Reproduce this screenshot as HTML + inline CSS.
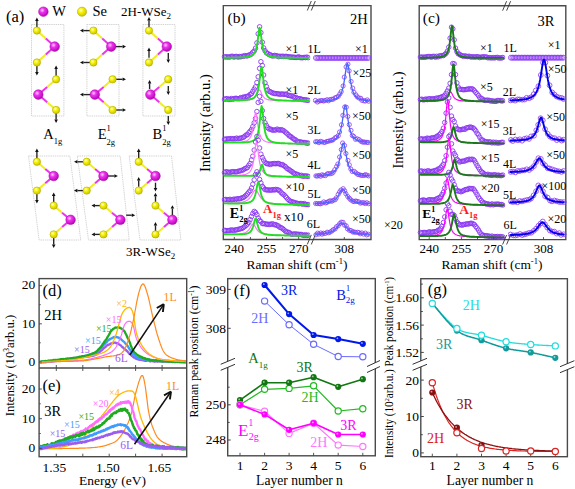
<!DOCTYPE html><html><head><meta charset="utf-8"><style>html,body{margin:0;padding:0;background:#fff;width:575px;height:489px;overflow:hidden;position:relative;font-family:"Liberation Serif", serif}</style></head><body><svg width="575" height="489" viewBox="0 0 575 489" style="position:absolute;left:0;top:0;font-family:'Liberation Serif', serif">
<rect width="575" height="489" fill="#fff"/>
<defs>
<radialGradient id="gW" cx="0.38" cy="0.35" r="0.7"><stop offset="0" stop-color="#ffd0ff"/><stop offset="0.35" stop-color="#ee33ee"/><stop offset="1" stop-color="#b000b0"/></radialGradient>
<radialGradient id="gS" cx="0.38" cy="0.35" r="0.7"><stop offset="0" stop-color="#ffffd0"/><stop offset="0.4" stop-color="#f4f000"/><stop offset="1" stop-color="#c8c000"/></radialGradient>
<marker id="ah" viewBox="0 0 10 10" refX="8" refY="5" markerWidth="4" markerHeight="4" orient="auto"><path d="M0,0 L10,5 L0,10 z" fill="#111"/></marker>
</defs>
<text x="6.0" y="21.6" font-size="16.5" text-anchor="start" fill="#000" font-weight="normal" >(a)</text>
<circle cx="43.4" cy="11.7" r="4.8" fill="url(#gW)" stroke="#a800a8" stroke-width="0.5"/>
<text x="52.3" y="15.8" font-size="14.5" text-anchor="start" fill="#000" font-weight="normal" >W</text>
<circle cx="82.0" cy="11.7" r="4.6" fill="url(#gS)" stroke="#a8a000" stroke-width="0.5"/>
<text x="92.5" y="15.8" font-size="14.5" text-anchor="start" fill="#000" font-weight="normal" >Se</text>
<text x="121.0" y="15.5" font-size="13" text-anchor="start" fill="#000" font-weight="normal" >2H-WSe<tspan font-size="9" dy="3">2</tspan></text>
<rect x="31.5" y="24.5" width="32.4" height="91.5" fill="none" stroke="#c8c8c8" stroke-width="0.8" stroke-dasharray="1.4,0.8"/>
<rect x="86.9" y="24.5" width="32.1" height="91.5" fill="none" stroke="#c8c8c8" stroke-width="0.8" stroke-dasharray="1.4,0.8"/>
<rect x="142.9" y="24.5" width="32.1" height="91.5" fill="none" stroke="#c8c8c8" stroke-width="0.8" stroke-dasharray="1.4,0.8"/>
<line x1="36.9" y1="30.6" x2="45.8" y2="38.6" stroke="#f0ee20" stroke-width="2.0" />
<line x1="45.8" y1="38.6" x2="54.7" y2="46.6" stroke="#ee33ee" stroke-width="2.0" />
<line x1="36.9" y1="62.5" x2="45.8" y2="54.5" stroke="#f0ee20" stroke-width="2.0" />
<line x1="45.8" y1="54.5" x2="54.7" y2="46.6" stroke="#ee33ee" stroke-width="2.0" />
<line x1="56.1" y1="79.3" x2="47.2" y2="86.9" stroke="#f0ee20" stroke-width="2.0" />
<line x1="47.2" y1="86.9" x2="38.3" y2="94.6" stroke="#ee33ee" stroke-width="2.0" />
<line x1="56.1" y1="110.0" x2="47.2" y2="102.3" stroke="#f0ee20" stroke-width="2.0" />
<line x1="47.2" y1="102.3" x2="38.3" y2="94.6" stroke="#ee33ee" stroke-width="2.0" />
<line x1="93.4" y1="30.6" x2="102.3" y2="38.6" stroke="#f0ee20" stroke-width="2.0" />
<line x1="102.3" y1="38.6" x2="111.2" y2="46.6" stroke="#ee33ee" stroke-width="2.0" />
<line x1="93.4" y1="62.5" x2="102.3" y2="54.5" stroke="#f0ee20" stroke-width="2.0" />
<line x1="102.3" y1="54.5" x2="111.2" y2="46.6" stroke="#ee33ee" stroke-width="2.0" />
<line x1="112.6" y1="79.3" x2="103.7" y2="86.9" stroke="#f0ee20" stroke-width="2.0" />
<line x1="103.7" y1="86.9" x2="94.8" y2="94.6" stroke="#ee33ee" stroke-width="2.0" />
<line x1="112.6" y1="110.0" x2="103.7" y2="102.3" stroke="#f0ee20" stroke-width="2.0" />
<line x1="103.7" y1="102.3" x2="94.8" y2="94.6" stroke="#ee33ee" stroke-width="2.0" />
<line x1="149.0" y1="30.6" x2="157.9" y2="38.6" stroke="#f0ee20" stroke-width="2.0" />
<line x1="157.9" y1="38.6" x2="166.8" y2="46.6" stroke="#ee33ee" stroke-width="2.0" />
<line x1="149.0" y1="62.5" x2="157.9" y2="54.5" stroke="#f0ee20" stroke-width="2.0" />
<line x1="157.9" y1="54.5" x2="166.8" y2="46.6" stroke="#ee33ee" stroke-width="2.0" />
<line x1="168.2" y1="79.3" x2="159.3" y2="86.9" stroke="#f0ee20" stroke-width="2.0" />
<line x1="159.3" y1="86.9" x2="150.4" y2="94.6" stroke="#ee33ee" stroke-width="2.0" />
<line x1="168.2" y1="110.0" x2="159.3" y2="102.3" stroke="#f0ee20" stroke-width="2.0" />
<line x1="159.3" y1="102.3" x2="150.4" y2="94.6" stroke="#ee33ee" stroke-width="2.0" />
<line x1="36.9" y1="30.6" x2="36.9" y2="20.9" stroke="#222" stroke-width="1.35" />
<path d="M36.9,17.5 L38.7,20.9 L35.1,20.9 z" fill="#111"/>
<line x1="36.9" y1="62.5" x2="36.9" y2="72.1" stroke="#222" stroke-width="1.35" />
<path d="M36.9,75.5 L35.1,72.1 L38.7,72.1 z" fill="#111"/>
<line x1="56.1" y1="79.3" x2="56.1" y2="68.9" stroke="#222" stroke-width="1.35" />
<path d="M56.1,65.5 L57.9,68.9 L54.3,68.9 z" fill="#111"/>
<line x1="56.1" y1="110.0" x2="56.1" y2="119.6" stroke="#222" stroke-width="1.35" />
<path d="M56.1,123.0 L54.3,119.6 L57.9,119.6 z" fill="#111"/>
<line x1="93.4" y1="30.6" x2="83.4" y2="30.6" stroke="#222" stroke-width="1.35" />
<path d="M80.0,30.6 L83.4,28.8 L83.4,32.4 z" fill="#111"/>
<line x1="93.4" y1="62.5" x2="83.4" y2="62.5" stroke="#222" stroke-width="1.35" />
<path d="M80.0,62.5 L83.4,60.7 L83.4,64.3 z" fill="#111"/>
<line x1="94.8" y1="94.6" x2="83.4" y2="94.6" stroke="#222" stroke-width="1.35" />
<path d="M80.0,94.6 L83.4,92.8 L83.4,96.4 z" fill="#111"/>
<line x1="111.4" y1="46.6" x2="122.6" y2="46.6" stroke="#222" stroke-width="1.35" />
<path d="M126.0,46.6 L122.6,48.4 L122.6,44.8 z" fill="#111"/>
<line x1="112.8" y1="79.3" x2="122.6" y2="79.3" stroke="#222" stroke-width="1.35" />
<path d="M126.0,79.3 L122.6,81.1 L122.6,77.5 z" fill="#111"/>
<line x1="112.8" y1="110.0" x2="122.6" y2="110.0" stroke="#222" stroke-width="1.35" />
<path d="M126.0,110.0 L122.6,111.8 L122.6,108.2 z" fill="#111"/>
<line x1="149.0" y1="30.6" x2="149.0" y2="20.4" stroke="#222" stroke-width="1.35" />
<path d="M149.0,17.0 L150.8,20.4 L147.2,20.4 z" fill="#111"/>
<line x1="149.0" y1="57.8" x2="149.0" y2="50.9" stroke="#222" stroke-width="1.35" />
<path d="M149.0,47.5 L150.8,50.9 L147.2,50.9 z" fill="#111"/>
<line x1="168.3" y1="53.0" x2="168.3" y2="59.6" stroke="#222" stroke-width="1.35" />
<path d="M168.3,63.0 L166.5,59.6 L170.1,59.6 z" fill="#111"/>
<line x1="149.6" y1="89.0" x2="149.6" y2="83.4" stroke="#222" stroke-width="1.35" />
<path d="M149.6,80.0 L151.4,83.4 L147.8,83.4 z" fill="#111"/>
<line x1="168.3" y1="86.0" x2="168.3" y2="91.6" stroke="#222" stroke-width="1.35" />
<path d="M168.3,95.0 L166.5,91.6 L170.1,91.6 z" fill="#111"/>
<line x1="168.3" y1="116.0" x2="168.3" y2="121.6" stroke="#222" stroke-width="1.35" />
<path d="M168.3,125.0 L166.5,121.6 L170.1,121.6 z" fill="#111"/>
<circle cx="36.9" cy="30.6" r="3.7" fill="url(#gS)" stroke="#a8a000" stroke-width="0.5"/>
<circle cx="36.9" cy="62.5" r="3.7" fill="url(#gS)" stroke="#a8a000" stroke-width="0.5"/>
<circle cx="56.1" cy="79.3" r="3.7" fill="url(#gS)" stroke="#a8a000" stroke-width="0.5"/>
<circle cx="56.1" cy="110.0" r="3.7" fill="url(#gS)" stroke="#a8a000" stroke-width="0.5"/>
<circle cx="54.7" cy="46.6" r="4.8" fill="url(#gW)" stroke="#a800a8" stroke-width="0.5"/>
<circle cx="38.3" cy="94.6" r="4.8" fill="url(#gW)" stroke="#a800a8" stroke-width="0.5"/>
<circle cx="93.4" cy="30.6" r="3.7" fill="url(#gS)" stroke="#a8a000" stroke-width="0.5"/>
<circle cx="93.4" cy="62.5" r="3.7" fill="url(#gS)" stroke="#a8a000" stroke-width="0.5"/>
<circle cx="112.6" cy="79.3" r="3.7" fill="url(#gS)" stroke="#a8a000" stroke-width="0.5"/>
<circle cx="112.6" cy="110.0" r="3.7" fill="url(#gS)" stroke="#a8a000" stroke-width="0.5"/>
<circle cx="111.2" cy="46.6" r="4.8" fill="url(#gW)" stroke="#a800a8" stroke-width="0.5"/>
<circle cx="94.8" cy="94.6" r="4.8" fill="url(#gW)" stroke="#a800a8" stroke-width="0.5"/>
<circle cx="149.0" cy="30.6" r="3.7" fill="url(#gS)" stroke="#a8a000" stroke-width="0.5"/>
<circle cx="149.0" cy="62.5" r="3.7" fill="url(#gS)" stroke="#a8a000" stroke-width="0.5"/>
<circle cx="168.2" cy="79.3" r="3.7" fill="url(#gS)" stroke="#a8a000" stroke-width="0.5"/>
<circle cx="168.2" cy="110.0" r="3.7" fill="url(#gS)" stroke="#a8a000" stroke-width="0.5"/>
<circle cx="166.8" cy="46.6" r="4.8" fill="url(#gW)" stroke="#a800a8" stroke-width="0.5"/>
<circle cx="150.4" cy="94.6" r="4.8" fill="url(#gW)" stroke="#a800a8" stroke-width="0.5"/>
<text x="43.2" y="138.5" font-size="14.5" text-anchor="start" fill="#000" font-weight="normal" >A<tspan font-size="8.5" dy="5">1g</tspan></text>
<text x="97.7" y="138.5" font-size="14.5" text-anchor="start" fill="#000" font-weight="normal" >E<tspan font-size="8.5" dy="-7.5">1</tspan><tspan font-size="8.5" dx="-4.2" dy="13.5">2g</tspan></text>
<text x="152.6" y="138.5" font-size="14.5" text-anchor="start" fill="#000" font-weight="normal" >B<tspan font-size="8.5" dy="-7.5">1</tspan><tspan font-size="8.5" dx="-4.2" dy="13.5">2g</tspan></text>
<path d="M28.5,156 L69.9,156 L80.7,240 L39.1,240 z" fill="none" stroke="#c8c8c8" stroke-width="0.8" stroke-dasharray="1.4,0.8"/>
<path d="M77.3,156 L120.2,156 L129.2,240 L88.5,240 z" fill="none" stroke="#c8c8c8" stroke-width="0.8" stroke-dasharray="1.4,0.8"/>
<path d="M129.2,156 L171.5,156 L180.9,240 L140,240 z" fill="none" stroke="#c8c8c8" stroke-width="0.8" stroke-dasharray="1.4,0.8"/>
<line x1="36.9" y1="161.8" x2="45.3" y2="168.9" stroke="#f0ee20" stroke-width="2.0" />
<line x1="45.3" y1="168.9" x2="53.7" y2="176.0" stroke="#ee33ee" stroke-width="2.0" />
<line x1="36.9" y1="190.6" x2="45.3" y2="183.3" stroke="#f0ee20" stroke-width="2.0" />
<line x1="45.3" y1="183.3" x2="53.7" y2="176.0" stroke="#ee33ee" stroke-width="2.0" />
<line x1="53.7" y1="205.6" x2="62.1" y2="212.7" stroke="#f0ee20" stroke-width="2.0" />
<line x1="62.1" y1="212.7" x2="70.6" y2="219.8" stroke="#ee33ee" stroke-width="2.0" />
<line x1="53.7" y1="234.4" x2="62.1" y2="227.1" stroke="#f0ee20" stroke-width="2.0" />
<line x1="62.1" y1="227.1" x2="70.6" y2="219.8" stroke="#ee33ee" stroke-width="2.0" />
<line x1="86.7" y1="161.8" x2="95.1" y2="168.9" stroke="#f0ee20" stroke-width="2.0" />
<line x1="95.1" y1="168.9" x2="103.5" y2="176.0" stroke="#ee33ee" stroke-width="2.0" />
<line x1="86.7" y1="190.6" x2="95.1" y2="183.3" stroke="#f0ee20" stroke-width="2.0" />
<line x1="95.1" y1="183.3" x2="103.5" y2="176.0" stroke="#ee33ee" stroke-width="2.0" />
<line x1="103.5" y1="205.6" x2="112.0" y2="212.7" stroke="#f0ee20" stroke-width="2.0" />
<line x1="112.0" y1="212.7" x2="120.4" y2="219.8" stroke="#ee33ee" stroke-width="2.0" />
<line x1="103.5" y1="234.4" x2="112.0" y2="227.1" stroke="#f0ee20" stroke-width="2.0" />
<line x1="112.0" y1="227.1" x2="120.4" y2="219.8" stroke="#ee33ee" stroke-width="2.0" />
<line x1="138.7" y1="161.8" x2="147.1" y2="168.9" stroke="#f0ee20" stroke-width="2.0" />
<line x1="147.1" y1="168.9" x2="155.5" y2="176.0" stroke="#ee33ee" stroke-width="2.0" />
<line x1="138.7" y1="190.6" x2="147.1" y2="183.3" stroke="#f0ee20" stroke-width="2.0" />
<line x1="147.1" y1="183.3" x2="155.5" y2="176.0" stroke="#ee33ee" stroke-width="2.0" />
<line x1="155.5" y1="205.6" x2="163.9" y2="212.7" stroke="#f0ee20" stroke-width="2.0" />
<line x1="163.9" y1="212.7" x2="172.4" y2="219.8" stroke="#ee33ee" stroke-width="2.0" />
<line x1="155.5" y1="234.4" x2="163.9" y2="227.1" stroke="#f0ee20" stroke-width="2.0" />
<line x1="163.9" y1="227.1" x2="172.4" y2="219.8" stroke="#ee33ee" stroke-width="2.0" />
<line x1="36.9" y1="161.8" x2="36.9" y2="151.9" stroke="#222" stroke-width="1.35" />
<path d="M36.9,148.5 L38.7,151.9 L35.1,151.9 z" fill="#111"/>
<line x1="36.9" y1="190.6" x2="36.9" y2="200.1" stroke="#222" stroke-width="1.35" />
<path d="M36.9,203.5 L35.1,200.1 L38.7,200.1 z" fill="#111"/>
<line x1="53.7" y1="205.6" x2="53.7" y2="195.9" stroke="#222" stroke-width="1.35" />
<path d="M53.7,192.5 L55.5,195.9 L51.9,195.9 z" fill="#111"/>
<line x1="53.7" y1="234.4" x2="53.7" y2="244.6" stroke="#222" stroke-width="1.35" />
<path d="M53.7,248.0 L51.9,244.6 L55.5,244.6 z" fill="#111"/>
<line x1="86.7" y1="161.8" x2="77.4" y2="161.8" stroke="#222" stroke-width="1.35" />
<path d="M74.0,161.8 L77.4,160.0 L77.4,163.6 z" fill="#111"/>
<line x1="86.7" y1="190.6" x2="77.4" y2="190.6" stroke="#222" stroke-width="1.35" />
<path d="M74.0,190.6 L77.4,188.8 L77.4,192.4 z" fill="#111"/>
<line x1="103.8" y1="176.0" x2="114.4" y2="176.0" stroke="#222" stroke-width="1.35" />
<path d="M117.8,176.0 L114.4,177.8 L114.4,174.2 z" fill="#111"/>
<line x1="103.5" y1="205.6" x2="94.9" y2="205.6" stroke="#222" stroke-width="1.35" />
<path d="M91.5,205.6 L94.9,203.8 L94.9,207.4 z" fill="#111"/>
<line x1="103.5" y1="234.4" x2="94.9" y2="234.4" stroke="#222" stroke-width="1.35" />
<path d="M91.5,234.4 L94.9,232.6 L94.9,236.2 z" fill="#111"/>
<line x1="126.2" y1="215.2" x2="131.8" y2="215.2" stroke="#222" stroke-width="1.35" />
<path d="M135.2,215.2 L131.8,217.0 L131.8,213.4 z" fill="#111"/>
<line x1="138.7" y1="161.8" x2="138.7" y2="151.9" stroke="#222" stroke-width="1.35" />
<path d="M138.7,148.5 L140.5,151.9 L136.9,151.9 z" fill="#111"/>
<line x1="138.7" y1="186.7" x2="138.7" y2="180.4" stroke="#222" stroke-width="1.35" />
<path d="M138.7,177.0 L140.5,180.4 L136.9,180.4 z" fill="#111"/>
<line x1="155.5" y1="182.7" x2="155.5" y2="188.1" stroke="#222" stroke-width="1.35" />
<path d="M155.5,191.5 L153.7,188.1 L157.3,188.1 z" fill="#111"/>
<line x1="155.5" y1="201.8" x2="155.5" y2="196.2" stroke="#222" stroke-width="1.35" />
<path d="M155.5,192.8 L157.3,196.2 L153.7,196.2 z" fill="#111"/>
<line x1="172.4" y1="215.3" x2="172.4" y2="208.6" stroke="#222" stroke-width="1.35" />
<path d="M172.4,205.2 L174.2,208.6 L170.6,208.6 z" fill="#111"/>
<line x1="155.5" y1="232.0" x2="155.5" y2="225.4" stroke="#222" stroke-width="1.35" />
<path d="M155.5,222.0 L157.3,225.4 L153.7,225.4 z" fill="#111"/>
<circle cx="36.9" cy="161.8" r="3.7" fill="url(#gS)" stroke="#a8a000" stroke-width="0.5"/>
<circle cx="36.9" cy="190.6" r="3.7" fill="url(#gS)" stroke="#a8a000" stroke-width="0.5"/>
<circle cx="53.7" cy="205.6" r="3.7" fill="url(#gS)" stroke="#a8a000" stroke-width="0.5"/>
<circle cx="53.7" cy="234.4" r="3.7" fill="url(#gS)" stroke="#a8a000" stroke-width="0.5"/>
<circle cx="53.7" cy="176.0" r="4.8" fill="url(#gW)" stroke="#a800a8" stroke-width="0.5"/>
<circle cx="70.6" cy="219.8" r="4.8" fill="url(#gW)" stroke="#a800a8" stroke-width="0.5"/>
<circle cx="86.7" cy="161.8" r="3.7" fill="url(#gS)" stroke="#a8a000" stroke-width="0.5"/>
<circle cx="86.7" cy="190.6" r="3.7" fill="url(#gS)" stroke="#a8a000" stroke-width="0.5"/>
<circle cx="103.5" cy="205.6" r="3.7" fill="url(#gS)" stroke="#a8a000" stroke-width="0.5"/>
<circle cx="103.5" cy="234.4" r="3.7" fill="url(#gS)" stroke="#a8a000" stroke-width="0.5"/>
<circle cx="103.5" cy="176.0" r="4.8" fill="url(#gW)" stroke="#a800a8" stroke-width="0.5"/>
<circle cx="120.4" cy="219.8" r="4.8" fill="url(#gW)" stroke="#a800a8" stroke-width="0.5"/>
<circle cx="138.7" cy="161.8" r="3.7" fill="url(#gS)" stroke="#a8a000" stroke-width="0.5"/>
<circle cx="138.7" cy="190.6" r="3.7" fill="url(#gS)" stroke="#a8a000" stroke-width="0.5"/>
<circle cx="155.5" cy="205.6" r="3.7" fill="url(#gS)" stroke="#a8a000" stroke-width="0.5"/>
<circle cx="155.5" cy="234.4" r="3.7" fill="url(#gS)" stroke="#a8a000" stroke-width="0.5"/>
<circle cx="155.5" cy="176.0" r="4.8" fill="url(#gW)" stroke="#a800a8" stroke-width="0.5"/>
<circle cx="172.4" cy="219.8" r="4.8" fill="url(#gW)" stroke="#a800a8" stroke-width="0.5"/>
<text x="126.0" y="255.5" font-size="13" text-anchor="start" fill="#000" font-weight="normal" >3R-WSe<tspan font-size="9" dy="3">2</tspan></text>
<path d="M223.3,5.6 L371,5.6 L371,239.5 L223.3,239.5 z" fill="none" stroke="#4a4a4a" stroke-width="1.4"/>
<g fill="none" stroke="#8a38f2" stroke-width="0.9"><circle cx="224.5" cy="56.7" r="2.25"/><circle cx="225.8" cy="57.0" r="2.25"/><circle cx="227.2" cy="56.8" r="2.25"/><circle cx="228.5" cy="57.0" r="2.25"/><circle cx="229.9" cy="57.0" r="2.25"/><circle cx="231.2" cy="56.4" r="2.25"/><circle cx="232.6" cy="56.3" r="2.25"/><circle cx="233.9" cy="57.1" r="2.25"/><circle cx="235.3" cy="56.5" r="2.25"/><circle cx="236.6" cy="56.4" r="2.25"/><circle cx="238.0" cy="57.1" r="2.25"/><circle cx="239.3" cy="56.5" r="2.25"/><circle cx="240.7" cy="56.8" r="2.25"/><circle cx="242.0" cy="56.3" r="2.25"/><circle cx="243.4" cy="56.3" r="2.25"/><circle cx="244.7" cy="55.6" r="2.25"/><circle cx="246.1" cy="55.9" r="2.25"/><circle cx="247.4" cy="55.8" r="2.25"/><circle cx="248.8" cy="55.1" r="2.25"/><circle cx="250.1" cy="54.7" r="2.25"/><circle cx="251.5" cy="53.9" r="2.25"/><circle cx="252.8" cy="52.2" r="2.25"/><circle cx="254.2" cy="51.1" r="2.25"/><circle cx="255.5" cy="48.2" r="2.25"/><circle cx="256.9" cy="42.9" r="2.25"/><circle cx="258.2" cy="33.8" r="2.25"/><circle cx="259.6" cy="26.8" r="2.25"/><circle cx="260.9" cy="32.6" r="2.25"/><circle cx="262.3" cy="42.2" r="2.25"/><circle cx="263.6" cy="47.9" r="2.25"/><circle cx="265.0" cy="50.7" r="2.25"/><circle cx="266.4" cy="52.8" r="2.25"/><circle cx="267.7" cy="53.4" r="2.25"/><circle cx="269.1" cy="54.6" r="2.25"/><circle cx="270.4" cy="54.8" r="2.25"/><circle cx="271.8" cy="55.7" r="2.25"/><circle cx="273.1" cy="56.0" r="2.25"/><circle cx="274.5" cy="55.4" r="2.25"/><circle cx="275.8" cy="55.6" r="2.25"/><circle cx="277.2" cy="55.8" r="2.25"/><circle cx="278.5" cy="56.7" r="2.25"/><circle cx="279.9" cy="56.2" r="2.25"/><circle cx="281.2" cy="56.5" r="2.25"/><circle cx="282.6" cy="56.2" r="2.25"/><circle cx="283.9" cy="56.5" r="2.25"/><circle cx="285.3" cy="56.4" r="2.25"/><circle cx="286.6" cy="56.4" r="2.25"/><circle cx="288.0" cy="56.7" r="2.25"/><circle cx="289.3" cy="56.8" r="2.25"/><circle cx="290.7" cy="57.2" r="2.25"/><circle cx="292.0" cy="57.0" r="2.25"/><circle cx="293.4" cy="57.3" r="2.25"/><circle cx="294.7" cy="57.3" r="2.25"/><circle cx="296.1" cy="57.5" r="2.25"/><circle cx="297.4" cy="57.3" r="2.25"/><circle cx="298.8" cy="56.8" r="2.25"/><circle cx="300.1" cy="57.6" r="2.25"/><circle cx="301.5" cy="57.7" r="2.25"/><circle cx="302.8" cy="57.7" r="2.25"/><circle cx="304.2" cy="57.4" r="2.25"/><circle cx="305.5" cy="57.6" r="2.25"/><circle cx="306.9" cy="57.1" r="2.25"/><circle cx="308.2" cy="57.7" r="2.25"/></g>
<polyline points="223.8,57.7 224.5,57.7 225.2,57.7 225.9,57.7 226.6,57.7 227.3,57.7 228.0,57.7 228.7,57.7 229.4,57.7 230.1,57.7 230.8,57.7 231.5,57.7 232.2,57.7 232.9,57.7 233.6,57.6 234.3,57.6 235.0,57.6 235.7,57.6 236.4,57.6 237.1,57.6 237.8,57.6 238.5,57.5 239.2,57.5 239.9,57.5 240.6,57.5 241.3,57.4 242.0,57.4 242.7,57.4 243.4,57.3 244.1,57.3 244.8,57.2 245.5,57.1 246.2,57.1 246.9,57.0 247.6,56.9 248.3,56.7 249.0,56.6 249.7,56.4 250.4,56.2 251.1,55.9 251.8,55.5 252.5,55.1 253.2,54.5 253.9,53.8 254.6,52.8 255.3,51.4 256.0,49.4 256.7,46.6 257.4,42.7 258.1,37.4 258.8,31.5 259.5,27.7 260.2,28.8 260.9,34.0 261.6,39.8 262.3,44.6 263.0,48.0 263.7,50.4 264.4,52.1 265.1,53.3 265.8,54.2 266.5,54.8 267.2,55.3 267.9,55.7 268.6,56.0 269.3,56.3 270.0,56.5 270.7,56.7 271.4,56.8 272.1,56.9 272.8,57.0 273.5,57.1 274.2,57.2 274.9,57.3 275.6,57.3 276.3,57.4 277.0,57.4 277.7,57.5 278.4,57.5 279.1,57.5 279.8,57.6 280.5,57.6 281.2,57.6 281.9,57.7 282.6,57.7 283.3,57.7 284.0,57.7 284.7,57.7 285.4,57.7 286.1,57.8 286.8,57.8 287.5,57.8 288.2,57.8 288.9,57.8 289.6,57.8 290.3,57.8 291.0,57.8 291.7,57.8 292.4,57.8 293.1,57.8 293.8,57.9 294.5,57.9 295.2,57.9 295.9,57.9 296.6,57.9 297.3,57.9 298.0,57.9 298.7,57.9 299.4,57.9 300.1,57.9 300.8,57.9 301.5,57.9 302.2,57.9 302.9,57.9 303.6,57.9 304.3,57.9 305.0,57.9 305.7,57.9 306.4,57.9 307.1,57.9 307.8,57.9 308.5,57.9 309.2,57.9" fill="none" stroke="#22dd22" stroke-width="1.9" stroke-linejoin="round" />
<g fill="none" stroke="#8a38f2" stroke-width="0.8"><circle cx="315.9" cy="57.9" r="2.5"/><circle cx="317.4" cy="57.9" r="2.5"/><circle cx="318.9" cy="57.9" r="2.5"/><circle cx="320.4" cy="57.9" r="2.5"/><circle cx="321.9" cy="57.9" r="2.5"/><circle cx="323.4" cy="57.9" r="2.5"/><circle cx="324.9" cy="57.9" r="2.5"/><circle cx="326.4" cy="57.9" r="2.5"/><circle cx="327.9" cy="57.9" r="2.5"/><circle cx="329.4" cy="57.9" r="2.5"/><circle cx="330.9" cy="57.9" r="2.5"/><circle cx="332.4" cy="57.9" r="2.5"/><circle cx="333.9" cy="57.9" r="2.5"/><circle cx="335.4" cy="57.9" r="2.5"/><circle cx="336.9" cy="57.9" r="2.5"/><circle cx="338.4" cy="57.9" r="2.5"/><circle cx="339.9" cy="57.9" r="2.5"/><circle cx="341.4" cy="57.9" r="2.5"/><circle cx="342.9" cy="57.9" r="2.5"/><circle cx="344.4" cy="57.9" r="2.5"/><circle cx="345.9" cy="57.9" r="2.5"/><circle cx="347.4" cy="57.9" r="2.5"/><circle cx="348.9" cy="57.9" r="2.5"/><circle cx="350.4" cy="57.9" r="2.5"/><circle cx="351.9" cy="57.9" r="2.5"/><circle cx="353.4" cy="57.9" r="2.5"/><circle cx="354.9" cy="57.9" r="2.5"/><circle cx="356.4" cy="57.9" r="2.5"/><circle cx="357.9" cy="57.9" r="2.5"/><circle cx="359.4" cy="57.9" r="2.5"/><circle cx="360.9" cy="57.9" r="2.5"/><circle cx="362.4" cy="57.9" r="2.5"/><circle cx="363.9" cy="57.9" r="2.5"/><circle cx="365.4" cy="57.9" r="2.5"/><circle cx="366.9" cy="57.9" r="2.5"/><circle cx="368.4" cy="57.9" r="2.5"/></g>
<g fill="none" stroke="#8a38f2" stroke-width="0.9"><circle cx="224.5" cy="99.2" r="2.25"/><circle cx="225.8" cy="98.9" r="2.25"/><circle cx="227.2" cy="98.6" r="2.25"/><circle cx="228.5" cy="99.4" r="2.25"/><circle cx="229.9" cy="99.5" r="2.25"/><circle cx="231.2" cy="98.5" r="2.25"/><circle cx="232.6" cy="99.2" r="2.25"/><circle cx="233.9" cy="98.7" r="2.25"/><circle cx="235.3" cy="98.3" r="2.25"/><circle cx="236.6" cy="98.4" r="2.25"/><circle cx="238.0" cy="98.7" r="2.25"/><circle cx="239.3" cy="98.6" r="2.25"/><circle cx="240.7" cy="97.6" r="2.25"/><circle cx="242.0" cy="97.9" r="2.25"/><circle cx="243.4" cy="97.0" r="2.25"/><circle cx="244.7" cy="97.3" r="2.25"/><circle cx="246.1" cy="96.5" r="2.25"/><circle cx="247.4" cy="96.4" r="2.25"/><circle cx="248.8" cy="95.8" r="2.25"/><circle cx="250.1" cy="94.4" r="2.25"/><circle cx="251.5" cy="93.7" r="2.25"/><circle cx="252.8" cy="91.4" r="2.25"/><circle cx="254.2" cy="89.1" r="2.25"/><circle cx="255.5" cy="86.9" r="2.25"/><circle cx="256.9" cy="82.5" r="2.25"/><circle cx="258.2" cy="76.8" r="2.25"/><circle cx="259.6" cy="68.4" r="2.25"/><circle cx="260.9" cy="61.7" r="2.25"/><circle cx="262.3" cy="65.5" r="2.25"/><circle cx="263.6" cy="75.0" r="2.25"/><circle cx="265.0" cy="82.9" r="2.25"/><circle cx="266.4" cy="86.6" r="2.25"/><circle cx="267.7" cy="89.8" r="2.25"/><circle cx="269.1" cy="91.3" r="2.25"/><circle cx="270.4" cy="91.8" r="2.25"/><circle cx="271.8" cy="92.6" r="2.25"/><circle cx="273.1" cy="93.1" r="2.25"/><circle cx="274.5" cy="93.5" r="2.25"/><circle cx="275.8" cy="93.6" r="2.25"/><circle cx="277.2" cy="93.7" r="2.25"/><circle cx="278.5" cy="93.9" r="2.25"/><circle cx="279.9" cy="94.3" r="2.25"/><circle cx="281.2" cy="94.0" r="2.25"/><circle cx="282.6" cy="94.0" r="2.25"/><circle cx="283.9" cy="94.4" r="2.25"/><circle cx="285.3" cy="94.1" r="2.25"/><circle cx="286.6" cy="94.4" r="2.25"/><circle cx="288.0" cy="95.4" r="2.25"/><circle cx="289.3" cy="95.4" r="2.25"/><circle cx="290.7" cy="95.9" r="2.25"/><circle cx="292.0" cy="95.9" r="2.25"/><circle cx="293.4" cy="96.8" r="2.25"/><circle cx="294.7" cy="97.5" r="2.25"/><circle cx="296.1" cy="97.4" r="2.25"/><circle cx="297.4" cy="98.4" r="2.25"/><circle cx="298.8" cy="98.8" r="2.25"/><circle cx="300.1" cy="98.6" r="2.25"/><circle cx="301.5" cy="99.4" r="2.25"/><circle cx="302.8" cy="99.5" r="2.25"/><circle cx="304.2" cy="99.9" r="2.25"/><circle cx="305.5" cy="99.7" r="2.25"/><circle cx="306.9" cy="100.2" r="2.25"/><circle cx="308.2" cy="100.3" r="2.25"/></g>
<polyline points="223.8,100.5 224.5,100.5 225.2,100.5 225.9,100.5 226.6,100.5 227.3,100.5 228.0,100.5 228.7,100.5 229.4,100.5 230.1,100.5 230.8,100.5 231.5,100.5 232.2,100.5 232.9,100.5 233.6,100.5 234.3,100.5 235.0,100.5 235.7,100.5 236.4,100.5 237.1,100.5 237.8,100.5 238.5,100.5 239.2,100.5 239.9,100.4 240.6,100.4 241.3,100.4 242.0,100.4 242.7,100.4 243.4,100.3 244.1,100.3 244.8,100.3 245.5,100.2 246.2,100.2 246.9,100.1 247.6,100.1 248.3,100.0 249.0,99.9 249.7,99.8 250.4,99.6 251.1,99.5 251.8,99.3 252.5,99.0 253.2,98.7 253.9,98.2 254.6,97.7 255.3,96.9 256.0,95.9 256.7,94.7 257.4,93.2 258.1,91.5 258.8,90.2 259.5,89.8 260.2,90.5 260.9,92.0 261.6,93.6 262.3,95.1 263.0,96.3 263.7,97.2 264.4,97.9 265.1,98.4 265.8,98.8 266.5,99.1 267.2,99.4 267.9,99.6 268.6,99.8 269.3,99.9 270.0,100.0 270.7,100.1 271.4,100.2 272.1,100.2 272.8,100.3 273.5,100.3 274.2,100.4 274.9,100.4 275.6,100.5 276.3,100.5 277.0,100.5 277.7,100.5 278.4,100.6 279.1,100.6 279.8,100.6 280.5,100.6 281.2,100.6 281.9,100.7 282.6,100.7 283.3,100.7 284.0,100.7 284.7,100.7 285.4,100.7 286.1,100.7 286.8,100.7 287.5,100.7 288.2,100.7 288.9,100.8 289.6,100.8 290.3,100.8 291.0,100.8 291.7,100.8 292.4,100.8 293.1,100.8 293.8,100.8 294.5,100.8 295.2,100.8 295.9,100.8 296.6,100.8 297.3,100.8 298.0,100.8 298.7,100.8 299.4,100.8 300.1,100.8 300.8,100.8 301.5,100.8 302.2,100.8 302.9,100.8 303.6,100.8 304.3,100.8 305.0,100.8 305.7,100.9 306.4,100.9 307.1,100.9 307.8,100.9 308.5,100.9 309.2,100.9" fill="none" stroke="#ff77ff" stroke-width="1.2" stroke-linejoin="round" />
<polyline points="223.8,100.5 224.5,100.5 225.2,100.5 225.9,100.5 226.6,100.5 227.3,100.5 228.0,100.5 228.7,100.5 229.4,100.5 230.1,100.5 230.8,100.4 231.5,100.4 232.2,100.4 232.9,100.4 233.6,100.4 234.3,100.4 235.0,100.4 235.7,100.4 236.4,100.4 237.1,100.4 237.8,100.3 238.5,100.3 239.2,100.3 239.9,100.3 240.6,100.3 241.3,100.2 242.0,100.2 242.7,100.2 243.4,100.1 244.1,100.1 244.8,100.0 245.5,100.0 246.2,99.9 246.9,99.8 247.6,99.7 248.3,99.6 249.0,99.5 249.7,99.4 250.4,99.2 251.1,99.0 251.8,98.8 252.5,98.5 253.2,98.1 253.9,97.7 254.6,97.1 255.3,96.3 256.0,95.3 256.7,94.0 257.4,92.1 258.1,89.5 258.8,85.8 259.5,80.7 260.2,74.5 260.9,68.8 261.6,66.8 262.3,70.2 263.0,76.3 263.7,82.3 264.4,87.0 265.1,90.3 265.8,92.7 266.5,94.4 267.2,95.7 267.9,96.6 268.6,97.3 269.3,97.9 270.0,98.3 270.7,98.6 271.4,98.9 272.1,99.2 272.8,99.4 273.5,99.5 274.2,99.7 274.9,99.8 275.6,99.9 276.3,100.0 277.0,100.0 277.7,100.1 278.4,100.2 279.1,100.2 279.8,100.3 280.5,100.3 281.2,100.3 281.9,100.4 282.6,100.4 283.3,100.4 284.0,100.5 284.7,100.5 285.4,100.5 286.1,100.5 286.8,100.6 287.5,100.6 288.2,100.6 288.9,100.6 289.6,100.6 290.3,100.6 291.0,100.6 291.7,100.7 292.4,100.7 293.1,100.7 293.8,100.7 294.5,100.7 295.2,100.7 295.9,100.7 296.6,100.7 297.3,100.7 298.0,100.7 298.7,100.7 299.4,100.8 300.1,100.8 300.8,100.8 301.5,100.8 302.2,100.8 302.9,100.8 303.6,100.8 304.3,100.8 305.0,100.8 305.7,100.8 306.4,100.8 307.1,100.8 307.8,100.8 308.5,100.8 309.2,100.8" fill="none" stroke="#22dd22" stroke-width="1.9" stroke-linejoin="round" />
<g fill="none" stroke="#8a38f2" stroke-width="0.8"><circle cx="315.4" cy="100.5" r="2.1"/><circle cx="317.4" cy="102.0" r="2.1"/><circle cx="318.8" cy="101.1" r="2.1"/><circle cx="320.6" cy="100.7" r="2.1"/><circle cx="322.0" cy="100.6" r="2.1"/><circle cx="323.6" cy="101.0" r="2.1"/><circle cx="325.2" cy="100.5" r="2.1"/><circle cx="327.1" cy="99.7" r="2.1"/><circle cx="328.5" cy="100.8" r="2.1"/><circle cx="330.0" cy="99.6" r="2.1"/><circle cx="331.9" cy="99.3" r="2.1"/><circle cx="333.1" cy="99.2" r="2.1"/><circle cx="335.0" cy="97.9" r="2.1"/><circle cx="336.4" cy="97.4" r="2.1"/><circle cx="338.3" cy="96.3" r="2.1"/><circle cx="339.9" cy="93.9" r="2.1"/><circle cx="341.2" cy="91.6" r="2.1"/><circle cx="343.1" cy="86.0" r="2.1"/><circle cx="344.3" cy="77.1" r="2.1"/><circle cx="346.1" cy="66.9" r="2.1"/><circle cx="347.9" cy="64.2" r="2.1"/><circle cx="349.1" cy="70.8" r="2.1"/><circle cx="351.1" cy="81.5" r="2.1"/><circle cx="352.7" cy="88.1" r="2.1"/><circle cx="353.9" cy="92.3" r="2.1"/><circle cx="355.9" cy="94.9" r="2.1"/><circle cx="357.2" cy="96.8" r="2.1"/><circle cx="358.9" cy="98.0" r="2.1"/><circle cx="360.8" cy="98.3" r="2.1"/><circle cx="361.8" cy="100.3" r="2.1"/><circle cx="363.9" cy="100.8" r="2.1"/><circle cx="365.3" cy="101.0" r="2.1"/><circle cx="367.2" cy="99.9" r="2.1"/><circle cx="368.6" cy="101.2" r="2.1"/></g>
<polyline points="314.4,101.4 315.1,101.4 315.8,101.4 316.5,101.3 317.2,101.3 317.9,101.3 318.6,101.3 319.3,101.2 320.0,101.2 320.7,101.2 321.4,101.2 322.1,101.1 322.8,101.1 323.5,101.0 324.2,101.0 324.9,100.9 325.6,100.9 326.3,100.8 327.0,100.8 327.7,100.7 328.4,100.6 329.1,100.5 329.8,100.4 330.5,100.3 331.2,100.2 331.9,100.0 332.6,99.9 333.3,99.7 334.0,99.5 334.7,99.2 335.4,98.9 336.1,98.6 336.8,98.2 337.5,97.7 338.2,97.2 338.9,96.5 339.6,95.7 340.3,94.6 341.0,93.3 341.7,91.7 342.4,89.6 343.1,87.0 343.8,83.6 344.5,79.5 345.2,74.7 345.9,69.6 346.6,65.3 347.3,63.3 348.0,64.5 348.7,68.2 349.4,73.2 350.1,78.2 350.8,82.5 351.5,86.1 352.2,88.9 352.9,91.2 353.6,92.9 354.3,94.3 355.0,95.4 355.7,96.3 356.4,97.0 357.1,97.6 357.8,98.1 358.5,98.5 359.2,98.8 359.9,99.1 360.6,99.4 361.3,99.6 362.0,99.8 362.7,100.0 363.4,100.1 364.1,100.3 364.8,100.4 365.5,100.5 366.2,100.6 366.9,100.7 367.6,100.7 368.3,100.8 369.0,100.9 369.7,100.9 370.4,101.0" fill="none" stroke="#4466ff" stroke-width="1.3" stroke-linejoin="round" />
<g fill="none" stroke="#8a38f2" stroke-width="0.9"><circle cx="224.5" cy="139.3" r="2.25"/><circle cx="225.8" cy="139.1" r="2.25"/><circle cx="227.2" cy="138.9" r="2.25"/><circle cx="228.5" cy="138.9" r="2.25"/><circle cx="229.9" cy="138.8" r="2.25"/><circle cx="231.2" cy="138.6" r="2.25"/><circle cx="232.6" cy="139.0" r="2.25"/><circle cx="233.9" cy="138.6" r="2.25"/><circle cx="235.3" cy="139.0" r="2.25"/><circle cx="236.6" cy="138.1" r="2.25"/><circle cx="238.0" cy="138.8" r="2.25"/><circle cx="239.3" cy="138.3" r="2.25"/><circle cx="240.7" cy="138.2" r="2.25"/><circle cx="242.0" cy="137.8" r="2.25"/><circle cx="243.4" cy="137.3" r="2.25"/><circle cx="244.7" cy="136.3" r="2.25"/><circle cx="246.1" cy="135.0" r="2.25"/><circle cx="247.4" cy="134.7" r="2.25"/><circle cx="248.8" cy="132.8" r="2.25"/><circle cx="250.1" cy="131.3" r="2.25"/><circle cx="251.5" cy="129.5" r="2.25"/><circle cx="252.8" cy="126.6" r="2.25"/><circle cx="254.2" cy="122.8" r="2.25"/><circle cx="255.5" cy="118.5" r="2.25"/><circle cx="256.9" cy="111.5" r="2.25"/><circle cx="258.2" cy="102.4" r="2.25"/><circle cx="259.6" cy="96.3" r="2.25"/><circle cx="260.9" cy="101.4" r="2.25"/><circle cx="262.3" cy="110.7" r="2.25"/><circle cx="263.6" cy="118.5" r="2.25"/><circle cx="265.0" cy="122.8" r="2.25"/><circle cx="266.4" cy="125.5" r="2.25"/><circle cx="267.7" cy="127.7" r="2.25"/><circle cx="269.1" cy="129.0" r="2.25"/><circle cx="270.4" cy="129.0" r="2.25"/><circle cx="271.8" cy="129.9" r="2.25"/><circle cx="273.1" cy="130.1" r="2.25"/><circle cx="274.5" cy="130.0" r="2.25"/><circle cx="275.8" cy="130.0" r="2.25"/><circle cx="277.2" cy="129.1" r="2.25"/><circle cx="278.5" cy="129.8" r="2.25"/><circle cx="279.9" cy="130.1" r="2.25"/><circle cx="281.2" cy="129.6" r="2.25"/><circle cx="282.6" cy="130.2" r="2.25"/><circle cx="283.9" cy="130.9" r="2.25"/><circle cx="285.3" cy="132.1" r="2.25"/><circle cx="286.6" cy="133.1" r="2.25"/><circle cx="288.0" cy="134.4" r="2.25"/><circle cx="289.3" cy="135.9" r="2.25"/><circle cx="290.7" cy="136.4" r="2.25"/><circle cx="292.0" cy="137.6" r="2.25"/><circle cx="293.4" cy="138.7" r="2.25"/><circle cx="294.7" cy="139.5" r="2.25"/><circle cx="296.1" cy="140.2" r="2.25"/><circle cx="297.4" cy="141.7" r="2.25"/><circle cx="298.8" cy="142.1" r="2.25"/><circle cx="300.1" cy="141.7" r="2.25"/><circle cx="301.5" cy="142.4" r="2.25"/><circle cx="302.8" cy="142.4" r="2.25"/><circle cx="304.2" cy="142.5" r="2.25"/><circle cx="305.5" cy="142.7" r="2.25"/><circle cx="306.9" cy="143.1" r="2.25"/><circle cx="308.2" cy="143.1" r="2.25"/></g>
<polyline points="223.8,142.5 224.5,142.5 225.2,142.5 225.9,142.5 226.6,142.5 227.3,142.5 228.0,142.5 228.7,142.5 229.4,142.5 230.1,142.5 230.8,142.5 231.5,142.5 232.2,142.5 232.9,142.5 233.6,142.5 234.3,142.5 235.0,142.4 235.7,142.4 236.4,142.4 237.1,142.4 237.8,142.3 238.5,142.3 239.2,142.2 239.9,142.2 240.6,142.1 241.3,142.1 242.0,142.0 242.7,141.9 243.4,141.8 244.1,141.6 244.8,141.4 245.5,141.2 246.2,141.0 246.9,140.7 247.6,140.3 248.3,139.8 249.0,139.1 249.7,138.3 250.4,137.2 251.1,135.7 251.8,133.7 252.5,130.9 253.2,127.1 253.9,122.3 254.6,117.0 255.3,113.0 256.0,112.7 256.7,116.3 257.4,121.6 258.1,126.6 258.8,130.5 259.5,133.5 260.2,135.6 260.9,137.2 261.6,138.4 262.3,139.2 263.0,139.9 263.7,140.5 264.4,140.9 265.1,141.2 265.8,141.5 266.5,141.8 267.2,142.0 267.9,142.1 268.6,142.3 269.3,142.4 270.0,142.5 270.7,142.6 271.4,142.7 272.1,142.8 272.8,142.9 273.5,142.9 274.2,143.0 274.9,143.0 275.6,143.1 276.3,143.1 277.0,143.2 277.7,143.2 278.4,143.2 279.1,143.3 279.8,143.3 280.5,143.3 281.2,143.3 281.9,143.4 282.6,143.4 283.3,143.4 284.0,143.4 284.7,143.5 285.4,143.5 286.1,143.5 286.8,143.5 287.5,143.5 288.2,143.6 288.9,143.6 289.6,143.6 290.3,143.6 291.0,143.6 291.7,143.6 292.4,143.6 293.1,143.6 293.8,143.7 294.5,143.7 295.2,143.7 295.9,143.7 296.6,143.7 297.3,143.7 298.0,143.7 298.7,143.7 299.4,143.7 300.1,143.7 300.8,143.8 301.5,143.8 302.2,143.8 302.9,143.8 303.6,143.8 304.3,143.8 305.0,143.8 305.7,143.8 306.4,143.8 307.1,143.8 307.8,143.8 308.5,143.8 309.2,143.8" fill="none" stroke="#ff77ff" stroke-width="1.2" stroke-linejoin="round" />
<polyline points="223.8,142.5 224.5,142.6 225.2,142.6 225.9,142.6 226.6,142.6 227.3,142.6 228.0,142.6 228.7,142.6 229.4,142.6 230.1,142.6 230.8,142.6 231.5,142.6 232.2,142.6 232.9,142.6 233.6,142.6 234.3,142.6 235.0,142.6 235.7,142.6 236.4,142.6 237.1,142.6 237.8,142.6 238.5,142.6 239.2,142.6 239.9,142.6 240.6,142.6 241.3,142.6 242.0,142.5 242.7,142.5 243.4,142.5 244.1,142.5 244.8,142.4 245.5,142.4 246.2,142.3 246.9,142.3 247.6,142.2 248.3,142.1 249.0,142.0 249.7,141.9 250.4,141.7 251.1,141.5 251.8,141.3 252.5,141.0 253.2,140.7 253.9,140.3 254.6,139.7 255.3,139.0 256.0,138.0 256.7,136.8 257.4,135.0 258.1,132.5 258.8,128.9 259.5,123.8 260.2,117.1 260.9,109.9 261.6,106.0 262.3,108.3 263.0,115.0 263.7,122.1 264.4,127.7 265.1,131.7 265.8,134.5 266.5,136.5 267.2,137.9 267.9,139.0 268.6,139.7 269.3,140.4 270.0,140.8 270.7,141.2 271.4,141.5 272.1,141.8 272.8,142.0 273.5,142.2 274.2,142.4 274.9,142.5 275.6,142.6 276.3,142.7 277.0,142.8 277.7,142.9 278.4,142.9 279.1,143.0 279.8,143.1 280.5,143.1 281.2,143.2 281.9,143.2 282.6,143.2 283.3,143.3 284.0,143.3 284.7,143.3 285.4,143.4 286.1,143.4 286.8,143.4 287.5,143.4 288.2,143.5 288.9,143.5 289.6,143.5 290.3,143.5 291.0,143.5 291.7,143.6 292.4,143.6 293.1,143.6 293.8,143.6 294.5,143.6 295.2,143.6 295.9,143.7 296.6,143.7 297.3,143.7 298.0,143.7 298.7,143.7 299.4,143.7 300.1,143.7 300.8,143.7 301.5,143.7 302.2,143.7 302.9,143.8 303.6,143.8 304.3,143.8 305.0,143.8 305.7,143.8 306.4,143.8 307.1,143.8 307.8,143.8 308.5,143.8 309.2,143.8" fill="none" stroke="#22dd22" stroke-width="1.9" stroke-linejoin="round" />
<g fill="none" stroke="#8a38f2" stroke-width="0.8"><circle cx="315.6" cy="141.8" r="2.1"/><circle cx="317.2" cy="141.7" r="2.1"/><circle cx="318.9" cy="142.6" r="2.1"/><circle cx="320.4" cy="141.4" r="2.1"/><circle cx="321.9" cy="141.8" r="2.1"/><circle cx="323.8" cy="142.4" r="2.1"/><circle cx="325.2" cy="142.3" r="2.1"/><circle cx="327.0" cy="141.4" r="2.1"/><circle cx="328.4" cy="141.2" r="2.1"/><circle cx="330.2" cy="140.7" r="2.1"/><circle cx="331.8" cy="140.3" r="2.1"/><circle cx="333.1" cy="139.7" r="2.1"/><circle cx="335.0" cy="137.9" r="2.1"/><circle cx="336.5" cy="137.1" r="2.1"/><circle cx="338.3" cy="135.7" r="2.1"/><circle cx="339.6" cy="132.0" r="2.1"/><circle cx="341.5" cy="124.8" r="2.1"/><circle cx="342.9" cy="115.4" r="2.1"/><circle cx="344.7" cy="107.0" r="2.1"/><circle cx="346.3" cy="107.2" r="2.1"/><circle cx="347.8" cy="116.5" r="2.1"/><circle cx="349.3" cy="124.6" r="2.1"/><circle cx="351.0" cy="130.4" r="2.1"/><circle cx="352.3" cy="135.4" r="2.1"/><circle cx="353.8" cy="136.5" r="2.1"/><circle cx="355.5" cy="139.3" r="2.1"/><circle cx="357.1" cy="138.8" r="2.1"/><circle cx="359.1" cy="139.6" r="2.1"/><circle cx="360.7" cy="141.1" r="2.1"/><circle cx="362.3" cy="142.0" r="2.1"/><circle cx="363.7" cy="142.0" r="2.1"/><circle cx="365.0" cy="142.2" r="2.1"/><circle cx="366.9" cy="142.3" r="2.1"/><circle cx="368.3" cy="142.5" r="2.1"/></g>
<polyline points="314.4,142.5 315.1,142.5 315.8,142.5 316.5,142.5 317.2,142.5 317.9,142.4 318.6,142.4 319.3,142.4 320.0,142.3 320.7,142.3 321.4,142.2 322.1,142.2 322.8,142.2 323.5,142.1 324.2,142.0 324.9,142.0 325.6,141.9 326.3,141.8 327.0,141.7 327.7,141.6 328.4,141.5 329.1,141.4 329.8,141.3 330.5,141.1 331.2,140.9 331.9,140.7 332.6,140.5 333.3,140.2 334.0,139.8 334.7,139.5 335.4,139.0 336.1,138.4 336.8,137.8 337.5,136.9 338.2,135.9 338.9,134.6 339.6,133.0 340.3,131.0 341.0,128.4 341.7,125.1 342.4,121.0 343.1,116.2 343.8,111.2 344.5,107.0 345.2,105.0 345.9,106.1 346.6,109.8 347.3,114.8 348.0,119.7 348.7,124.0 349.4,127.5 350.1,130.3 350.8,132.5 351.5,134.2 352.2,135.6 352.9,136.7 353.6,137.5 354.3,138.3 355.0,138.8 355.7,139.3 356.4,139.7 357.1,140.1 357.8,140.4 358.5,140.6 359.2,140.9 359.9,141.0 360.6,141.2 361.3,141.4 362.0,141.5 362.7,141.6 363.4,141.7 364.1,141.8 364.8,141.9 365.5,142.0 366.2,142.0 366.9,142.1 367.6,142.1 368.3,142.2 369.0,142.2 369.7,142.3 370.4,142.3" fill="none" stroke="#4466ff" stroke-width="1.3" stroke-linejoin="round" />
<g fill="none" stroke="#8a38f2" stroke-width="0.9"><circle cx="224.5" cy="172.6" r="2.25"/><circle cx="225.8" cy="171.7" r="2.25"/><circle cx="227.2" cy="172.0" r="2.25"/><circle cx="228.5" cy="172.2" r="2.25"/><circle cx="229.9" cy="172.5" r="2.25"/><circle cx="231.2" cy="171.8" r="2.25"/><circle cx="232.6" cy="171.7" r="2.25"/><circle cx="233.9" cy="171.7" r="2.25"/><circle cx="235.3" cy="171.9" r="2.25"/><circle cx="236.6" cy="171.9" r="2.25"/><circle cx="238.0" cy="171.3" r="2.25"/><circle cx="239.3" cy="171.0" r="2.25"/><circle cx="240.7" cy="170.7" r="2.25"/><circle cx="242.0" cy="170.2" r="2.25"/><circle cx="243.4" cy="169.8" r="2.25"/><circle cx="244.7" cy="168.7" r="2.25"/><circle cx="246.1" cy="168.2" r="2.25"/><circle cx="247.4" cy="167.5" r="2.25"/><circle cx="248.8" cy="165.3" r="2.25"/><circle cx="250.1" cy="163.5" r="2.25"/><circle cx="251.5" cy="159.9" r="2.25"/><circle cx="252.8" cy="156.2" r="2.25"/><circle cx="254.2" cy="150.1" r="2.25"/><circle cx="255.5" cy="142.0" r="2.25"/><circle cx="256.9" cy="136.5" r="2.25"/><circle cx="258.2" cy="140.2" r="2.25"/><circle cx="259.6" cy="148.0" r="2.25"/><circle cx="260.9" cy="154.2" r="2.25"/><circle cx="262.3" cy="157.5" r="2.25"/><circle cx="263.6" cy="160.0" r="2.25"/><circle cx="265.0" cy="162.3" r="2.25"/><circle cx="266.4" cy="163.5" r="2.25"/><circle cx="267.7" cy="163.8" r="2.25"/><circle cx="269.1" cy="164.0" r="2.25"/><circle cx="270.4" cy="164.4" r="2.25"/><circle cx="271.8" cy="163.8" r="2.25"/><circle cx="273.1" cy="163.7" r="2.25"/><circle cx="274.5" cy="163.5" r="2.25"/><circle cx="275.8" cy="163.8" r="2.25"/><circle cx="277.2" cy="163.5" r="2.25"/><circle cx="278.5" cy="163.5" r="2.25"/><circle cx="279.9" cy="164.1" r="2.25"/><circle cx="281.2" cy="164.7" r="2.25"/><circle cx="282.6" cy="164.6" r="2.25"/><circle cx="283.9" cy="165.8" r="2.25"/><circle cx="285.3" cy="166.5" r="2.25"/><circle cx="286.6" cy="168.1" r="2.25"/><circle cx="288.0" cy="169.0" r="2.25"/><circle cx="289.3" cy="169.8" r="2.25"/><circle cx="290.7" cy="170.8" r="2.25"/><circle cx="292.0" cy="171.6" r="2.25"/><circle cx="293.4" cy="172.9" r="2.25"/><circle cx="294.7" cy="173.6" r="2.25"/><circle cx="296.1" cy="174.0" r="2.25"/><circle cx="297.4" cy="174.6" r="2.25"/><circle cx="298.8" cy="175.0" r="2.25"/><circle cx="300.1" cy="175.7" r="2.25"/><circle cx="301.5" cy="175.3" r="2.25"/><circle cx="302.8" cy="176.3" r="2.25"/><circle cx="304.2" cy="175.9" r="2.25"/><circle cx="305.5" cy="176.1" r="2.25"/><circle cx="306.9" cy="176.0" r="2.25"/><circle cx="308.2" cy="176.4" r="2.25"/></g>
<polyline points="223.8,175.5 224.5,175.5 225.2,175.5 225.9,175.5 226.6,175.5 227.3,175.5 228.0,175.5 228.7,175.5 229.4,175.5 230.1,175.5 230.8,175.5 231.5,175.5 232.2,175.5 232.9,175.5 233.6,175.5 234.3,175.4 235.0,175.4 235.7,175.4 236.4,175.4 237.1,175.4 237.8,175.3 238.5,175.3 239.2,175.2 239.9,175.2 240.6,175.1 241.3,175.1 242.0,175.0 242.7,174.9 243.4,174.8 244.1,174.6 244.8,174.5 245.5,174.3 246.2,174.1 246.9,173.8 247.6,173.5 248.3,173.0 249.0,172.5 249.7,171.8 250.4,170.9 251.1,169.8 251.8,168.2 252.5,166.1 253.2,163.1 253.9,159.1 254.6,153.9 255.3,148.0 256.0,143.2 256.7,142.2 257.4,145.7 258.1,151.5 258.8,157.1 259.5,161.6 260.2,165.0 260.9,167.5 261.6,169.3 262.3,170.7 263.0,171.7 263.7,172.5 264.4,173.1 265.1,173.6 265.8,174.0 266.5,174.3 267.2,174.6 267.9,174.8 268.6,175.0 269.3,175.1 270.0,175.3 270.7,175.4 271.4,175.5 272.1,175.6 272.8,175.7 273.5,175.8 274.2,175.9 274.9,175.9 275.6,176.0 276.3,176.0 277.0,176.1 277.7,176.1 278.4,176.2 279.1,176.2 279.8,176.2 280.5,176.3 281.2,176.3 281.9,176.3 282.6,176.3 283.3,176.4 284.0,176.4 284.7,176.4 285.4,176.4 286.1,176.5 286.8,176.5 287.5,176.5 288.2,176.5 288.9,176.5 289.6,176.6 290.3,176.6 291.0,176.6 291.7,176.6 292.4,176.6 293.1,176.6 293.8,176.6 294.5,176.7 295.2,176.7 295.9,176.7 296.6,176.7 297.3,176.7 298.0,176.7 298.7,176.7 299.4,176.7 300.1,176.7 300.8,176.7 301.5,176.8 302.2,176.8 302.9,176.8 303.6,176.8 304.3,176.8 305.0,176.8 305.7,176.8 306.4,176.8 307.1,176.8 307.8,176.8 308.5,176.8 309.2,176.8" fill="none" stroke="#ff77ff" stroke-width="1.2" stroke-linejoin="round" />
<polyline points="223.8,175.7 224.5,175.7 225.2,175.7 225.9,175.7 226.6,175.7 227.3,175.7 228.0,175.7 228.7,175.7 229.4,175.8 230.1,175.8 230.8,175.8 231.5,175.8 232.2,175.8 232.9,175.8 233.6,175.8 234.3,175.8 235.0,175.9 235.7,175.9 236.4,175.9 237.1,175.9 237.8,175.9 238.5,175.9 239.2,175.9 239.9,175.9 240.6,175.9 241.3,175.9 242.0,175.9 242.7,175.9 243.4,175.9 244.1,175.9 244.8,175.9 245.5,175.9 246.2,175.9 246.9,175.9 247.6,175.9 248.3,175.9 249.0,175.9 249.7,175.9 250.4,175.9 251.1,175.8 251.8,175.8 252.5,175.7 253.2,175.7 253.9,175.6 254.6,175.5 255.3,175.3 256.0,175.1 256.7,174.8 257.4,174.4 258.1,173.9 258.8,173.0 259.5,171.8 260.2,169.9 260.9,167.3 261.6,165.0 262.3,164.9 263.0,167.0 263.7,169.6 264.4,171.6 265.1,173.0 265.8,173.9 266.5,174.5 267.2,175.0 267.9,175.3 268.6,175.5 269.3,175.7 270.0,175.8 270.7,175.9 271.4,176.0 272.1,176.1 272.8,176.2 273.5,176.2 274.2,176.3 274.9,176.3 275.6,176.3 276.3,176.4 277.0,176.4 277.7,176.4 278.4,176.5 279.1,176.5 279.8,176.5 280.5,176.5 281.2,176.5 281.9,176.6 282.6,176.6 283.3,176.6 284.0,176.6 284.7,176.6 285.4,176.6 286.1,176.6 286.8,176.7 287.5,176.7 288.2,176.7 288.9,176.7 289.6,176.7 290.3,176.7 291.0,176.7 291.7,176.7 292.4,176.7 293.1,176.7 293.8,176.8 294.5,176.8 295.2,176.8 295.9,176.8 296.6,176.8 297.3,176.8 298.0,176.8 298.7,176.8 299.4,176.8 300.1,176.8 300.8,176.8 301.5,176.8 302.2,176.8 302.9,176.8 303.6,176.9 304.3,176.9 305.0,176.9 305.7,176.9 306.4,176.9 307.1,176.9 307.8,176.9 308.5,176.9 309.2,176.9" fill="none" stroke="#22dd22" stroke-width="1.9" stroke-linejoin="round" />
<g fill="none" stroke="#8a38f2" stroke-width="0.8"><circle cx="315.9" cy="175.9" r="2.1"/><circle cx="317.3" cy="176.1" r="2.1"/><circle cx="319.1" cy="175.4" r="2.1"/><circle cx="320.6" cy="176.2" r="2.1"/><circle cx="322.1" cy="174.8" r="2.1"/><circle cx="323.5" cy="175.4" r="2.1"/><circle cx="325.4" cy="175.6" r="2.1"/><circle cx="327.1" cy="174.0" r="2.1"/><circle cx="328.3" cy="173.6" r="2.1"/><circle cx="329.9" cy="173.8" r="2.1"/><circle cx="331.9" cy="173.4" r="2.1"/><circle cx="333.2" cy="172.2" r="2.1"/><circle cx="334.8" cy="169.7" r="2.1"/><circle cx="336.6" cy="166.6" r="2.1"/><circle cx="337.9" cy="164.0" r="2.1"/><circle cx="339.6" cy="157.0" r="2.1"/><circle cx="341.3" cy="149.6" r="2.1"/><circle cx="342.6" cy="143.0" r="2.1"/><circle cx="344.5" cy="145.5" r="2.1"/><circle cx="345.9" cy="153.5" r="2.1"/><circle cx="348.0" cy="160.4" r="2.1"/><circle cx="349.3" cy="164.9" r="2.1"/><circle cx="350.8" cy="169.0" r="2.1"/><circle cx="352.3" cy="171.5" r="2.1"/><circle cx="354.3" cy="171.4" r="2.1"/><circle cx="356.0" cy="172.9" r="2.1"/><circle cx="357.5" cy="174.2" r="2.1"/><circle cx="358.8" cy="174.6" r="2.1"/><circle cx="360.6" cy="175.2" r="2.1"/><circle cx="362.0" cy="175.4" r="2.1"/><circle cx="364.0" cy="175.5" r="2.1"/><circle cx="365.3" cy="174.6" r="2.1"/><circle cx="366.9" cy="175.2" r="2.1"/><circle cx="368.6" cy="175.9" r="2.1"/></g>
<polyline points="314.4,175.9 315.1,175.9 315.8,175.9 316.5,175.8 317.2,175.8 317.9,175.8 318.6,175.7 319.3,175.7 320.0,175.6 320.7,175.6 321.4,175.5 322.1,175.5 322.8,175.4 323.5,175.3 324.2,175.2 324.9,175.1 325.6,175.0 326.3,174.9 327.0,174.8 327.7,174.6 328.4,174.5 329.1,174.3 329.8,174.0 330.5,173.8 331.2,173.5 331.9,173.2 332.6,172.7 333.3,172.3 334.0,171.7 334.7,171.0 335.4,170.2 336.1,169.2 336.8,168.0 337.5,166.4 338.2,164.5 338.9,162.2 339.6,159.3 340.3,155.9 341.0,152.0 341.7,148.0 342.4,144.8 343.1,143.1 343.8,143.6 344.5,146.0 345.2,149.7 345.9,153.7 346.6,157.4 347.3,160.6 348.0,163.3 348.7,165.4 349.4,167.1 350.1,168.5 350.8,169.7 351.5,170.6 352.2,171.3 352.9,172.0 353.6,172.5 354.3,172.9 355.0,173.3 355.7,173.6 356.4,173.9 357.1,174.1 357.8,174.3 358.5,174.5 359.2,174.7 359.9,174.8 360.6,175.0 361.3,175.1 362.0,175.2 362.7,175.3 363.4,175.3 364.1,175.4 364.8,175.5 365.5,175.5 366.2,175.6 366.9,175.7 367.6,175.7 368.3,175.7 369.0,175.8 369.7,175.8 370.4,175.9" fill="none" stroke="#4466ff" stroke-width="1.3" stroke-linejoin="round" />
<g fill="none" stroke="#8a38f2" stroke-width="0.9"><circle cx="224.5" cy="199.7" r="2.25"/><circle cx="225.8" cy="199.4" r="2.25"/><circle cx="227.2" cy="199.8" r="2.25"/><circle cx="228.5" cy="199.8" r="2.25"/><circle cx="229.9" cy="199.3" r="2.25"/><circle cx="231.2" cy="200.0" r="2.25"/><circle cx="232.6" cy="199.7" r="2.25"/><circle cx="233.9" cy="199.1" r="2.25"/><circle cx="235.3" cy="199.7" r="2.25"/><circle cx="236.6" cy="198.8" r="2.25"/><circle cx="238.0" cy="198.8" r="2.25"/><circle cx="239.3" cy="198.9" r="2.25"/><circle cx="240.7" cy="198.4" r="2.25"/><circle cx="242.0" cy="197.9" r="2.25"/><circle cx="243.4" cy="197.4" r="2.25"/><circle cx="244.7" cy="196.5" r="2.25"/><circle cx="246.1" cy="195.3" r="2.25"/><circle cx="247.4" cy="193.9" r="2.25"/><circle cx="248.8" cy="192.2" r="2.25"/><circle cx="250.1" cy="190.7" r="2.25"/><circle cx="251.5" cy="188.0" r="2.25"/><circle cx="252.8" cy="184.2" r="2.25"/><circle cx="254.2" cy="179.9" r="2.25"/><circle cx="255.5" cy="174.6" r="2.25"/><circle cx="256.9" cy="171.8" r="2.25"/><circle cx="258.2" cy="174.2" r="2.25"/><circle cx="259.6" cy="179.5" r="2.25"/><circle cx="260.9" cy="182.9" r="2.25"/><circle cx="262.3" cy="186.3" r="2.25"/><circle cx="263.6" cy="187.9" r="2.25"/><circle cx="265.0" cy="189.6" r="2.25"/><circle cx="266.4" cy="189.8" r="2.25"/><circle cx="267.7" cy="190.0" r="2.25"/><circle cx="269.1" cy="190.0" r="2.25"/><circle cx="270.4" cy="190.1" r="2.25"/><circle cx="271.8" cy="190.1" r="2.25"/><circle cx="273.1" cy="189.6" r="2.25"/><circle cx="274.5" cy="190.0" r="2.25"/><circle cx="275.8" cy="189.4" r="2.25"/><circle cx="277.2" cy="189.7" r="2.25"/><circle cx="278.5" cy="190.1" r="2.25"/><circle cx="279.9" cy="190.9" r="2.25"/><circle cx="281.2" cy="192.7" r="2.25"/><circle cx="282.6" cy="193.9" r="2.25"/><circle cx="283.9" cy="194.7" r="2.25"/><circle cx="285.3" cy="196.2" r="2.25"/><circle cx="286.6" cy="197.7" r="2.25"/><circle cx="288.0" cy="199.3" r="2.25"/><circle cx="289.3" cy="200.5" r="2.25"/><circle cx="290.7" cy="201.3" r="2.25"/><circle cx="292.0" cy="201.9" r="2.25"/><circle cx="293.4" cy="202.1" r="2.25"/><circle cx="294.7" cy="202.8" r="2.25"/><circle cx="296.1" cy="202.9" r="2.25"/><circle cx="297.4" cy="203.5" r="2.25"/><circle cx="298.8" cy="203.7" r="2.25"/><circle cx="300.1" cy="203.5" r="2.25"/><circle cx="301.5" cy="203.6" r="2.25"/><circle cx="302.8" cy="204.2" r="2.25"/><circle cx="304.2" cy="203.5" r="2.25"/><circle cx="305.5" cy="204.4" r="2.25"/><circle cx="306.9" cy="204.5" r="2.25"/><circle cx="308.2" cy="204.6" r="2.25"/></g>
<polyline points="223.8,203.2 224.5,203.2 225.2,203.2 225.9,203.2 226.6,203.2 227.3,203.2 228.0,203.2 228.7,203.2 229.4,203.1 230.1,203.1 230.8,203.1 231.5,203.1 232.2,203.1 232.9,203.1 233.6,203.0 234.3,203.0 235.0,203.0 235.7,202.9 236.4,202.9 237.1,202.8 237.8,202.8 238.5,202.7 239.2,202.6 239.9,202.6 240.6,202.5 241.3,202.3 242.0,202.2 242.7,202.1 243.4,201.9 244.1,201.7 244.8,201.4 245.5,201.2 246.2,200.8 246.9,200.4 247.6,200.0 248.3,199.4 249.0,198.8 249.7,198.0 250.4,197.1 251.1,196.1 251.8,195.0 252.5,193.7 253.2,192.4 253.9,191.3 254.6,190.4 255.3,190.0 256.0,190.2 256.7,190.8 257.4,191.8 258.1,193.1 258.8,194.4 259.5,195.6 260.2,196.8 260.9,197.8 261.6,198.6 262.3,199.3 263.0,200.0 263.7,200.5 264.4,201.0 265.1,201.4 265.8,201.7 266.5,202.0 267.2,202.2 267.9,202.4 268.6,202.6 269.3,202.8 270.0,203.0 270.7,203.1 271.4,203.2 272.1,203.3 272.8,203.4 273.5,203.5 274.2,203.6 274.9,203.7 275.6,203.7 276.3,203.8 277.0,203.8 277.7,203.9 278.4,203.9 279.1,204.0 279.8,204.0 280.5,204.1 281.2,204.1 281.9,204.2 282.6,204.2 283.3,204.2 284.0,204.2 284.7,204.3 285.4,204.3 286.1,204.3 286.8,204.4 287.5,204.4 288.2,204.4 288.9,204.4 289.6,204.4 290.3,204.5 291.0,204.5 291.7,204.5 292.4,204.5 293.1,204.5 293.8,204.6 294.5,204.6 295.2,204.6 295.9,204.6 296.6,204.6 297.3,204.6 298.0,204.6 298.7,204.6 299.4,204.7 300.1,204.7 300.8,204.7 301.5,204.7 302.2,204.7 302.9,204.7 303.6,204.7 304.3,204.7 305.0,204.7 305.7,204.7 306.4,204.8 307.1,204.8 307.8,204.8 308.5,204.8 309.2,204.8" fill="none" stroke="#ff77ff" stroke-width="1.2" stroke-linejoin="round" />
<polyline points="223.8,203.4 224.5,203.4 225.2,203.4 225.9,203.4 226.6,203.4 227.3,203.4 228.0,203.5 228.7,203.5 229.4,203.5 230.1,203.5 230.8,203.5 231.5,203.5 232.2,203.5 232.9,203.5 233.6,203.5 234.3,203.5 235.0,203.5 235.7,203.5 236.4,203.5 237.1,203.5 237.8,203.5 238.5,203.5 239.2,203.5 239.9,203.4 240.6,203.4 241.3,203.4 242.0,203.4 242.7,203.3 243.4,203.3 244.1,203.3 244.8,203.2 245.5,203.1 246.2,203.0 246.9,202.9 247.6,202.8 248.3,202.7 249.0,202.5 249.7,202.2 250.4,201.9 251.1,201.6 251.8,201.1 252.5,200.4 253.2,199.6 253.9,198.4 254.6,196.8 255.3,194.7 256.0,191.8 256.7,188.1 257.4,184.4 258.1,182.2 258.8,182.9 259.5,186.0 260.2,189.8 260.9,193.2 261.6,195.8 262.3,197.7 263.0,199.1 263.7,200.2 264.4,201.0 265.1,201.6 265.8,202.0 266.5,202.4 267.2,202.7 267.9,202.9 268.6,203.1 269.3,203.3 270.0,203.4 270.7,203.5 271.4,203.6 272.1,203.7 272.8,203.8 273.5,203.9 274.2,204.0 274.9,204.0 275.6,204.1 276.3,204.1 277.0,204.2 277.7,204.2 278.4,204.2 279.1,204.3 279.8,204.3 280.5,204.3 281.2,204.4 281.9,204.4 282.6,204.4 283.3,204.4 284.0,204.4 284.7,204.5 285.4,204.5 286.1,204.5 286.8,204.5 287.5,204.5 288.2,204.6 288.9,204.6 289.6,204.6 290.3,204.6 291.0,204.6 291.7,204.6 292.4,204.6 293.1,204.7 293.8,204.7 294.5,204.7 295.2,204.7 295.9,204.7 296.6,204.7 297.3,204.7 298.0,204.7 298.7,204.7 299.4,204.8 300.1,204.8 300.8,204.8 301.5,204.8 302.2,204.8 302.9,204.8 303.6,204.8 304.3,204.8 305.0,204.8 305.7,204.8 306.4,204.8 307.1,204.8 307.8,204.8 308.5,204.8 309.2,204.8" fill="none" stroke="#22dd22" stroke-width="1.9" stroke-linejoin="round" />
<g fill="none" stroke="#8a38f2" stroke-width="0.8"><circle cx="315.6" cy="203.5" r="2.1"/><circle cx="317.3" cy="203.6" r="2.1"/><circle cx="319.2" cy="203.6" r="2.1"/><circle cx="320.4" cy="203.8" r="2.1"/><circle cx="322.1" cy="203.2" r="2.1"/><circle cx="323.8" cy="201.9" r="2.1"/><circle cx="325.5" cy="202.9" r="2.1"/><circle cx="326.9" cy="202.4" r="2.1"/><circle cx="328.5" cy="201.5" r="2.1"/><circle cx="330.1" cy="200.8" r="2.1"/><circle cx="331.7" cy="201.3" r="2.1"/><circle cx="333.3" cy="200.3" r="2.1"/><circle cx="335.2" cy="199.7" r="2.1"/><circle cx="336.3" cy="197.9" r="2.1"/><circle cx="338.2" cy="194.4" r="2.1"/><circle cx="339.6" cy="192.0" r="2.1"/><circle cx="341.0" cy="190.0" r="2.1"/><circle cx="343.2" cy="188.7" r="2.1"/><circle cx="344.7" cy="190.8" r="2.1"/><circle cx="345.9" cy="193.8" r="2.1"/><circle cx="347.8" cy="196.6" r="2.1"/><circle cx="349.4" cy="198.3" r="2.1"/><circle cx="350.8" cy="199.9" r="2.1"/><circle cx="352.8" cy="201.1" r="2.1"/><circle cx="354.1" cy="201.6" r="2.1"/><circle cx="355.7" cy="201.0" r="2.1"/><circle cx="357.0" cy="201.4" r="2.1"/><circle cx="358.7" cy="201.8" r="2.1"/><circle cx="360.5" cy="203.1" r="2.1"/><circle cx="362.1" cy="202.7" r="2.1"/><circle cx="363.8" cy="202.7" r="2.1"/><circle cx="365.3" cy="203.6" r="2.1"/><circle cx="366.8" cy="202.7" r="2.1"/><circle cx="368.7" cy="203.7" r="2.1"/></g>
<polyline points="314.4,203.5 315.1,203.5 315.8,203.5 316.5,203.5 317.2,203.4 317.9,203.4 318.6,203.4 319.3,203.3 320.0,203.3 320.7,203.3 321.4,203.2 322.1,203.2 322.8,203.1 323.5,203.0 324.2,203.0 324.9,202.9 325.6,202.8 326.3,202.7 327.0,202.6 327.7,202.5 328.4,202.4 329.1,202.2 329.8,202.0 330.5,201.8 331.2,201.6 331.9,201.4 332.6,201.0 333.3,200.7 334.0,200.3 334.7,199.8 335.4,199.2 336.1,198.5 336.8,197.7 337.5,196.8 338.2,195.7 338.9,194.5 339.6,193.2 340.3,191.8 341.0,190.6 341.7,189.6 342.4,189.1 343.1,189.1 343.8,189.7 344.5,190.7 345.2,192.0 345.9,193.4 346.6,194.7 347.3,195.9 348.0,196.9 348.7,197.9 349.4,198.6 350.1,199.3 350.8,199.9 351.5,200.3 352.2,200.7 352.9,201.1 353.6,201.4 354.3,201.6 355.0,201.9 355.7,202.1 356.4,202.2 357.1,202.4 357.8,202.5 358.5,202.6 359.2,202.7 359.9,202.8 360.6,202.9 361.3,203.0 362.0,203.1 362.7,203.1 363.4,203.2 364.1,203.2 364.8,203.3 365.5,203.3 366.2,203.4 366.9,203.4 367.6,203.4 368.3,203.4 369.0,203.5 369.7,203.5 370.4,203.5" fill="none" stroke="#4466ff" stroke-width="1.3" stroke-linejoin="round" />
<g fill="none" stroke="#8a38f2" stroke-width="0.9"><circle cx="224.5" cy="230.4" r="2.25"/><circle cx="225.8" cy="230.5" r="2.25"/><circle cx="227.2" cy="230.6" r="2.25"/><circle cx="228.5" cy="230.7" r="2.25"/><circle cx="229.9" cy="230.3" r="2.25"/><circle cx="231.2" cy="230.0" r="2.25"/><circle cx="232.6" cy="230.1" r="2.25"/><circle cx="233.9" cy="230.6" r="2.25"/><circle cx="235.3" cy="229.8" r="2.25"/><circle cx="236.6" cy="229.9" r="2.25"/><circle cx="238.0" cy="229.4" r="2.25"/><circle cx="239.3" cy="229.1" r="2.25"/><circle cx="240.7" cy="228.7" r="2.25"/><circle cx="242.0" cy="228.4" r="2.25"/><circle cx="243.4" cy="227.5" r="2.25"/><circle cx="244.7" cy="226.5" r="2.25"/><circle cx="246.1" cy="225.4" r="2.25"/><circle cx="247.4" cy="224.0" r="2.25"/><circle cx="248.8" cy="222.5" r="2.25"/><circle cx="250.1" cy="219.6" r="2.25"/><circle cx="251.5" cy="216.5" r="2.25"/><circle cx="252.8" cy="213.5" r="2.25"/><circle cx="254.2" cy="211.4" r="2.25"/><circle cx="255.5" cy="212.5" r="2.25"/><circle cx="256.9" cy="214.7" r="2.25"/><circle cx="258.2" cy="218.0" r="2.25"/><circle cx="259.6" cy="220.4" r="2.25"/><circle cx="260.9" cy="221.6" r="2.25"/><circle cx="262.3" cy="223.6" r="2.25"/><circle cx="263.6" cy="223.6" r="2.25"/><circle cx="265.0" cy="223.8" r="2.25"/><circle cx="266.4" cy="224.3" r="2.25"/><circle cx="267.7" cy="224.1" r="2.25"/><circle cx="269.1" cy="224.5" r="2.25"/><circle cx="270.4" cy="224.2" r="2.25"/><circle cx="271.8" cy="224.0" r="2.25"/><circle cx="273.1" cy="224.0" r="2.25"/><circle cx="274.5" cy="224.8" r="2.25"/><circle cx="275.8" cy="224.6" r="2.25"/><circle cx="277.2" cy="225.6" r="2.25"/><circle cx="278.5" cy="226.0" r="2.25"/><circle cx="279.9" cy="227.4" r="2.25"/><circle cx="281.2" cy="227.7" r="2.25"/><circle cx="282.6" cy="228.6" r="2.25"/><circle cx="283.9" cy="229.7" r="2.25"/><circle cx="285.3" cy="231.1" r="2.25"/><circle cx="286.6" cy="231.8" r="2.25"/><circle cx="288.0" cy="232.2" r="2.25"/><circle cx="289.3" cy="232.6" r="2.25"/><circle cx="290.7" cy="233.7" r="2.25"/><circle cx="292.0" cy="234.3" r="2.25"/><circle cx="293.4" cy="234.2" r="2.25"/><circle cx="294.7" cy="233.9" r="2.25"/><circle cx="296.1" cy="234.1" r="2.25"/><circle cx="297.4" cy="234.2" r="2.25"/><circle cx="298.8" cy="234.4" r="2.25"/><circle cx="300.1" cy="234.4" r="2.25"/><circle cx="301.5" cy="234.5" r="2.25"/><circle cx="302.8" cy="235.1" r="2.25"/><circle cx="304.2" cy="235.4" r="2.25"/><circle cx="305.5" cy="234.7" r="2.25"/><circle cx="306.9" cy="235.5" r="2.25"/><circle cx="308.2" cy="235.1" r="2.25"/></g>
<polyline points="223.8,234.2 224.5,234.2 225.2,234.2 225.9,234.2 226.6,234.2 227.3,234.2 228.0,234.2 228.7,234.2 229.4,234.2 230.1,234.2 230.8,234.2 231.5,234.2 232.2,234.2 232.9,234.2 233.6,234.2 234.3,234.2 235.0,234.2 235.7,234.1 236.4,234.1 237.1,234.1 237.8,234.0 238.5,234.0 239.2,233.9 239.9,233.8 240.6,233.8 241.3,233.7 242.0,233.5 242.7,233.4 243.4,233.2 244.1,233.0 244.8,232.8 245.5,232.5 246.2,232.1 246.9,231.6 247.6,231.1 248.3,230.3 249.0,229.5 249.7,228.4 250.4,227.3 251.1,226.0 251.8,224.9 252.5,224.2 253.2,224.1 253.9,224.6 254.6,225.6 255.3,226.8 256.0,228.1 256.7,229.2 257.4,230.2 258.1,231.0 258.8,231.6 259.5,232.2 260.2,232.6 260.9,233.0 261.6,233.3 262.3,233.5 263.0,233.7 263.7,233.9 264.4,234.1 265.1,234.2 265.8,234.3 266.5,234.4 267.2,234.5 267.9,234.6 268.6,234.7 269.3,234.7 270.0,234.8 270.7,234.8 271.4,234.9 272.1,234.9 272.8,235.0 273.5,235.0 274.2,235.1 274.9,235.1 275.6,235.1 276.3,235.1 277.0,235.2 277.7,235.2 278.4,235.2 279.1,235.3 279.8,235.3 280.5,235.3 281.2,235.3 281.9,235.3 282.6,235.4 283.3,235.4 284.0,235.4 284.7,235.4 285.4,235.4 286.1,235.4 286.8,235.5 287.5,235.5 288.2,235.5 288.9,235.5 289.6,235.5 290.3,235.5 291.0,235.5 291.7,235.6 292.4,235.6 293.1,235.6 293.8,235.6 294.5,235.6 295.2,235.6 295.9,235.6 296.6,235.6 297.3,235.6 298.0,235.6 298.7,235.7 299.4,235.7 300.1,235.7 300.8,235.7 301.5,235.7 302.2,235.7 302.9,235.7 303.6,235.7 304.3,235.7 305.0,235.7 305.7,235.7 306.4,235.7 307.1,235.7 307.8,235.7 308.5,235.7 309.2,235.7" fill="none" stroke="#ff77ff" stroke-width="1.2" stroke-linejoin="round" />
<polyline points="223.8,234.3 224.5,234.3 225.2,234.3 225.9,234.3 226.6,234.3 227.3,234.4 228.0,234.4 228.7,234.4 229.4,234.4 230.1,234.4 230.8,234.4 231.5,234.4 232.2,234.4 232.9,234.4 233.6,234.4 234.3,234.4 235.0,234.4 235.7,234.4 236.4,234.4 237.1,234.4 237.8,234.4 238.5,234.4 239.2,234.4 239.9,234.3 240.6,234.3 241.3,234.3 242.0,234.2 242.7,234.2 243.4,234.1 244.1,234.1 244.8,234.0 245.5,233.9 246.2,233.7 246.9,233.6 247.6,233.4 248.3,233.1 249.0,232.8 249.7,232.3 250.4,231.7 251.1,230.9 251.8,229.8 252.5,228.2 253.2,226.2 253.9,223.5 254.6,220.7 255.3,218.8 256.0,219.0 256.7,221.1 257.4,224.0 258.1,226.6 258.8,228.6 259.5,230.1 260.2,231.2 260.9,232.0 261.6,232.6 262.3,233.1 263.0,233.4 263.7,233.7 264.4,233.9 265.1,234.1 265.8,234.3 266.5,234.4 267.2,234.5 267.9,234.6 268.6,234.7 269.3,234.8 270.0,234.8 270.7,234.9 271.4,235.0 272.1,235.0 272.8,235.0 273.5,235.1 274.2,235.1 274.9,235.1 275.6,235.2 276.3,235.2 277.0,235.2 277.7,235.3 278.4,235.3 279.1,235.3 279.8,235.3 280.5,235.3 281.2,235.4 281.9,235.4 282.6,235.4 283.3,235.4 284.0,235.4 284.7,235.5 285.4,235.5 286.1,235.5 286.8,235.5 287.5,235.5 288.2,235.5 288.9,235.5 289.6,235.5 290.3,235.6 291.0,235.6 291.7,235.6 292.4,235.6 293.1,235.6 293.8,235.6 294.5,235.6 295.2,235.6 295.9,235.6 296.6,235.7 297.3,235.7 298.0,235.7 298.7,235.7 299.4,235.7 300.1,235.7 300.8,235.7 301.5,235.7 302.2,235.7 302.9,235.7 303.6,235.7 304.3,235.7 305.0,235.7 305.7,235.7 306.4,235.7 307.1,235.8 307.8,235.8 308.5,235.8 309.2,235.8" fill="none" stroke="#22dd22" stroke-width="1.9" stroke-linejoin="round" />
<g fill="none" stroke="#8a38f2" stroke-width="0.8"><circle cx="315.9" cy="234.8" r="2.1"/><circle cx="317.6" cy="233.1" r="2.1"/><circle cx="318.8" cy="234.1" r="2.1"/><circle cx="320.8" cy="233.0" r="2.1"/><circle cx="322.0" cy="234.2" r="2.1"/><circle cx="323.5" cy="233.2" r="2.1"/><circle cx="325.2" cy="233.5" r="2.1"/><circle cx="327.2" cy="232.2" r="2.1"/><circle cx="328.6" cy="232.8" r="2.1"/><circle cx="330.3" cy="232.0" r="2.1"/><circle cx="332.0" cy="230.9" r="2.1"/><circle cx="333.2" cy="229.7" r="2.1"/><circle cx="335.1" cy="228.9" r="2.1"/><circle cx="336.4" cy="226.8" r="2.1"/><circle cx="338.2" cy="225.7" r="2.1"/><circle cx="339.8" cy="223.6" r="2.1"/><circle cx="341.3" cy="222.2" r="2.1"/><circle cx="343.0" cy="222.3" r="2.1"/><circle cx="344.5" cy="225.1" r="2.1"/><circle cx="346.2" cy="225.8" r="2.1"/><circle cx="347.5" cy="228.8" r="2.1"/><circle cx="349.4" cy="230.3" r="2.1"/><circle cx="351.1" cy="230.6" r="2.1"/><circle cx="352.7" cy="232.0" r="2.1"/><circle cx="354.0" cy="231.9" r="2.1"/><circle cx="355.4" cy="232.4" r="2.1"/><circle cx="357.6" cy="232.3" r="2.1"/><circle cx="358.9" cy="232.6" r="2.1"/><circle cx="360.2" cy="233.8" r="2.1"/><circle cx="361.9" cy="232.9" r="2.1"/><circle cx="363.5" cy="234.1" r="2.1"/><circle cx="365.4" cy="233.1" r="2.1"/><circle cx="366.7" cy="234.9" r="2.1"/><circle cx="368.3" cy="234.2" r="2.1"/></g>
<polyline points="314.4,234.2 315.1,234.2 315.8,234.2 316.5,234.2 317.2,234.1 317.9,234.1 318.6,234.0 319.3,234.0 320.0,233.9 320.7,233.9 321.4,233.8 322.1,233.8 322.8,233.7 323.5,233.6 324.2,233.5 324.9,233.4 325.6,233.3 326.3,233.2 327.0,233.1 327.7,232.9 328.4,232.8 329.1,232.6 329.8,232.4 330.5,232.1 331.2,231.8 331.9,231.5 332.6,231.2 333.3,230.7 334.0,230.3 334.7,229.7 335.4,229.1 336.1,228.4 336.8,227.6 337.5,226.7 338.2,225.8 338.9,224.9 339.6,224.1 340.3,223.4 341.0,223.0 341.7,222.8 342.4,223.0 343.1,223.4 343.8,224.1 344.5,224.9 345.2,225.8 345.9,226.7 346.6,227.6 347.3,228.4 348.0,229.1 348.7,229.7 349.4,230.3 350.1,230.7 350.8,231.2 351.5,231.5 352.2,231.8 352.9,232.1 353.6,232.4 354.3,232.6 355.0,232.8 355.7,232.9 356.4,233.1 357.1,233.2 357.8,233.3 358.5,233.4 359.2,233.5 359.9,233.6 360.6,233.7 361.3,233.8 362.0,233.8 362.7,233.9 363.4,233.9 364.1,234.0 364.8,234.0 365.5,234.1 366.2,234.1 366.9,234.2 367.6,234.2 368.3,234.2 369.0,234.2 369.7,234.3 370.4,234.3" fill="none" stroke="#4466ff" stroke-width="1.3" stroke-linejoin="round" />
<rect x="310.2" y="6.6" width="2.7" height="231.9" fill="#fff"/>
<line x1="307.3" y1="10.5" x2="311.3" y2="1.0" stroke="#333" stroke-width="0.9" />
<line x1="311.3" y1="10.5" x2="315.3" y2="1.0" stroke="#333" stroke-width="0.9" />
<line x1="307.3" y1="244.4" x2="311.3" y2="234.9" stroke="#333" stroke-width="0.9" />
<line x1="311.3" y1="244.4" x2="315.3" y2="234.9" stroke="#333" stroke-width="0.9" />
<line x1="234.3" y1="239.5" x2="234.3" y2="237.0" stroke="#444" stroke-width="0.9" />
<line x1="250.4" y1="239.5" x2="250.4" y2="237.0" stroke="#444" stroke-width="0.9" />
<line x1="266.5" y1="239.5" x2="266.5" y2="237.0" stroke="#444" stroke-width="0.9" />
<line x1="282.6" y1="239.5" x2="282.6" y2="237.0" stroke="#444" stroke-width="0.9" />
<line x1="298.7" y1="239.5" x2="298.7" y2="237.0" stroke="#444" stroke-width="0.9" />
<line x1="344.3" y1="239.5" x2="344.3" y2="237.0" stroke="#444" stroke-width="0.9" />
<text x="234.3" y="252.8" font-size="13" text-anchor="middle" fill="#000" font-weight="normal" >240</text>
<text x="266.5" y="252.8" font-size="13" text-anchor="middle" fill="#000" font-weight="normal" >255</text>
<text x="298.7" y="252.8" font-size="13" text-anchor="middle" fill="#000" font-weight="normal" >270</text>
<text x="344.3" y="252.8" font-size="13" text-anchor="middle" fill="#000" font-weight="normal" >308</text>
<text x="285.5" y="52.5" font-size="12" text-anchor="start" fill="#000" font-weight="normal" >×1</text>
<text x="307.5" y="52.5" font-size="12" text-anchor="start" fill="#000" font-weight="normal" >1L</text>
<text x="355.0" y="53.0" font-size="12" text-anchor="start" fill="#000" font-weight="normal" >×1</text>
<text x="285.5" y="93.5" font-size="12" text-anchor="start" fill="#000" font-weight="normal" >×1</text>
<text x="307.5" y="93.5" font-size="12" text-anchor="start" fill="#000" font-weight="normal" >2L</text>
<text x="352.5" y="76.5" font-size="12" text-anchor="start" fill="#000" font-weight="normal" >×25</text>
<text x="285.5" y="119.5" font-size="12" text-anchor="start" fill="#000" font-weight="normal" >×5</text>
<text x="307.5" y="134.0" font-size="12" text-anchor="start" fill="#000" font-weight="normal" >3L</text>
<text x="352.0" y="119.5" font-size="12" text-anchor="start" fill="#000" font-weight="normal" >×50</text>
<text x="285.5" y="157.5" font-size="12" text-anchor="start" fill="#000" font-weight="normal" >×5</text>
<text x="307.5" y="168.8" font-size="12" text-anchor="start" fill="#000" font-weight="normal" >4L</text>
<text x="352.0" y="159.3" font-size="12" text-anchor="start" fill="#000" font-weight="normal" >×50</text>
<text x="285.5" y="191.2" font-size="12" text-anchor="start" fill="#000" font-weight="normal" >×10</text>
<text x="307.5" y="198.4" font-size="12" text-anchor="start" fill="#000" font-weight="normal" >5L</text>
<text x="352.0" y="194.0" font-size="12" text-anchor="start" fill="#000" font-weight="normal" >×50</text>
<text x="284.0" y="220.9" font-size="13" text-anchor="start" fill="#000" font-weight="normal" >x10</text>
<text x="306.7" y="228.2" font-size="12" text-anchor="start" fill="#000" font-weight="normal" >6L</text>
<text x="352.0" y="222.6" font-size="12" text-anchor="start" fill="#000" font-weight="normal" >×50</text>
<text x="227.5" y="23.2" font-size="15.5" text-anchor="start" fill="#000" font-weight="normal" >(b)</text>
<text x="350.0" y="24.3" font-size="14.5" text-anchor="start" fill="#000" font-weight="normal" >2H</text>
<text x="229.8" y="217.5" font-size="14" text-anchor="start" fill="#000" font-weight="bold" >E<tspan font-size="8" dy="-6.1">1</tspan><tspan font-size="8.5" dx="-4" dy="10.6">2g</tspan></text>
<text x="263.0" y="213.3" font-size="13" text-anchor="start" fill="#ff1a1a" font-weight="bold" >A<tspan font-size="8.5" dy="4.6">1g</tspan></text>
<text x="297.0" y="268.8" font-size="13.4" text-anchor="middle" fill="#000" font-weight="normal" >Raman shift (cm<tspan font-size="8.5" dy="-5">-1</tspan><tspan dy="5">)</tspan></text>
<text x="209.8" y="123.1" font-size="15" text-anchor="middle" fill="#000" font-weight="normal" textLength="98" lengthAdjust="spacingAndGlyphs" transform="rotate(-90 209.8 123.1)">Intensity (arb.u.)</text>
<text x="383.9" y="228.8" font-size="12" text-anchor="start" fill="#000" font-weight="normal" >×20</text>
<path d="M419.2,5.8 L565.8,5.8 L565.8,239.6 L419.2,239.6 z" fill="none" stroke="#4a4a4a" stroke-width="1.4"/>
<g fill="none" stroke="#8a38f2" stroke-width="0.9"><circle cx="420.4" cy="57.0" r="2.25"/><circle cx="421.8" cy="57.3" r="2.25"/><circle cx="423.1" cy="57.1" r="2.25"/><circle cx="424.5" cy="57.3" r="2.25"/><circle cx="425.8" cy="57.0" r="2.25"/><circle cx="427.2" cy="56.7" r="2.25"/><circle cx="428.5" cy="56.6" r="2.25"/><circle cx="429.9" cy="56.5" r="2.25"/><circle cx="431.2" cy="57.2" r="2.25"/><circle cx="432.6" cy="56.5" r="2.25"/><circle cx="433.9" cy="56.3" r="2.25"/><circle cx="435.3" cy="57.2" r="2.25"/><circle cx="436.6" cy="56.3" r="2.25"/><circle cx="438.0" cy="56.9" r="2.25"/><circle cx="439.3" cy="55.9" r="2.25"/><circle cx="440.7" cy="56.0" r="2.25"/><circle cx="442.0" cy="55.5" r="2.25"/><circle cx="443.4" cy="55.6" r="2.25"/><circle cx="444.7" cy="54.6" r="2.25"/><circle cx="446.1" cy="53.3" r="2.25"/><circle cx="447.4" cy="51.2" r="2.25"/><circle cx="448.8" cy="47.1" r="2.25"/><circle cx="450.1" cy="38.2" r="2.25"/><circle cx="451.5" cy="27.2" r="2.25"/><circle cx="452.8" cy="28.8" r="2.25"/><circle cx="454.2" cy="39.9" r="2.25"/><circle cx="455.5" cy="48.1" r="2.25"/><circle cx="456.9" cy="51.6" r="2.25"/><circle cx="458.2" cy="53.8" r="2.25"/><circle cx="459.6" cy="54.3" r="2.25"/><circle cx="460.9" cy="55.4" r="2.25"/><circle cx="462.3" cy="55.8" r="2.25"/><circle cx="463.6" cy="56.3" r="2.25"/><circle cx="465.0" cy="55.9" r="2.25"/><circle cx="466.3" cy="56.3" r="2.25"/><circle cx="467.7" cy="56.6" r="2.25"/><circle cx="469.0" cy="56.2" r="2.25"/><circle cx="470.4" cy="56.8" r="2.25"/><circle cx="471.7" cy="57.0" r="2.25"/><circle cx="473.1" cy="56.8" r="2.25"/><circle cx="474.4" cy="57.0" r="2.25"/><circle cx="475.8" cy="57.0" r="2.25"/><circle cx="477.1" cy="56.7" r="2.25"/><circle cx="478.5" cy="56.9" r="2.25"/><circle cx="479.8" cy="57.6" r="2.25"/><circle cx="481.2" cy="57.0" r="2.25"/><circle cx="482.5" cy="57.1" r="2.25"/><circle cx="483.9" cy="56.8" r="2.25"/><circle cx="485.2" cy="57.0" r="2.25"/><circle cx="486.6" cy="57.0" r="2.25"/><circle cx="487.9" cy="57.8" r="2.25"/><circle cx="489.3" cy="57.6" r="2.25"/><circle cx="490.6" cy="57.8" r="2.25"/><circle cx="492.0" cy="57.9" r="2.25"/><circle cx="493.3" cy="57.6" r="2.25"/><circle cx="494.7" cy="57.9" r="2.25"/><circle cx="496.0" cy="57.5" r="2.25"/><circle cx="497.4" cy="57.4" r="2.25"/><circle cx="498.7" cy="58.0" r="2.25"/><circle cx="500.1" cy="57.9" r="2.25"/><circle cx="501.4" cy="58.0" r="2.25"/><circle cx="502.8" cy="57.5" r="2.25"/></g>
<polyline points="419.7,57.7 420.4,57.7 421.1,57.7 421.8,57.7 422.5,57.7 423.2,57.7 423.9,57.7 424.6,57.7 425.3,57.7 426.0,57.7 426.7,57.7 427.4,57.6 428.1,57.6 428.8,57.6 429.5,57.6 430.2,57.6 430.9,57.6 431.6,57.6 432.3,57.5 433.0,57.5 433.7,57.5 434.4,57.4 435.1,57.4 435.8,57.4 436.5,57.3 437.2,57.3 437.9,57.2 438.6,57.1 439.3,57.1 440.0,57.0 440.7,56.8 441.4,56.7 442.1,56.5 442.8,56.3 443.5,56.1 444.2,55.8 444.9,55.3 445.6,54.8 446.3,54.1 447.0,53.1 447.7,51.8 448.4,49.8 449.1,46.9 449.8,42.7 450.5,36.7 451.2,30.0 451.9,26.0 452.6,28.3 453.3,34.8 454.0,41.2 454.7,45.9 455.4,49.1 456.1,51.3 456.8,52.8 457.5,53.9 458.2,54.7 458.9,55.2 459.6,55.7 460.3,56.0 461.0,56.3 461.7,56.5 462.4,56.7 463.1,56.8 463.8,57.0 464.5,57.1 465.2,57.2 465.9,57.2 466.6,57.3 467.3,57.4 468.0,57.4 468.7,57.5 469.4,57.5 470.1,57.5 470.8,57.6 471.5,57.6 472.2,57.6 472.9,57.6 473.6,57.7 474.3,57.7 475.0,57.7 475.7,57.7 476.4,57.7 477.1,57.8 477.8,57.8 478.5,57.8 479.2,57.8 479.9,57.8 480.6,57.8 481.3,57.8 482.0,57.8 482.7,57.8 483.4,57.8 484.1,57.8 484.8,57.9 485.5,57.9 486.2,57.9 486.9,57.9 487.6,57.9 488.3,57.9 489.0,57.9 489.7,57.9 490.4,57.9 491.1,57.9 491.8,57.9 492.5,57.9 493.2,57.9 493.9,57.9 494.6,57.9 495.3,57.9 496.0,57.9 496.7,57.9 497.4,57.9 498.1,57.9 498.8,57.9 499.5,57.9 500.2,57.9 500.9,57.9 501.6,57.9 502.3,57.9 503.0,57.9 503.7,57.9 504.4,57.9" fill="none" stroke="#1a7a1a" stroke-width="1.9" stroke-linejoin="round" />
<g fill="none" stroke="#8a38f2" stroke-width="0.8"><circle cx="510.9" cy="57.7" r="2.5"/><circle cx="512.4" cy="57.7" r="2.5"/><circle cx="513.9" cy="57.7" r="2.5"/><circle cx="515.4" cy="57.7" r="2.5"/><circle cx="516.9" cy="57.7" r="2.5"/><circle cx="518.4" cy="57.7" r="2.5"/><circle cx="519.9" cy="57.7" r="2.5"/><circle cx="521.4" cy="57.7" r="2.5"/><circle cx="522.9" cy="57.7" r="2.5"/><circle cx="524.4" cy="57.7" r="2.5"/><circle cx="525.9" cy="57.7" r="2.5"/><circle cx="527.4" cy="57.7" r="2.5"/><circle cx="528.9" cy="57.7" r="2.5"/><circle cx="530.4" cy="57.7" r="2.5"/><circle cx="531.9" cy="57.7" r="2.5"/><circle cx="533.4" cy="57.7" r="2.5"/><circle cx="534.9" cy="57.7" r="2.5"/><circle cx="536.4" cy="57.7" r="2.5"/><circle cx="537.9" cy="57.7" r="2.5"/><circle cx="539.4" cy="57.7" r="2.5"/><circle cx="540.9" cy="57.7" r="2.5"/><circle cx="542.4" cy="57.7" r="2.5"/><circle cx="543.9" cy="57.7" r="2.5"/><circle cx="545.4" cy="57.7" r="2.5"/><circle cx="546.9" cy="57.7" r="2.5"/><circle cx="548.4" cy="57.7" r="2.5"/><circle cx="549.9" cy="57.7" r="2.5"/><circle cx="551.4" cy="57.7" r="2.5"/><circle cx="552.9" cy="57.7" r="2.5"/><circle cx="554.4" cy="57.7" r="2.5"/><circle cx="555.9" cy="57.7" r="2.5"/><circle cx="557.4" cy="57.7" r="2.5"/><circle cx="558.9" cy="57.7" r="2.5"/><circle cx="560.4" cy="57.7" r="2.5"/><circle cx="561.9" cy="57.7" r="2.5"/><circle cx="563.4" cy="57.7" r="2.5"/></g>
<g fill="none" stroke="#8a38f2" stroke-width="0.9"><circle cx="420.4" cy="99.6" r="2.25"/><circle cx="421.8" cy="99.2" r="2.25"/><circle cx="423.1" cy="99.8" r="2.25"/><circle cx="424.5" cy="99.7" r="2.25"/><circle cx="425.8" cy="99.0" r="2.25"/><circle cx="427.2" cy="99.6" r="2.25"/><circle cx="428.5" cy="98.8" r="2.25"/><circle cx="429.9" cy="98.7" r="2.25"/><circle cx="431.2" cy="99.3" r="2.25"/><circle cx="432.6" cy="98.7" r="2.25"/><circle cx="433.9" cy="98.8" r="2.25"/><circle cx="435.3" cy="98.8" r="2.25"/><circle cx="436.6" cy="98.0" r="2.25"/><circle cx="438.0" cy="98.5" r="2.25"/><circle cx="439.3" cy="97.6" r="2.25"/><circle cx="440.7" cy="97.4" r="2.25"/><circle cx="442.0" cy="96.7" r="2.25"/><circle cx="443.4" cy="96.3" r="2.25"/><circle cx="444.7" cy="95.3" r="2.25"/><circle cx="446.1" cy="93.3" r="2.25"/><circle cx="447.4" cy="91.0" r="2.25"/><circle cx="448.8" cy="88.1" r="2.25"/><circle cx="450.1" cy="83.3" r="2.25"/><circle cx="451.5" cy="74.6" r="2.25"/><circle cx="452.8" cy="63.5" r="2.25"/><circle cx="454.2" cy="63.8" r="2.25"/><circle cx="455.5" cy="74.6" r="2.25"/><circle cx="456.9" cy="82.9" r="2.25"/><circle cx="458.2" cy="87.1" r="2.25"/><circle cx="459.6" cy="89.0" r="2.25"/><circle cx="460.9" cy="89.4" r="2.25"/><circle cx="462.3" cy="89.5" r="2.25"/><circle cx="463.6" cy="89.7" r="2.25"/><circle cx="465.0" cy="89.6" r="2.25"/><circle cx="466.3" cy="89.4" r="2.25"/><circle cx="467.7" cy="89.2" r="2.25"/><circle cx="469.0" cy="88.8" r="2.25"/><circle cx="470.4" cy="89.2" r="2.25"/><circle cx="471.7" cy="88.7" r="2.25"/><circle cx="473.1" cy="89.3" r="2.25"/><circle cx="474.4" cy="90.8" r="2.25"/><circle cx="475.8" cy="92.4" r="2.25"/><circle cx="477.1" cy="93.9" r="2.25"/><circle cx="478.5" cy="95.6" r="2.25"/><circle cx="479.8" cy="97.8" r="2.25"/><circle cx="481.2" cy="98.2" r="2.25"/><circle cx="482.5" cy="99.1" r="2.25"/><circle cx="483.9" cy="100.1" r="2.25"/><circle cx="485.2" cy="100.4" r="2.25"/><circle cx="486.6" cy="100.2" r="2.25"/><circle cx="487.9" cy="100.2" r="2.25"/><circle cx="489.3" cy="100.4" r="2.25"/><circle cx="490.6" cy="101.0" r="2.25"/><circle cx="492.0" cy="100.8" r="2.25"/><circle cx="493.3" cy="101.3" r="2.25"/><circle cx="494.7" cy="101.2" r="2.25"/><circle cx="496.0" cy="101.4" r="2.25"/><circle cx="497.4" cy="100.5" r="2.25"/><circle cx="498.7" cy="100.6" r="2.25"/><circle cx="500.1" cy="100.5" r="2.25"/><circle cx="501.4" cy="100.9" r="2.25"/><circle cx="502.8" cy="100.8" r="2.25"/></g>
<polyline points="419.7,101.0 420.4,101.0 421.1,101.0 421.8,101.0 422.5,101.0 423.2,101.0 423.9,101.0 424.6,101.0 425.3,101.0 426.0,101.0 426.7,101.0 427.4,101.0 428.1,101.0 428.8,101.0 429.5,101.0 430.2,101.0 430.9,101.0 431.6,101.0 432.3,100.9 433.0,100.9 433.7,100.9 434.4,100.9 435.1,100.9 435.8,100.8 436.5,100.8 437.2,100.8 437.9,100.7 438.6,100.7 439.3,100.6 440.0,100.5 440.7,100.4 441.4,100.3 442.1,100.2 442.8,100.0 443.5,99.8 444.2,99.5 444.9,99.2 445.6,98.7 446.3,98.1 447.0,97.3 447.7,96.2 448.4,94.9 449.1,93.5 449.8,92.3 450.5,91.8 451.2,92.3 451.9,93.5 452.6,95.0 453.3,96.3 454.0,97.3 454.7,98.2 455.4,98.8 456.1,99.3 456.8,99.6 457.5,99.9 458.2,100.1 458.9,100.3 459.6,100.5 460.3,100.6 461.0,100.7 461.7,100.8 462.4,100.8 463.1,100.9 463.8,101.0 464.5,101.0 465.2,101.1 465.9,101.1 466.6,101.1 467.3,101.2 468.0,101.2 468.7,101.2 469.4,101.2 470.1,101.2 470.8,101.3 471.5,101.3 472.2,101.3 472.9,101.3 473.6,101.3 474.3,101.3 475.0,101.4 475.7,101.4 476.4,101.4 477.1,101.4 477.8,101.4 478.5,101.4 479.2,101.4 479.9,101.4 480.6,101.4 481.3,101.4 482.0,101.4 482.7,101.4 483.4,101.5 484.1,101.5 484.8,101.5 485.5,101.5 486.2,101.5 486.9,101.5 487.6,101.5 488.3,101.5 489.0,101.5 489.7,101.5 490.4,101.5 491.1,101.5 491.8,101.5 492.5,101.5 493.2,101.5 493.9,101.5 494.6,101.5 495.3,101.5 496.0,101.5 496.7,101.5 497.4,101.5 498.1,101.6 498.8,101.6 499.5,101.6 500.2,101.6 500.9,101.6 501.6,101.6 502.3,101.6 503.0,101.6 503.7,101.6 504.4,101.6" fill="none" stroke="#ff00ff" stroke-width="1.2" stroke-linejoin="round" />
<polyline points="419.7,100.9 420.4,100.9 421.1,100.9 421.8,100.9 422.5,100.9 423.2,100.9 423.9,100.9 424.6,100.9 425.3,100.9 426.0,100.9 426.7,100.9 427.4,100.9 428.1,100.9 428.8,100.9 429.5,100.9 430.2,100.8 430.9,100.8 431.6,100.8 432.3,100.8 433.0,100.8 433.7,100.7 434.4,100.7 435.1,100.7 435.8,100.6 436.5,100.6 437.2,100.6 437.9,100.5 438.6,100.4 439.3,100.4 440.0,100.3 440.7,100.2 441.4,100.1 442.1,99.9 442.8,99.8 443.5,99.6 444.2,99.3 444.9,99.0 445.6,98.6 446.3,98.1 447.0,97.5 447.7,96.6 448.4,95.4 449.1,93.8 449.8,91.5 450.5,88.2 451.2,83.4 451.9,76.8 452.6,69.2 453.3,64.2 454.0,65.7 454.7,72.5 455.4,79.9 456.1,85.7 456.8,89.8 457.5,92.7 458.2,94.6 458.9,96.1 459.6,97.1 460.3,97.8 461.0,98.4 461.7,98.9 462.4,99.3 463.1,99.6 463.8,99.8 464.5,100.0 465.2,100.2 465.9,100.3 466.6,100.4 467.3,100.5 468.0,100.6 468.7,100.7 469.4,100.8 470.1,100.8 470.8,100.9 471.5,100.9 472.2,101.0 472.9,101.0 473.6,101.0 474.3,101.1 475.0,101.1 475.7,101.1 476.4,101.2 477.1,101.2 477.8,101.2 478.5,101.2 479.2,101.2 479.9,101.3 480.6,101.3 481.3,101.3 482.0,101.3 482.7,101.3 483.4,101.3 484.1,101.3 484.8,101.4 485.5,101.4 486.2,101.4 486.9,101.4 487.6,101.4 488.3,101.4 489.0,101.4 489.7,101.4 490.4,101.4 491.1,101.4 491.8,101.4 492.5,101.5 493.2,101.5 493.9,101.5 494.6,101.5 495.3,101.5 496.0,101.5 496.7,101.5 497.4,101.5 498.1,101.5 498.8,101.5 499.5,101.5 500.2,101.5 500.9,101.5 501.6,101.5 502.3,101.5 503.0,101.5 503.7,101.5 504.4,101.5" fill="none" stroke="#1a7a1a" stroke-width="1.9" stroke-linejoin="round" />
<g fill="none" stroke="#8a38f2" stroke-width="0.8"><circle cx="510.4" cy="100.4" r="2.4"/><circle cx="512.8" cy="99.8" r="2.4"/><circle cx="515.1" cy="100.6" r="2.4"/><circle cx="517.6" cy="99.4" r="2.4"/><circle cx="519.6" cy="99.5" r="2.4"/><circle cx="522.3" cy="99.7" r="2.4"/><circle cx="524.7" cy="99.5" r="2.4"/><circle cx="526.6" cy="97.8" r="2.4"/><circle cx="529.3" cy="98.2" r="2.4"/><circle cx="531.4" cy="97.1" r="2.4"/><circle cx="533.7" cy="94.2" r="2.4"/><circle cx="535.8" cy="90.5" r="2.4"/><circle cx="538.4" cy="86.2" r="2.4"/><circle cx="540.8" cy="75.0" r="2.4"/><circle cx="543.0" cy="62.7" r="2.4"/><circle cx="545.4" cy="62.6" r="2.4"/><circle cx="547.4" cy="75.6" r="2.4"/><circle cx="549.6" cy="85.3" r="2.4"/><circle cx="552.2" cy="92.4" r="2.4"/><circle cx="554.4" cy="94.5" r="2.4"/><circle cx="556.6" cy="96.5" r="2.4"/><circle cx="559.2" cy="97.6" r="2.4"/><circle cx="561.6" cy="97.9" r="2.4"/><circle cx="563.5" cy="99.0" r="2.4"/></g>
<polyline points="509.4,100.5 510.1,100.4 510.8,100.4 511.5,100.4 512.2,100.4 512.9,100.3 513.6,100.3 514.3,100.3 515.0,100.2 515.7,100.2 516.4,100.1 517.1,100.1 517.8,100.1 518.5,100.0 519.2,99.9 519.9,99.9 520.6,99.8 521.3,99.8 522.0,99.7 522.7,99.6 523.4,99.5 524.1,99.4 524.8,99.3 525.5,99.1 526.2,99.0 526.9,98.8 527.6,98.7 528.3,98.5 529.0,98.2 529.7,98.0 530.4,97.7 531.1,97.4 531.8,97.0 532.5,96.5 533.2,96.0 533.9,95.4 534.6,94.6 535.3,93.8 536.0,92.7 536.7,91.4 537.4,89.9 538.1,87.9 538.8,85.6 539.5,82.7 540.2,79.2 540.9,75.1 541.6,70.5 542.3,65.8 543.0,61.9 543.7,59.7 544.4,59.9 545.1,62.4 545.8,66.5 546.5,71.2 547.2,75.7 547.9,79.7 548.6,83.1 549.3,85.9 550.0,88.2 550.7,90.1 551.4,91.6 552.1,92.9 552.8,93.9 553.5,94.8 554.2,95.5 554.9,96.1 555.6,96.6 556.3,97.0 557.0,97.4 557.7,97.7 558.4,98.0 559.1,98.3 559.8,98.5 560.5,98.7 561.2,98.9 561.9,99.0 562.6,99.2 563.3,99.3 564.0,99.4 564.7,99.5" fill="none" stroke="#0000ee" stroke-width="1.9" stroke-linejoin="round" />
<g fill="none" stroke="#8a38f2" stroke-width="0.9"><circle cx="420.4" cy="138.7" r="2.25"/><circle cx="421.8" cy="139.1" r="2.25"/><circle cx="423.1" cy="139.1" r="2.25"/><circle cx="424.5" cy="139.2" r="2.25"/><circle cx="425.8" cy="138.8" r="2.25"/><circle cx="427.2" cy="138.1" r="2.25"/><circle cx="428.5" cy="138.6" r="2.25"/><circle cx="429.9" cy="138.4" r="2.25"/><circle cx="431.2" cy="138.2" r="2.25"/><circle cx="432.6" cy="137.7" r="2.25"/><circle cx="433.9" cy="137.9" r="2.25"/><circle cx="435.3" cy="137.6" r="2.25"/><circle cx="436.6" cy="136.3" r="2.25"/><circle cx="438.0" cy="136.0" r="2.25"/><circle cx="439.3" cy="134.7" r="2.25"/><circle cx="440.7" cy="133.3" r="2.25"/><circle cx="442.0" cy="131.5" r="2.25"/><circle cx="443.4" cy="128.2" r="2.25"/><circle cx="444.7" cy="122.5" r="2.25"/><circle cx="446.1" cy="113.1" r="2.25"/><circle cx="447.4" cy="102.1" r="2.25"/><circle cx="448.8" cy="97.9" r="2.25"/><circle cx="450.1" cy="107.3" r="2.25"/><circle cx="451.5" cy="116.1" r="2.25"/><circle cx="452.8" cy="119.6" r="2.25"/><circle cx="454.2" cy="121.6" r="2.25"/><circle cx="455.5" cy="126.0" r="2.25"/><circle cx="456.9" cy="128.6" r="2.25"/><circle cx="458.2" cy="129.3" r="2.25"/><circle cx="459.6" cy="129.8" r="2.25"/><circle cx="460.9" cy="129.7" r="2.25"/><circle cx="462.3" cy="129.3" r="2.25"/><circle cx="463.6" cy="129.0" r="2.25"/><circle cx="465.0" cy="129.3" r="2.25"/><circle cx="466.3" cy="127.9" r="2.25"/><circle cx="467.7" cy="127.7" r="2.25"/><circle cx="469.0" cy="127.3" r="2.25"/><circle cx="470.4" cy="127.0" r="2.25"/><circle cx="471.7" cy="127.5" r="2.25"/><circle cx="473.1" cy="127.9" r="2.25"/><circle cx="474.4" cy="129.1" r="2.25"/><circle cx="475.8" cy="130.8" r="2.25"/><circle cx="477.1" cy="133.3" r="2.25"/><circle cx="478.5" cy="134.9" r="2.25"/><circle cx="479.8" cy="137.3" r="2.25"/><circle cx="481.2" cy="139.7" r="2.25"/><circle cx="482.5" cy="140.0" r="2.25"/><circle cx="483.9" cy="141.0" r="2.25"/><circle cx="485.2" cy="141.7" r="2.25"/><circle cx="486.6" cy="141.8" r="2.25"/><circle cx="487.9" cy="142.2" r="2.25"/><circle cx="489.3" cy="141.8" r="2.25"/><circle cx="490.6" cy="142.1" r="2.25"/><circle cx="492.0" cy="142.9" r="2.25"/><circle cx="493.3" cy="142.1" r="2.25"/><circle cx="494.7" cy="142.9" r="2.25"/><circle cx="496.0" cy="142.3" r="2.25"/><circle cx="497.4" cy="143.1" r="2.25"/><circle cx="498.7" cy="142.8" r="2.25"/><circle cx="500.1" cy="142.8" r="2.25"/><circle cx="501.4" cy="142.4" r="2.25"/><circle cx="502.8" cy="142.3" r="2.25"/></g>
<polyline points="419.7,141.9 420.4,141.9 421.1,141.9 421.8,141.9 422.5,141.9 423.2,141.9 423.9,141.9 424.6,141.9 425.3,141.9 426.0,141.8 426.7,141.8 427.4,141.8 428.1,141.8 428.8,141.7 429.5,141.7 430.2,141.7 430.9,141.6 431.6,141.6 432.3,141.5 433.0,141.4 433.7,141.3 434.4,141.2 435.1,141.1 435.8,141.0 436.5,140.8 437.2,140.6 437.9,140.3 438.6,140.0 439.3,139.6 440.0,139.1 440.7,138.4 441.4,137.6 442.1,136.4 442.8,134.9 443.5,132.7 444.2,129.7 444.9,125.4 445.6,119.2 446.3,111.3 447.0,103.4 447.7,99.7 448.4,103.4 449.1,111.4 449.8,119.3 450.5,125.5 451.2,129.8 451.9,132.9 452.6,135.1 453.3,136.6 454.0,137.8 454.7,138.7 455.4,139.3 456.1,139.9 456.8,140.3 457.5,140.7 458.2,140.9 458.9,141.2 459.6,141.4 460.3,141.6 461.0,141.7 461.7,141.8 462.4,141.9 463.1,142.0 463.8,142.1 464.5,142.2 465.2,142.3 465.9,142.3 466.6,142.4 467.3,142.5 468.0,142.5 468.7,142.6 469.4,142.6 470.1,142.6 470.8,142.7 471.5,142.7 472.2,142.7 472.9,142.8 473.6,142.8 474.3,142.8 475.0,142.8 475.7,142.9 476.4,142.9 477.1,142.9 477.8,142.9 478.5,143.0 479.2,143.0 479.9,143.0 480.6,143.0 481.3,143.0 482.0,143.0 482.7,143.1 483.4,143.1 484.1,143.1 484.8,143.1 485.5,143.1 486.2,143.1 486.9,143.1 487.6,143.1 488.3,143.2 489.0,143.2 489.7,143.2 490.4,143.2 491.1,143.2 491.8,143.2 492.5,143.2 493.2,143.2 493.9,143.2 494.6,143.2 495.3,143.3 496.0,143.3 496.7,143.3 497.4,143.3 498.1,143.3 498.8,143.3 499.5,143.3 500.2,143.3 500.9,143.3 501.6,143.3 502.3,143.3 503.0,143.3 503.7,143.3 504.4,143.3" fill="none" stroke="#ff00ff" stroke-width="1.2" stroke-linejoin="round" />
<polyline points="419.7,142.1 420.4,142.1 421.1,142.1 421.8,142.2 422.5,142.2 423.2,142.2 423.9,142.2 424.6,142.2 425.3,142.2 426.0,142.2 426.7,142.2 427.4,142.2 428.1,142.3 428.8,142.3 429.5,142.3 430.2,142.3 430.9,142.3 431.6,142.3 432.3,142.3 433.0,142.3 433.7,142.3 434.4,142.3 435.1,142.3 435.8,142.3 436.5,142.3 437.2,142.3 437.9,142.3 438.6,142.3 439.3,142.2 440.0,142.2 440.7,142.2 441.4,142.2 442.1,142.1 442.8,142.1 443.5,142.0 444.2,141.9 444.9,141.8 445.6,141.7 446.3,141.5 447.0,141.2 447.7,140.9 448.4,140.5 449.1,139.9 449.8,139.0 450.5,137.7 451.2,135.9 451.9,133.1 452.6,129.8 453.3,127.1 454.0,127.4 454.7,130.3 455.4,133.6 456.1,136.3 456.8,138.1 457.5,139.3 458.2,140.1 458.9,140.7 459.6,141.2 460.3,141.5 461.0,141.8 461.7,142.0 462.4,142.1 463.1,142.2 463.8,142.3 464.5,142.4 465.2,142.5 465.9,142.6 466.6,142.6 467.3,142.7 468.0,142.7 468.7,142.8 469.4,142.8 470.1,142.8 470.8,142.9 471.5,142.9 472.2,142.9 472.9,142.9 473.6,143.0 474.3,143.0 475.0,143.0 475.7,143.0 476.4,143.0 477.1,143.0 477.8,143.1 478.5,143.1 479.2,143.1 479.9,143.1 480.6,143.1 481.3,143.1 482.0,143.1 482.7,143.2 483.4,143.2 484.1,143.2 484.8,143.2 485.5,143.2 486.2,143.2 486.9,143.2 487.6,143.2 488.3,143.2 489.0,143.2 489.7,143.3 490.4,143.3 491.1,143.3 491.8,143.3 492.5,143.3 493.2,143.3 493.9,143.3 494.6,143.3 495.3,143.3 496.0,143.3 496.7,143.3 497.4,143.3 498.1,143.3 498.8,143.3 499.5,143.3 500.2,143.4 500.9,143.4 501.6,143.4 502.3,143.4 503.0,143.4 503.7,143.4 504.4,143.4" fill="none" stroke="#1a7a1a" stroke-width="1.9" stroke-linejoin="round" />
<g fill="none" stroke="#8a38f2" stroke-width="0.8"><circle cx="510.9" cy="139.9" r="2.4"/><circle cx="512.8" cy="141.0" r="2.4"/><circle cx="515.5" cy="139.5" r="2.4"/><circle cx="517.9" cy="140.3" r="2.4"/><circle cx="519.8" cy="139.3" r="2.4"/><circle cx="522.1" cy="140.7" r="2.4"/><circle cx="524.4" cy="138.8" r="2.4"/><circle cx="526.6" cy="138.3" r="2.4"/><circle cx="529.0" cy="138.9" r="2.4"/><circle cx="531.1" cy="136.4" r="2.4"/><circle cx="534.0" cy="135.7" r="2.4"/><circle cx="536.3" cy="130.3" r="2.4"/><circle cx="538.2" cy="124.8" r="2.4"/><circle cx="540.6" cy="118.2" r="2.4"/><circle cx="542.8" cy="120.4" r="2.4"/><circle cx="545.1" cy="129.2" r="2.4"/><circle cx="547.7" cy="133.8" r="2.4"/><circle cx="549.8" cy="136.4" r="2.4"/><circle cx="552.1" cy="137.9" r="2.4"/><circle cx="554.6" cy="138.2" r="2.4"/><circle cx="556.8" cy="140.1" r="2.4"/><circle cx="559.2" cy="139.1" r="2.4"/><circle cx="561.6" cy="140.6" r="2.4"/><circle cx="563.4" cy="139.7" r="2.4"/></g>
<polyline points="509.4,140.6 510.1,140.6 510.8,140.6 511.5,140.6 512.2,140.6 512.9,140.5 513.6,140.5 514.3,140.5 515.0,140.5 515.7,140.4 516.4,140.4 517.1,140.4 517.8,140.3 518.5,140.3 519.2,140.2 519.9,140.2 520.6,140.1 521.3,140.1 522.0,140.0 522.7,139.9 523.4,139.9 524.1,139.8 524.8,139.7 525.5,139.5 526.2,139.4 526.9,139.3 527.6,139.1 528.3,138.9 529.0,138.7 529.7,138.4 530.4,138.1 531.1,137.7 531.8,137.3 532.5,136.8 533.2,136.1 533.9,135.4 534.6,134.4 535.3,133.3 536.0,131.9 536.7,130.1 537.4,128.1 538.1,125.7 538.8,123.0 539.5,120.5 540.2,118.5 540.9,117.6 541.6,118.1 542.3,119.8 543.0,122.3 543.7,124.9 544.4,127.4 545.1,129.6 545.8,131.4 546.5,132.9 547.2,134.1 547.9,135.1 548.6,135.9 549.3,136.6 550.0,137.1 550.7,137.6 551.4,138.0 552.1,138.3 552.8,138.6 553.5,138.8 554.2,139.0 554.9,139.2 555.6,139.4 556.3,139.5 557.0,139.6 557.7,139.7 558.4,139.8 559.1,139.9 559.8,140.0 560.5,140.1 561.2,140.1 561.9,140.2 562.6,140.2 563.3,140.3 564.0,140.3 564.7,140.4" fill="none" stroke="#0000ee" stroke-width="1.9" stroke-linejoin="round" />
<g fill="none" stroke="#8a38f2" stroke-width="0.9"><circle cx="420.4" cy="171.1" r="2.25"/><circle cx="421.8" cy="171.0" r="2.25"/><circle cx="423.1" cy="171.9" r="2.25"/><circle cx="424.5" cy="171.3" r="2.25"/><circle cx="425.8" cy="171.8" r="2.25"/><circle cx="427.2" cy="171.0" r="2.25"/><circle cx="428.5" cy="170.8" r="2.25"/><circle cx="429.9" cy="171.6" r="2.25"/><circle cx="431.2" cy="171.4" r="2.25"/><circle cx="432.6" cy="171.4" r="2.25"/><circle cx="433.9" cy="170.9" r="2.25"/><circle cx="435.3" cy="170.4" r="2.25"/><circle cx="436.6" cy="170.3" r="2.25"/><circle cx="438.0" cy="169.1" r="2.25"/><circle cx="439.3" cy="168.8" r="2.25"/><circle cx="440.7" cy="167.6" r="2.25"/><circle cx="442.0" cy="165.9" r="2.25"/><circle cx="443.4" cy="164.2" r="2.25"/><circle cx="444.7" cy="160.7" r="2.25"/><circle cx="446.1" cy="155.7" r="2.25"/><circle cx="447.4" cy="147.2" r="2.25"/><circle cx="448.8" cy="136.6" r="2.25"/><circle cx="450.1" cy="135.1" r="2.25"/><circle cx="451.5" cy="143.8" r="2.25"/><circle cx="452.8" cy="151.0" r="2.25"/><circle cx="454.2" cy="153.6" r="2.25"/><circle cx="455.5" cy="155.7" r="2.25"/><circle cx="456.9" cy="159.1" r="2.25"/><circle cx="458.2" cy="160.6" r="2.25"/><circle cx="459.6" cy="162.0" r="2.25"/><circle cx="460.9" cy="161.5" r="2.25"/><circle cx="462.3" cy="161.2" r="2.25"/><circle cx="463.6" cy="161.2" r="2.25"/><circle cx="465.0" cy="160.9" r="2.25"/><circle cx="466.3" cy="160.0" r="2.25"/><circle cx="467.7" cy="159.9" r="2.25"/><circle cx="469.0" cy="159.2" r="2.25"/><circle cx="470.4" cy="159.7" r="2.25"/><circle cx="471.7" cy="159.2" r="2.25"/><circle cx="473.1" cy="159.4" r="2.25"/><circle cx="474.4" cy="160.6" r="2.25"/><circle cx="475.8" cy="163.0" r="2.25"/><circle cx="477.1" cy="165.5" r="2.25"/><circle cx="478.5" cy="167.6" r="2.25"/><circle cx="479.8" cy="169.7" r="2.25"/><circle cx="481.2" cy="171.7" r="2.25"/><circle cx="482.5" cy="172.4" r="2.25"/><circle cx="483.9" cy="173.6" r="2.25"/><circle cx="485.2" cy="174.6" r="2.25"/><circle cx="486.6" cy="174.8" r="2.25"/><circle cx="487.9" cy="174.3" r="2.25"/><circle cx="489.3" cy="175.2" r="2.25"/><circle cx="490.6" cy="174.8" r="2.25"/><circle cx="492.0" cy="175.4" r="2.25"/><circle cx="493.3" cy="174.9" r="2.25"/><circle cx="494.7" cy="174.8" r="2.25"/><circle cx="496.0" cy="175.1" r="2.25"/><circle cx="497.4" cy="175.5" r="2.25"/><circle cx="498.7" cy="175.1" r="2.25"/><circle cx="500.1" cy="175.6" r="2.25"/><circle cx="501.4" cy="175.5" r="2.25"/><circle cx="502.8" cy="175.1" r="2.25"/></g>
<polyline points="419.7,174.4 420.4,174.4 421.1,174.4 421.8,174.4 422.5,174.4 423.2,174.4 423.9,174.4 424.6,174.4 425.3,174.4 426.0,174.4 426.7,174.4 427.4,174.4 428.1,174.4 428.8,174.3 429.5,174.3 430.2,174.3 430.9,174.3 431.6,174.2 432.3,174.2 433.0,174.1 433.7,174.1 434.4,174.0 435.1,173.9 435.8,173.8 436.5,173.7 437.2,173.5 437.9,173.4 438.6,173.2 439.3,172.9 440.0,172.6 440.7,172.2 441.4,171.7 442.1,171.0 442.8,170.2 443.5,169.1 444.2,167.6 444.9,165.5 445.6,162.6 446.3,158.5 447.0,152.9 447.7,145.9 448.4,139.6 449.1,137.4 449.8,141.2 450.5,148.0 451.2,154.7 451.9,159.9 452.6,163.7 453.3,166.3 454.0,168.2 454.7,169.6 455.4,170.7 456.1,171.5 456.8,172.1 457.5,172.6 458.2,173.0 458.9,173.3 459.6,173.6 460.3,173.8 461.0,174.0 461.7,174.2 462.4,174.3 463.1,174.4 463.8,174.5 464.5,174.6 465.2,174.7 465.9,174.8 466.6,174.8 467.3,174.9 468.0,175.0 468.7,175.0 469.4,175.1 470.1,175.1 470.8,175.1 471.5,175.2 472.2,175.2 472.9,175.2 473.6,175.3 474.3,175.3 475.0,175.3 475.7,175.4 476.4,175.4 477.1,175.4 477.8,175.4 478.5,175.4 479.2,175.5 479.9,175.5 480.6,175.5 481.3,175.5 482.0,175.5 482.7,175.5 483.4,175.6 484.1,175.6 484.8,175.6 485.5,175.6 486.2,175.6 486.9,175.6 487.6,175.6 488.3,175.7 489.0,175.7 489.7,175.7 490.4,175.7 491.1,175.7 491.8,175.7 492.5,175.7 493.2,175.7 493.9,175.7 494.6,175.7 495.3,175.8 496.0,175.8 496.7,175.8 497.4,175.8 498.1,175.8 498.8,175.8 499.5,175.8 500.2,175.8 500.9,175.8 501.6,175.8 502.3,175.8 503.0,175.8 503.7,175.8 504.4,175.8" fill="none" stroke="#ff00ff" stroke-width="1.2" stroke-linejoin="round" />
<polyline points="419.7,174.6 420.4,174.6 421.1,174.7 421.8,174.7 422.5,174.7 423.2,174.7 423.9,174.7 424.6,174.7 425.3,174.7 426.0,174.7 426.7,174.7 427.4,174.8 428.1,174.8 428.8,174.8 429.5,174.8 430.2,174.8 430.9,174.8 431.6,174.8 432.3,174.8 433.0,174.8 433.7,174.8 434.4,174.8 435.1,174.8 435.8,174.8 436.5,174.8 437.2,174.8 437.9,174.8 438.6,174.8 439.3,174.8 440.0,174.8 440.7,174.7 441.4,174.7 442.1,174.7 442.8,174.6 443.5,174.6 444.2,174.5 444.9,174.5 445.6,174.4 446.3,174.2 447.0,174.1 447.7,173.9 448.4,173.6 449.1,173.2 449.8,172.7 450.5,171.9 451.2,170.8 451.9,169.2 452.6,166.8 453.3,163.6 454.0,160.4 454.7,159.2 455.4,161.2 456.1,164.6 456.8,167.7 457.5,169.8 458.2,171.3 458.9,172.3 459.6,173.0 460.3,173.5 461.0,173.9 461.7,174.2 462.4,174.4 463.1,174.6 463.8,174.7 464.5,174.8 465.2,174.9 465.9,175.0 466.6,175.1 467.3,175.1 468.0,175.2 468.7,175.2 469.4,175.3 470.1,175.3 470.8,175.3 471.5,175.4 472.2,175.4 472.9,175.4 473.6,175.4 474.3,175.5 475.0,175.5 475.7,175.5 476.4,175.5 477.1,175.5 477.8,175.6 478.5,175.6 479.2,175.6 479.9,175.6 480.6,175.6 481.3,175.6 482.0,175.6 482.7,175.6 483.4,175.7 484.1,175.7 484.8,175.7 485.5,175.7 486.2,175.7 486.9,175.7 487.6,175.7 488.3,175.7 489.0,175.7 489.7,175.8 490.4,175.8 491.1,175.8 491.8,175.8 492.5,175.8 493.2,175.8 493.9,175.8 494.6,175.8 495.3,175.8 496.0,175.8 496.7,175.8 497.4,175.8 498.1,175.8 498.8,175.8 499.5,175.8 500.2,175.9 500.9,175.9 501.6,175.9 502.3,175.9 503.0,175.9 503.7,175.9 504.4,175.9" fill="none" stroke="#1a7a1a" stroke-width="1.9" stroke-linejoin="round" />
<g fill="none" stroke="#8a38f2" stroke-width="0.8"><circle cx="510.6" cy="171.9" r="2.4"/><circle cx="512.9" cy="171.6" r="2.4"/><circle cx="515.4" cy="172.4" r="2.4"/><circle cx="517.7" cy="170.9" r="2.4"/><circle cx="519.7" cy="171.1" r="2.4"/><circle cx="522.3" cy="170.4" r="2.4"/><circle cx="524.2" cy="170.4" r="2.4"/><circle cx="526.7" cy="169.3" r="2.4"/><circle cx="529.1" cy="170.0" r="2.4"/><circle cx="531.4" cy="168.3" r="2.4"/><circle cx="533.9" cy="166.1" r="2.4"/><circle cx="536.2" cy="162.0" r="2.4"/><circle cx="538.4" cy="158.2" r="2.4"/><circle cx="540.8" cy="158.9" r="2.4"/><circle cx="542.9" cy="163.3" r="2.4"/><circle cx="545.1" cy="165.3" r="2.4"/><circle cx="547.7" cy="168.2" r="2.4"/><circle cx="549.6" cy="168.5" r="2.4"/><circle cx="552.0" cy="169.3" r="2.4"/><circle cx="554.6" cy="170.2" r="2.4"/><circle cx="556.6" cy="170.9" r="2.4"/><circle cx="559.0" cy="171.3" r="2.4"/><circle cx="561.4" cy="171.9" r="2.4"/><circle cx="563.6" cy="171.0" r="2.4"/></g>
<polyline points="509.4,172.0 510.1,172.0 510.8,172.0 511.5,172.0 512.2,171.9 512.9,171.9 513.6,171.9 514.3,171.9 515.0,171.8 515.7,171.8 516.4,171.8 517.1,171.7 517.8,171.7 518.5,171.6 519.2,171.6 519.9,171.5 520.6,171.5 521.3,171.4 522.0,171.3 522.7,171.2 523.4,171.1 524.1,171.0 524.8,170.9 525.5,170.8 526.2,170.6 526.9,170.4 527.6,170.2 528.3,170.0 529.0,169.7 529.7,169.4 530.4,169.0 531.1,168.6 531.8,168.1 532.5,167.5 533.2,166.8 533.9,165.9 534.6,165.0 535.3,163.9 536.0,162.6 536.7,161.4 537.4,160.2 538.1,159.2 538.8,158.5 539.5,158.4 540.2,158.8 540.9,159.7 541.6,160.8 542.3,162.1 543.0,163.4 543.7,164.5 544.4,165.5 545.1,166.4 545.8,167.2 546.5,167.8 547.2,168.4 547.9,168.9 548.6,169.3 549.3,169.6 550.0,169.9 550.7,170.1 551.4,170.4 552.1,170.5 552.8,170.7 553.5,170.9 554.2,171.0 554.9,171.1 555.6,171.2 556.3,171.3 557.0,171.4 557.7,171.4 558.4,171.5 559.1,171.6 559.8,171.6 560.5,171.7 561.2,171.7 561.9,171.7 562.6,171.8 563.3,171.8 564.0,171.8 564.7,171.9" fill="none" stroke="#0000ee" stroke-width="1.9" stroke-linejoin="round" />
<g fill="none" stroke="#8a38f2" stroke-width="0.9"><circle cx="420.4" cy="200.8" r="2.25"/><circle cx="421.8" cy="200.5" r="2.25"/><circle cx="423.1" cy="199.9" r="2.25"/><circle cx="424.5" cy="200.3" r="2.25"/><circle cx="425.8" cy="200.6" r="2.25"/><circle cx="427.2" cy="200.8" r="2.25"/><circle cx="428.5" cy="199.8" r="2.25"/><circle cx="429.9" cy="199.7" r="2.25"/><circle cx="431.2" cy="200.0" r="2.25"/><circle cx="432.6" cy="199.8" r="2.25"/><circle cx="433.9" cy="200.1" r="2.25"/><circle cx="435.3" cy="199.7" r="2.25"/><circle cx="436.6" cy="198.8" r="2.25"/><circle cx="438.0" cy="198.3" r="2.25"/><circle cx="439.3" cy="197.6" r="2.25"/><circle cx="440.7" cy="196.8" r="2.25"/><circle cx="442.0" cy="194.5" r="2.25"/><circle cx="443.4" cy="192.2" r="2.25"/><circle cx="444.7" cy="188.2" r="2.25"/><circle cx="446.1" cy="183.0" r="2.25"/><circle cx="447.4" cy="175.2" r="2.25"/><circle cx="448.8" cy="172.4" r="2.25"/><circle cx="450.1" cy="175.0" r="2.25"/><circle cx="451.5" cy="179.0" r="2.25"/><circle cx="452.8" cy="181.1" r="2.25"/><circle cx="454.2" cy="184.7" r="2.25"/><circle cx="455.5" cy="188.2" r="2.25"/><circle cx="456.9" cy="190.5" r="2.25"/><circle cx="458.2" cy="191.1" r="2.25"/><circle cx="459.6" cy="191.2" r="2.25"/><circle cx="460.9" cy="191.8" r="2.25"/><circle cx="462.3" cy="191.2" r="2.25"/><circle cx="463.6" cy="190.6" r="2.25"/><circle cx="465.0" cy="189.8" r="2.25"/><circle cx="466.3" cy="189.4" r="2.25"/><circle cx="467.7" cy="189.5" r="2.25"/><circle cx="469.0" cy="188.4" r="2.25"/><circle cx="470.4" cy="188.6" r="2.25"/><circle cx="471.7" cy="188.7" r="2.25"/><circle cx="473.1" cy="188.6" r="2.25"/><circle cx="474.4" cy="190.2" r="2.25"/><circle cx="475.8" cy="192.3" r="2.25"/><circle cx="477.1" cy="194.7" r="2.25"/><circle cx="478.5" cy="197.1" r="2.25"/><circle cx="479.8" cy="198.8" r="2.25"/><circle cx="481.2" cy="200.5" r="2.25"/><circle cx="482.5" cy="202.1" r="2.25"/><circle cx="483.9" cy="202.9" r="2.25"/><circle cx="485.2" cy="203.3" r="2.25"/><circle cx="486.6" cy="204.2" r="2.25"/><circle cx="487.9" cy="203.8" r="2.25"/><circle cx="489.3" cy="204.5" r="2.25"/><circle cx="490.6" cy="204.7" r="2.25"/><circle cx="492.0" cy="203.9" r="2.25"/><circle cx="493.3" cy="204.8" r="2.25"/><circle cx="494.7" cy="204.3" r="2.25"/><circle cx="496.0" cy="204.2" r="2.25"/><circle cx="497.4" cy="204.2" r="2.25"/><circle cx="498.7" cy="204.1" r="2.25"/><circle cx="500.1" cy="204.6" r="2.25"/><circle cx="501.4" cy="204.5" r="2.25"/><circle cx="502.8" cy="205.0" r="2.25"/></g>
<polyline points="419.7,203.7 420.4,203.7 421.1,203.7 421.8,203.7 422.5,203.7 423.2,203.7 423.9,203.7 424.6,203.7 425.3,203.7 426.0,203.7 426.7,203.7 427.4,203.7 428.1,203.6 428.8,203.6 429.5,203.6 430.2,203.6 430.9,203.5 431.6,203.5 432.3,203.4 433.0,203.4 433.7,203.3 434.4,203.2 435.1,203.1 435.8,203.0 436.5,202.8 437.2,202.7 437.9,202.4 438.6,202.1 439.3,201.8 440.0,201.3 440.7,200.8 441.4,200.0 442.1,199.0 442.8,197.6 443.5,195.8 444.2,193.2 444.9,189.7 445.6,185.4 446.3,181.0 447.0,178.4 447.7,179.2 448.4,182.9 449.1,187.4 449.8,191.4 450.5,194.5 451.2,196.8 451.9,198.5 452.6,199.7 453.3,200.6 454.0,201.3 454.7,201.9 455.4,202.3 456.1,202.6 456.8,202.9 457.5,203.1 458.2,203.3 458.9,203.5 459.6,203.7 460.3,203.8 461.0,203.9 461.7,204.0 462.4,204.1 463.1,204.1 463.8,204.2 464.5,204.3 465.2,204.3 465.9,204.4 466.6,204.4 467.3,204.5 468.0,204.5 468.7,204.5 469.4,204.6 470.1,204.6 470.8,204.6 471.5,204.7 472.2,204.7 472.9,204.7 473.6,204.7 474.3,204.8 475.0,204.8 475.7,204.8 476.4,204.8 477.1,204.8 477.8,204.9 478.5,204.9 479.2,204.9 479.9,204.9 480.6,204.9 481.3,204.9 482.0,205.0 482.7,205.0 483.4,205.0 484.1,205.0 484.8,205.0 485.5,205.0 486.2,205.0 486.9,205.1 487.6,205.1 488.3,205.1 489.0,205.1 489.7,205.1 490.4,205.1 491.1,205.1 491.8,205.1 492.5,205.1 493.2,205.1 493.9,205.2 494.6,205.2 495.3,205.2 496.0,205.2 496.7,205.2 497.4,205.2 498.1,205.2 498.8,205.2 499.5,205.2 500.2,205.2 500.9,205.2 501.6,205.2 502.3,205.2 503.0,205.2 503.7,205.2 504.4,205.2" fill="none" stroke="#ff00ff" stroke-width="1.2" stroke-linejoin="round" />
<polyline points="419.7,203.8 420.4,203.8 421.1,203.8 421.8,203.8 422.5,203.8 423.2,203.8 423.9,203.9 424.6,203.9 425.3,203.9 426.0,203.9 426.7,203.9 427.4,203.9 428.1,203.9 428.8,203.9 429.5,203.9 430.2,203.9 430.9,203.9 431.6,203.9 432.3,203.9 433.0,203.9 433.7,203.9 434.4,203.9 435.1,203.9 435.8,203.8 436.5,203.8 437.2,203.8 437.9,203.8 438.6,203.7 439.3,203.7 440.0,203.6 440.7,203.5 441.4,203.4 442.1,203.3 442.8,203.2 443.5,203.0 444.2,202.8 444.9,202.6 445.6,202.3 446.3,201.8 447.0,201.3 447.7,200.6 448.4,199.6 449.1,198.2 449.8,196.4 450.5,193.8 451.2,190.7 451.9,187.3 452.6,185.0 453.3,185.2 454.0,187.8 454.7,191.2 455.4,194.3 456.1,196.8 456.8,198.6 457.5,199.9 458.2,200.9 458.9,201.6 459.6,202.2 460.3,202.6 461.0,202.9 461.7,203.2 462.4,203.4 463.1,203.6 463.8,203.8 464.5,203.9 465.2,204.0 465.9,204.1 466.6,204.2 467.3,204.3 468.0,204.3 468.7,204.4 469.4,204.4 470.1,204.5 470.8,204.5 471.5,204.6 472.2,204.6 472.9,204.7 473.6,204.7 474.3,204.7 475.0,204.7 475.7,204.8 476.4,204.8 477.1,204.8 477.8,204.8 478.5,204.9 479.2,204.9 479.9,204.9 480.6,204.9 481.3,204.9 482.0,204.9 482.7,205.0 483.4,205.0 484.1,205.0 484.8,205.0 485.5,205.0 486.2,205.0 486.9,205.1 487.6,205.1 488.3,205.1 489.0,205.1 489.7,205.1 490.4,205.1 491.1,205.1 491.8,205.1 492.5,205.1 493.2,205.1 493.9,205.2 494.6,205.2 495.3,205.2 496.0,205.2 496.7,205.2 497.4,205.2 498.1,205.2 498.8,205.2 499.5,205.2 500.2,205.2 500.9,205.2 501.6,205.2 502.3,205.2 503.0,205.2 503.7,205.2 504.4,205.2" fill="none" stroke="#1a7a1a" stroke-width="1.9" stroke-linejoin="round" />
<g fill="none" stroke="#8a38f2" stroke-width="0.8"><circle cx="510.9" cy="201.5" r="2.4"/><circle cx="512.9" cy="202.0" r="2.4"/><circle cx="515.1" cy="201.6" r="2.4"/><circle cx="517.5" cy="202.3" r="2.4"/><circle cx="519.8" cy="201.0" r="2.4"/><circle cx="522.0" cy="201.4" r="2.4"/><circle cx="524.5" cy="200.6" r="2.4"/><circle cx="526.9" cy="200.0" r="2.4"/><circle cx="529.2" cy="199.7" r="2.4"/><circle cx="531.2" cy="198.4" r="2.4"/><circle cx="533.6" cy="195.4" r="2.4"/><circle cx="536.1" cy="191.2" r="2.4"/><circle cx="538.3" cy="185.4" r="2.4"/><circle cx="540.8" cy="187.0" r="2.4"/><circle cx="542.9" cy="191.3" r="2.4"/><circle cx="545.1" cy="196.2" r="2.4"/><circle cx="547.6" cy="197.6" r="2.4"/><circle cx="550.0" cy="200.5" r="2.4"/><circle cx="552.0" cy="201.4" r="2.4"/><circle cx="554.4" cy="200.5" r="2.4"/><circle cx="556.8" cy="201.2" r="2.4"/><circle cx="559.1" cy="201.9" r="2.4"/><circle cx="561.1" cy="202.0" r="2.4"/><circle cx="563.8" cy="202.1" r="2.4"/></g>
<polyline points="509.4,202.4 510.1,202.4 510.8,202.4 511.5,202.4 512.2,202.3 512.9,202.3 513.6,202.3 514.3,202.3 515.0,202.2 515.7,202.2 516.4,202.2 517.1,202.1 517.8,202.1 518.5,202.0 519.2,202.0 519.9,201.9 520.6,201.9 521.3,201.8 522.0,201.7 522.7,201.6 523.4,201.5 524.1,201.4 524.8,201.3 525.5,201.1 526.2,201.0 526.9,200.8 527.6,200.6 528.3,200.3 529.0,200.1 529.7,199.7 530.4,199.3 531.1,198.8 531.8,198.3 532.5,197.6 533.2,196.8 533.9,195.8 534.6,194.7 535.3,193.3 536.0,191.7 536.7,190.0 537.4,188.3 538.1,186.7 538.8,185.7 539.5,185.4 540.2,185.9 540.9,187.1 541.6,188.8 542.3,190.5 543.0,192.2 543.7,193.7 544.4,195.0 545.1,196.1 545.8,197.0 546.5,197.8 547.2,198.5 547.9,199.0 548.6,199.4 549.3,199.8 550.0,200.1 550.7,200.4 551.4,200.7 552.1,200.9 552.8,201.0 553.5,201.2 554.2,201.3 554.9,201.4 555.6,201.6 556.3,201.6 557.0,201.7 557.7,201.8 558.4,201.9 559.1,201.9 559.8,202.0 560.5,202.0 561.2,202.1 561.9,202.1 562.6,202.2 563.3,202.2 564.0,202.2 564.7,202.3" fill="none" stroke="#0000ee" stroke-width="1.9" stroke-linejoin="round" />
<g fill="none" stroke="#8a38f2" stroke-width="0.9"><circle cx="420.4" cy="232.5" r="2.25"/><circle cx="421.8" cy="232.9" r="2.25"/><circle cx="423.1" cy="232.5" r="2.25"/><circle cx="424.5" cy="232.5" r="2.25"/><circle cx="425.8" cy="232.6" r="2.25"/><circle cx="427.2" cy="232.8" r="2.25"/><circle cx="428.5" cy="232.1" r="2.25"/><circle cx="429.9" cy="231.9" r="2.25"/><circle cx="431.2" cy="232.4" r="2.25"/><circle cx="432.6" cy="232.1" r="2.25"/><circle cx="433.9" cy="231.6" r="2.25"/><circle cx="435.3" cy="231.8" r="2.25"/><circle cx="436.6" cy="231.3" r="2.25"/><circle cx="438.0" cy="230.3" r="2.25"/><circle cx="439.3" cy="229.8" r="2.25"/><circle cx="440.7" cy="228.3" r="2.25"/><circle cx="442.0" cy="226.2" r="2.25"/><circle cx="443.4" cy="222.5" r="2.25"/><circle cx="444.7" cy="216.9" r="2.25"/><circle cx="446.1" cy="209.8" r="2.25"/><circle cx="447.4" cy="203.8" r="2.25"/><circle cx="448.8" cy="205.7" r="2.25"/><circle cx="450.1" cy="211.2" r="2.25"/><circle cx="451.5" cy="214.3" r="2.25"/><circle cx="452.8" cy="214.4" r="2.25"/><circle cx="454.2" cy="215.4" r="2.25"/><circle cx="455.5" cy="218.7" r="2.25"/><circle cx="456.9" cy="221.8" r="2.25"/><circle cx="458.2" cy="223.4" r="2.25"/><circle cx="459.6" cy="224.7" r="2.25"/><circle cx="460.9" cy="224.8" r="2.25"/><circle cx="462.3" cy="225.2" r="2.25"/><circle cx="463.6" cy="224.5" r="2.25"/><circle cx="465.0" cy="224.4" r="2.25"/><circle cx="466.3" cy="223.9" r="2.25"/><circle cx="467.7" cy="223.9" r="2.25"/><circle cx="469.0" cy="223.9" r="2.25"/><circle cx="470.4" cy="223.3" r="2.25"/><circle cx="471.7" cy="223.3" r="2.25"/><circle cx="473.1" cy="223.9" r="2.25"/><circle cx="474.4" cy="224.6" r="2.25"/><circle cx="475.8" cy="226.5" r="2.25"/><circle cx="477.1" cy="228.1" r="2.25"/><circle cx="478.5" cy="230.1" r="2.25"/><circle cx="479.8" cy="232.3" r="2.25"/><circle cx="481.2" cy="234.1" r="2.25"/><circle cx="482.5" cy="235.1" r="2.25"/><circle cx="483.9" cy="235.4" r="2.25"/><circle cx="485.2" cy="235.7" r="2.25"/><circle cx="486.6" cy="235.7" r="2.25"/><circle cx="487.9" cy="236.0" r="2.25"/><circle cx="489.3" cy="236.2" r="2.25"/><circle cx="490.6" cy="236.9" r="2.25"/><circle cx="492.0" cy="236.1" r="2.25"/><circle cx="493.3" cy="237.0" r="2.25"/><circle cx="494.7" cy="236.6" r="2.25"/><circle cx="496.0" cy="236.6" r="2.25"/><circle cx="497.4" cy="236.5" r="2.25"/><circle cx="498.7" cy="237.2" r="2.25"/><circle cx="500.1" cy="236.5" r="2.25"/><circle cx="501.4" cy="236.9" r="2.25"/><circle cx="502.8" cy="236.9" r="2.25"/></g>
<polyline points="419.7,235.9 420.4,235.9 421.1,235.9 421.8,235.9 422.5,235.9 423.2,235.9 423.9,235.9 424.6,235.9 425.3,235.9 426.0,235.9 426.7,235.8 427.4,235.8 428.1,235.8 428.8,235.8 429.5,235.8 430.2,235.7 430.9,235.7 431.6,235.6 432.3,235.6 433.0,235.5 433.7,235.4 434.4,235.4 435.1,235.2 435.8,235.1 436.5,235.0 437.2,234.8 437.9,234.5 438.6,234.2 439.3,233.8 440.0,233.4 440.7,232.8 441.4,232.0 442.1,230.9 442.8,229.4 443.5,227.5 444.2,224.7 444.9,221.1 445.6,216.5 446.3,211.9 447.0,209.1 447.7,209.9 448.4,213.8 449.1,218.6 449.8,222.9 450.5,226.1 451.2,228.5 451.9,230.3 452.6,231.6 453.3,232.6 454.0,233.3 454.7,233.9 455.4,234.3 456.1,234.7 456.8,235.0 457.5,235.3 458.2,235.5 458.9,235.6 459.6,235.8 460.3,235.9 461.0,236.0 461.7,236.1 462.4,236.2 463.1,236.3 463.8,236.4 464.5,236.4 465.2,236.5 465.9,236.5 466.6,236.6 467.3,236.6 468.0,236.7 468.7,236.7 469.4,236.8 470.1,236.8 470.8,236.8 471.5,236.8 472.2,236.9 472.9,236.9 473.6,236.9 474.3,236.9 475.0,237.0 475.7,237.0 476.4,237.0 477.1,237.0 477.8,237.1 478.5,237.1 479.2,237.1 479.9,237.1 480.6,237.1 481.3,237.1 482.0,237.2 482.7,237.2 483.4,237.2 484.1,237.2 484.8,237.2 485.5,237.2 486.2,237.2 486.9,237.2 487.6,237.3 488.3,237.3 489.0,237.3 489.7,237.3 490.4,237.3 491.1,237.3 491.8,237.3 492.5,237.3 493.2,237.3 493.9,237.4 494.6,237.4 495.3,237.4 496.0,237.4 496.7,237.4 497.4,237.4 498.1,237.4 498.8,237.4 499.5,237.4 500.2,237.4 500.9,237.4 501.6,237.4 502.3,237.4 503.0,237.4 503.7,237.4 504.4,237.4" fill="none" stroke="#ff00ff" stroke-width="1.2" stroke-linejoin="round" />
<polyline points="419.7,236.0 420.4,236.0 421.1,236.0 421.8,236.0 422.5,236.0 423.2,236.0 423.9,236.0 424.6,236.1 425.3,236.1 426.0,236.1 426.7,236.1 427.4,236.1 428.1,236.1 428.8,236.1 429.5,236.1 430.2,236.1 430.9,236.1 431.6,236.1 432.3,236.1 433.0,236.1 433.7,236.1 434.4,236.1 435.1,236.1 435.8,236.0 436.5,236.0 437.2,236.0 437.9,236.0 438.6,235.9 439.3,235.9 440.0,235.8 440.7,235.8 441.4,235.7 442.1,235.6 442.8,235.5 443.5,235.4 444.2,235.2 444.9,235.0 445.6,234.8 446.3,234.5 447.0,234.1 447.7,233.5 448.4,232.9 449.1,232.0 449.8,230.8 450.5,229.1 451.2,226.8 451.9,223.7 452.6,220.0 453.3,216.3 454.0,214.4 454.7,215.5 455.4,218.9 456.1,222.8 456.8,226.1 457.5,228.6 458.2,230.5 458.9,231.8 459.6,232.9 460.3,233.6 461.0,234.2 461.7,234.6 462.4,235.0 463.1,235.3 463.8,235.5 464.5,235.7 465.2,235.9 465.9,236.0 466.6,236.1 467.3,236.3 468.0,236.3 468.7,236.4 469.4,236.5 470.1,236.6 470.8,236.6 471.5,236.7 472.2,236.7 472.9,236.8 473.6,236.8 474.3,236.8 475.0,236.9 475.7,236.9 476.4,236.9 477.1,237.0 477.8,237.0 478.5,237.0 479.2,237.0 479.9,237.1 480.6,237.1 481.3,237.1 482.0,237.1 482.7,237.1 483.4,237.1 484.1,237.2 484.8,237.2 485.5,237.2 486.2,237.2 486.9,237.2 487.6,237.2 488.3,237.3 489.0,237.3 489.7,237.3 490.4,237.3 491.1,237.3 491.8,237.3 492.5,237.3 493.2,237.3 493.9,237.3 494.6,237.4 495.3,237.4 496.0,237.4 496.7,237.4 497.4,237.4 498.1,237.4 498.8,237.4 499.5,237.4 500.2,237.4 500.9,237.4 501.6,237.4 502.3,237.4 503.0,237.4 503.7,237.4 504.4,237.4" fill="none" stroke="#1a7a1a" stroke-width="1.9" stroke-linejoin="round" />
<g fill="none" stroke="#8a38f2" stroke-width="0.8"><circle cx="510.5" cy="234.5" r="2.4"/><circle cx="513.3" cy="235.4" r="2.4"/><circle cx="515.4" cy="235.5" r="2.4"/><circle cx="517.4" cy="235.0" r="2.4"/><circle cx="520.1" cy="234.0" r="2.4"/><circle cx="522.2" cy="235.1" r="2.4"/><circle cx="524.4" cy="234.4" r="2.4"/><circle cx="526.6" cy="233.8" r="2.4"/><circle cx="529.0" cy="232.9" r="2.4"/><circle cx="531.3" cy="232.7" r="2.4"/><circle cx="533.8" cy="230.8" r="2.4"/><circle cx="536.1" cy="228.7" r="2.4"/><circle cx="538.5" cy="225.7" r="2.4"/><circle cx="540.6" cy="223.5" r="2.4"/><circle cx="542.8" cy="221.5" r="2.4"/><circle cx="545.0" cy="224.4" r="2.4"/><circle cx="547.3" cy="227.6" r="2.4"/><circle cx="549.8" cy="230.4" r="2.4"/><circle cx="552.3" cy="231.7" r="2.4"/><circle cx="554.3" cy="231.6" r="2.4"/><circle cx="556.7" cy="233.6" r="2.4"/><circle cx="559.3" cy="233.1" r="2.4"/><circle cx="561.1" cy="234.9" r="2.4"/><circle cx="563.7" cy="234.3" r="2.4"/></g>
<polyline points="509.4,235.1 510.1,235.1 510.8,235.0 511.5,235.0 512.2,235.0 512.9,235.0 513.6,235.0 514.3,234.9 515.0,234.9 515.7,234.9 516.4,234.8 517.1,234.8 517.8,234.8 518.5,234.7 519.2,234.7 519.9,234.6 520.6,234.6 521.3,234.5 522.0,234.5 522.7,234.4 523.4,234.3 524.1,234.2 524.8,234.1 525.5,234.0 526.2,233.9 526.9,233.8 527.6,233.7 528.3,233.5 529.0,233.3 529.7,233.1 530.4,232.9 531.1,232.6 531.8,232.3 532.5,232.0 533.2,231.6 533.9,231.2 534.6,230.7 535.3,230.1 536.0,229.4 536.7,228.7 537.4,227.8 538.1,226.9 538.8,225.9 539.5,224.9 540.2,224.0 540.9,223.2 541.6,222.6 542.3,222.3 543.0,222.4 543.7,222.8 544.4,223.5 545.1,224.4 545.8,225.4 546.5,226.4 547.2,227.3 547.9,228.2 548.6,229.0 549.3,229.7 550.0,230.3 550.7,230.9 551.4,231.4 552.1,231.8 552.8,232.2 553.5,232.5 554.2,232.8 554.9,233.0 555.6,233.2 556.3,233.4 557.0,233.6 557.7,233.7 558.4,233.9 559.1,234.0 559.8,234.1 560.5,234.2 561.2,234.3 561.9,234.3 562.6,234.4 563.3,234.5 564.0,234.5 564.7,234.6" fill="none" stroke="#0000ee" stroke-width="1.9" stroke-linejoin="round" />
<rect x="505.4" y="6.8" width="2.5" height="231.79999999999998" fill="#fff"/>
<line x1="502.6" y1="10.7" x2="506.6" y2="1.2" stroke="#333" stroke-width="0.9" />
<line x1="506.6" y1="10.7" x2="510.6" y2="1.2" stroke="#333" stroke-width="0.9" />
<line x1="502.6" y1="244.5" x2="506.6" y2="235.0" stroke="#333" stroke-width="0.9" />
<line x1="506.6" y1="244.5" x2="510.6" y2="235.0" stroke="#333" stroke-width="0.9" />
<line x1="429.2" y1="239.6" x2="429.2" y2="237.1" stroke="#444" stroke-width="0.9" />
<line x1="445.3" y1="239.6" x2="445.3" y2="237.1" stroke="#444" stroke-width="0.9" />
<line x1="461.4" y1="239.6" x2="461.4" y2="237.1" stroke="#444" stroke-width="0.9" />
<line x1="477.5" y1="239.6" x2="477.5" y2="237.1" stroke="#444" stroke-width="0.9" />
<line x1="493.6" y1="239.6" x2="493.6" y2="237.1" stroke="#444" stroke-width="0.9" />
<line x1="543.5" y1="239.6" x2="543.5" y2="237.1" stroke="#444" stroke-width="0.9" />
<text x="429.2" y="252.8" font-size="13" text-anchor="middle" fill="#000" font-weight="normal" >240</text>
<text x="461.4" y="252.8" font-size="13" text-anchor="middle" fill="#000" font-weight="normal" >255</text>
<text x="493.6" y="252.8" font-size="13" text-anchor="middle" fill="#000" font-weight="normal" >270</text>
<text x="543.5" y="252.8" font-size="13" text-anchor="middle" fill="#000" font-weight="normal" >308</text>
<text x="480.0" y="52.3" font-size="12" text-anchor="start" fill="#000" font-weight="normal" >×1</text>
<text x="503.5" y="52.3" font-size="12" text-anchor="start" fill="#000" font-weight="normal" >1L</text>
<text x="547.8" y="48.7" font-size="12" text-anchor="start" fill="#000" font-weight="normal" >×1</text>
<text x="480.0" y="91.2" font-size="12" text-anchor="start" fill="#000" font-weight="normal" >×5</text>
<text x="502.7" y="96.4" font-size="12" text-anchor="start" fill="#000" font-weight="normal" >2L</text>
<text x="547.8" y="72.9" font-size="12" text-anchor="start" fill="#000" font-weight="normal" >×50</text>
<text x="480.7" y="128.2" font-size="12" text-anchor="start" fill="#000" font-weight="normal" >×15</text>
<text x="502.8" y="135.2" font-size="12" text-anchor="start" fill="#000" font-weight="normal" >3L</text>
<text x="546.3" y="121.2" font-size="12" text-anchor="start" fill="#000" font-weight="normal" >×50</text>
<text x="480.7" y="162.2" font-size="12" text-anchor="start" fill="#000" font-weight="normal" >×15</text>
<text x="503.0" y="168.2" font-size="12" text-anchor="start" fill="#000" font-weight="normal" >4L</text>
<text x="546.3" y="158.7" font-size="12" text-anchor="start" fill="#000" font-weight="normal" >×50</text>
<text x="480.7" y="192.2" font-size="12" text-anchor="start" fill="#000" font-weight="normal" >×20</text>
<text x="503.0" y="199.2" font-size="12" text-anchor="start" fill="#000" font-weight="normal" >5L</text>
<text x="541.5" y="189.7" font-size="12" text-anchor="start" fill="#000" font-weight="normal" >×100</text>
<text x="503.6" y="228.6" font-size="12" text-anchor="start" fill="#000" font-weight="normal" >6L</text>
<text x="547.6" y="222.5" font-size="12" text-anchor="start" fill="#000" font-weight="normal" >×20</text>
<text x="422.8" y="23.2" font-size="15.5" text-anchor="start" fill="#000" font-weight="normal" >(c)</text>
<text x="537.5" y="25.6" font-size="14.5" text-anchor="start" fill="#000" font-weight="normal" >3R</text>
<text x="422.3" y="218.2" font-size="13.5" text-anchor="start" fill="#000" font-weight="bold" >E<tspan font-size="8" dy="-6.5">1</tspan><tspan font-size="8.5" dx="-4" dy="11">2g</tspan></text>
<text x="459.3" y="213.5" font-size="13.5" text-anchor="start" fill="#ff1a1a" font-weight="bold" >A<tspan font-size="8.5" dy="4.6">1g</tspan></text>
<text x="492.0" y="268.8" font-size="13.4" text-anchor="middle" fill="#000" font-weight="normal" >Raman shift (cm<tspan font-size="8.5" dy="-5">-1</tspan><tspan dy="5">)</tspan></text>
<text x="402.8" y="120.0" font-size="15" text-anchor="middle" fill="#000" font-weight="normal" textLength="97" lengthAdjust="spacingAndGlyphs" transform="rotate(-90 402.8 120)">Intensity (arb.u.)</text>
<clipPath id="cd"><rect x="39.6" y="279" width="146.6" height="88.5"/></clipPath><clipPath id="ce"><rect x="39.6" y="368.5" width="146.6" height="87.7"/></clipPath>
<g clip-path="url(#cd)">
<polyline points="39.0,362.6 39.3,362.3 39.5,362.5 39.9,362.5 40.2,362.5 40.5,362.2 40.9,362.1 41.3,362.4 41.7,362.5 42.1,362.0 42.6,361.9 43.0,361.9 43.5,362.3 44.0,362.0 44.5,362.0 45.0,362.3 45.5,362.0 46.0,361.7 46.6,362.0 47.1,361.5 47.7,361.6 48.2,361.8 48.8,361.4 49.4,361.3 50.0,361.5 50.5,361.4 51.1,361.7 51.7,361.1 52.3,361.5 52.9,361.2 53.5,361.4 54.0,361.1 54.6,361.2 55.2,360.9 55.8,360.8 56.3,360.9 56.9,361.0 57.4,360.7 58.0,360.6 58.5,360.6 59.0,360.4 59.5,360.4 60.0,360.5 60.5,360.5 61.0,360.4 61.5,360.2 62.1,360.0 62.6,359.9 63.1,360.0 63.6,359.8 64.1,360.0 64.7,359.7 65.2,360.0 65.7,359.8 66.2,359.8 66.8,359.7 67.3,359.5 67.8,359.4 68.3,359.2 68.8,359.0 69.3,359.4 69.9,359.1 70.4,358.8 70.9,359.2 71.4,358.9 71.9,358.9 72.4,358.7 72.9,358.4 73.4,358.9 73.9,358.3 74.4,358.3 74.9,358.6 75.4,358.0 75.9,358.2 76.3,358.1 76.8,357.9 77.3,358.2 77.7,357.8 78.2,357.5 78.7,357.7 79.1,357.3 79.6,357.7 80.0,357.7 80.6,357.7 81.2,357.1 81.7,357.3 82.3,357.0 82.9,357.1 83.4,356.9 84.0,356.8 84.6,356.6 85.1,356.9 85.7,356.5 86.2,356.9 86.7,356.3 87.3,356.8 87.8,356.3 88.3,356.1 88.8,356.5 89.3,356.2 89.8,356.3 90.3,356.1 90.8,356.1 91.2,355.7 91.7,355.9 92.2,355.8 92.6,355.9 93.0,355.3 93.4,355.2 93.8,355.5 94.2,355.5 94.6,355.1 95.0,355.1 95.7,354.8 96.4,354.4 97.0,354.1 97.6,353.8 98.1,353.1 98.6,352.9 99.1,352.8 99.5,352.1 99.9,351.9 100.3,351.4 100.7,351.0 101.1,350.8 101.5,350.5 102.0,350.3 102.5,349.6 103.0,349.0 103.5,348.6 104.0,348.0 104.5,347.6 105.0,347.4 105.5,347.0 106.0,346.3 106.5,345.9 107.0,345.4 107.5,345.1 108.0,345.0 108.5,344.6 109.0,344.7 109.6,344.2 110.1,343.9 110.7,343.7 111.2,343.3 111.8,343.5 112.3,343.3 112.9,343.0 113.4,343.1 113.9,342.7 114.4,342.6 114.9,342.6 115.5,342.6 116.0,343.0 116.5,343.1 117.0,343.4 117.5,343.2 118.0,343.9 118.5,344.0 119.0,344.2 119.5,344.6 120.0,345.0 120.5,345.2 121.0,345.6 121.5,346.2 121.9,346.6 122.4,347.2 122.9,347.2 123.5,348.1 124.0,348.5 124.6,349.0 125.2,349.7 125.9,349.8 126.3,350.5 126.7,351.0 127.2,351.0 127.6,351.7 128.1,352.4 128.5,352.5 129.0,353.3 129.4,353.9 129.9,354.1 130.4,354.4 131.0,354.9 131.5,355.8 132.0,356.0 132.6,356.4 133.2,356.9 133.8,357.6 134.4,357.5 135.1,357.7 135.5,358.5 135.9,358.3 136.3,358.5 136.7,359.0 137.1,358.7 137.5,358.7 137.8,359.3 138.2,359.1 138.6,359.2 139.0,359.7 139.4,359.4 139.8,359.9 140.2,359.7 140.7,359.8 141.1,359.8 141.6,360.1 142.0,360.2 142.6,360.2 143.1,360.3 143.6,360.3 144.2,360.7 144.8,360.8 145.4,360.7 146.1,360.9 146.8,360.5 147.6,360.6 148.3,360.7 149.1,360.7 150.0,361.3 150.4,361.3 150.7,361.3 151.1,361.1 151.5,360.9 151.9,361.1 152.4,360.9 152.8,361.4 153.3,361.1 153.7,361.1 154.2,361.5 154.7,361.1 155.2,361.5 155.7,361.2 156.2,361.4 156.7,361.1 157.3,361.6 157.8,361.3 158.4,361.3 158.9,361.5 159.5,361.5 160.0,361.3 160.6,361.3 161.2,361.5 161.8,361.2 162.4,361.8 162.9,361.5 163.5,361.4 164.1,361.5 164.7,361.4 165.3,361.5 165.9,361.6 166.5,361.6 167.1,361.6 167.7,361.5 168.3,361.7 168.9,361.9 169.5,361.7 170.1,361.9 170.7,361.7 171.3,361.5 171.9,361.5 172.5,362.0 173.1,361.8 173.6,361.7 174.2,361.8 174.8,362.0 175.3,361.7 175.9,361.7 176.4,361.7 177.0,361.5 177.5,361.9 178.0,361.8 178.5,361.9 179.0,361.8 179.5,361.9 180.0,362.0 180.5,361.7 180.9,362.2 181.4,361.7 181.8,362.1 182.3,361.7 182.7,362.1 183.1,361.8 183.5,361.7 183.8,362.0 184.2,362.2 184.5,362.2 184.9,362.2 185.2,362.3 185.5,361.7 185.7,361.9 186.0,361.8" fill="none" stroke="#9b5cf0" stroke-width="2.3" stroke-linejoin="round" />
<polyline points="39.0,362.2 39.3,361.9 39.5,362.1 39.9,362.1 40.2,362.2 40.5,362.0 40.9,362.1 41.3,361.8 41.7,361.5 42.1,362.0 42.6,361.4 43.0,361.4 43.5,361.8 44.0,361.4 44.5,361.6 45.0,361.2 45.5,361.3 46.0,361.5 46.6,361.1 47.1,361.3 47.7,361.5 48.2,361.0 48.8,361.3 49.4,361.2 50.0,361.1 50.5,361.1 51.1,361.0 51.7,360.6 52.3,360.6 52.9,360.8 53.5,361.0 54.0,360.5 54.6,360.6 55.2,360.3 55.8,360.7 56.3,360.4 56.9,360.4 57.4,360.4 58.0,360.0 58.5,360.3 59.0,360.3 59.5,360.3 60.0,359.9 60.5,359.8 61.0,359.7 61.5,360.0 62.1,359.7 62.6,359.6 63.1,359.6 63.6,359.7 64.1,359.4 64.7,359.3 65.2,359.5 65.7,359.4 66.2,359.1 66.8,358.9 67.3,359.3 67.8,359.1 68.3,359.0 68.8,358.8 69.3,359.0 69.9,358.7 70.4,358.5 70.9,358.3 71.4,358.4 71.9,358.5 72.4,358.2 72.9,358.5 73.4,358.3 73.9,358.1 74.4,358.1 74.9,358.0 75.4,357.9 75.9,357.8 76.3,357.7 76.8,357.6 77.3,357.7 77.7,357.2 78.2,357.5 78.7,357.1 79.1,357.4 79.6,356.8 80.0,357.0 80.6,356.9 81.2,356.9 81.7,356.5 82.3,356.4 82.9,356.2 83.4,356.4 84.0,356.3 84.5,355.8 85.1,355.8 85.6,355.7 86.1,356.1 86.7,355.6 87.2,355.6 87.7,355.3 88.2,355.4 88.7,355.4 89.2,355.2 89.7,354.6 90.2,354.8 90.6,354.7 91.1,354.3 91.6,354.6 92.0,354.1 92.5,353.9 92.9,354.0 93.3,353.8 93.8,353.6 94.2,353.6 94.6,353.2 95.0,352.9 95.7,352.4 96.3,352.3 97.0,351.7 97.6,351.4 98.1,350.8 98.7,350.1 99.2,349.6 99.7,349.2 100.2,348.6 100.7,348.6 101.1,347.9 101.6,347.2 102.0,347.0 102.5,346.4 102.9,345.6 103.4,345.6 103.8,344.8 104.4,344.7 105.0,343.6 105.5,343.1 106.0,342.6 106.5,342.4 107.0,341.8 107.5,341.2 108.0,340.4 108.5,340.1 109.0,339.9 109.5,339.1 110.0,339.3 110.5,338.9 111.0,338.7 111.5,338.3 112.1,338.0 112.6,338.0 113.1,337.4 113.7,337.2 114.2,337.0 114.7,336.9 115.2,337.2 115.7,336.7 116.2,337.1 116.7,336.9 117.3,337.3 117.9,337.4 118.4,337.6 118.9,338.0 119.5,337.8 120.0,338.3 120.5,338.7 121.0,339.1 121.5,339.7 122.0,340.2 122.5,340.6 123.1,341.1 123.5,341.5 124.0,341.7 124.5,342.3 125.0,343.0 125.6,343.7 126.2,344.1 126.8,344.9 127.2,345.6 127.7,346.1 128.2,347.1 128.6,347.4 129.1,348.5 129.6,349.2 130.1,349.8 130.7,350.9 131.2,351.6 131.8,352.7 132.3,353.4 132.9,353.9 133.6,354.7 134.2,355.2 134.6,355.1 135.0,355.8 135.3,356.1 135.6,356.5 135.9,356.7 136.2,356.7 136.4,356.8 136.7,357.3 137.0,357.2 137.3,357.8 137.7,357.9 138.1,358.2 138.5,358.1 139.0,358.2 139.6,358.8 140.3,358.8 141.0,358.8 141.8,359.0 142.8,359.1 143.8,359.4 145.0,359.5 145.3,359.4 145.7,359.9 146.0,359.9 146.4,359.8 146.8,359.6 147.2,359.6 147.6,359.9 148.0,360.0 148.4,360.0 148.8,359.7 149.3,360.1 149.8,360.0 150.2,360.0 150.7,360.1 151.2,360.1 151.7,360.2 152.2,360.3 152.8,360.5 153.3,360.0 153.8,360.3 154.4,360.6 154.9,360.5 155.5,360.5 156.0,360.7 156.6,360.2 157.2,360.7 157.8,360.6 158.3,360.6 158.9,360.5 159.5,360.7 160.1,360.5 160.7,360.8 161.3,360.6 161.9,361.1 162.5,361.0 163.1,360.9 163.7,361.1 164.3,360.9 165.0,361.0 165.6,360.8 166.2,361.2 166.8,361.2 167.4,361.2 168.0,360.9 168.6,361.3 169.2,360.9 169.8,361.3 170.4,361.2 171.0,361.0 171.6,361.3 172.2,361.6 172.7,361.4 173.3,361.3 173.9,361.6 174.4,361.3 175.0,361.7 175.5,361.4 176.1,361.3 176.6,361.8 177.1,361.3 177.7,361.4 178.2,361.8 178.7,361.4 179.2,361.7 179.7,361.9 180.1,361.8 180.6,361.6 181.0,361.9 181.5,362.0 181.9,361.8 182.3,361.9 182.7,361.7 183.1,361.8 183.5,362.2 183.9,362.2 184.2,361.6 184.5,361.7 184.9,361.8 185.2,362.1 185.5,361.8 185.7,361.8 186.0,362.2" fill="none" stroke="#3f9cff" stroke-width="2.3" stroke-linejoin="round" />
<polyline points="39.0,361.8 39.3,362.3 39.5,361.9 39.9,362.1 40.2,362.1 40.5,361.6 40.9,361.9 41.3,361.7 41.7,361.5 42.1,361.4 42.6,361.7 43.0,361.6 43.5,361.3 44.0,361.6 44.5,361.2 45.0,361.3 45.5,361.0 46.0,361.1 46.6,361.3 47.1,361.0 47.7,360.8 48.2,360.7 48.8,360.9 49.4,360.6 50.0,360.9 50.5,360.4 51.1,360.8 51.7,360.6 52.3,360.6 52.9,360.3 53.5,360.0 54.0,360.0 54.6,360.2 55.2,359.8 55.8,359.8 56.3,360.1 56.9,360.1 57.4,360.0 58.0,360.0 58.5,359.7 59.0,359.8 59.5,359.7 60.0,359.5 60.5,359.4 61.0,359.1 61.5,359.1 62.1,359.1 62.6,359.2 63.1,358.9 63.6,359.4 64.1,359.1 64.7,359.1 65.2,359.2 65.7,358.7 66.2,359.1 66.7,359.1 67.3,358.6 67.8,358.4 68.3,358.8 68.8,358.8 69.3,358.7 69.8,358.4 70.3,358.5 70.9,358.1 71.4,358.1 71.9,358.2 72.4,358.3 72.9,357.9 73.4,358.3 73.9,357.7 74.4,358.2 74.9,357.7 75.3,358.0 75.8,357.9 76.3,357.9 76.8,357.6 77.3,357.6 77.7,357.3 78.2,357.6 78.6,357.0 79.1,357.4 79.6,357.1 80.0,356.7 80.6,357.1 81.1,356.7 81.7,356.4 82.3,356.4 82.8,356.1 83.4,356.2 83.9,356.3 84.5,356.4 85.0,356.0 85.5,356.0 86.0,355.9 86.6,355.7 87.1,355.4 87.6,355.2 88.1,355.0 88.6,355.0 89.1,354.7 89.6,354.9 90.1,354.5 90.6,354.4 91.1,354.2 91.5,354.1 92.0,353.6 92.4,353.5 92.9,353.6 93.3,353.1 93.8,353.1 94.2,353.0 94.7,352.5 95.1,352.5 95.5,352.1 96.1,351.8 96.8,351.1 97.4,350.7 97.9,350.1 98.5,349.3 99.1,348.9 99.6,348.3 100.1,347.6 100.7,347.1 101.2,346.6 101.7,345.8 102.2,345.2 102.6,344.1 103.1,343.8 103.5,343.1 104.0,342.6 104.4,341.5 104.9,341.0 105.3,340.8 105.7,339.9 106.4,339.2 107.0,338.2 107.5,337.1 108.1,336.2 108.6,335.4 109.1,334.7 109.6,333.6 110.0,332.9 110.5,331.8 111.0,331.3 111.5,330.6 112.0,330.1 112.5,329.8 113.0,328.9 113.5,329.0 114.0,328.5 114.5,328.0 115.0,327.9 115.6,327.5 116.1,327.5 116.6,327.7 117.1,327.6 117.6,327.6 118.0,327.2 118.5,327.2 119.0,327.4 119.6,327.6 120.1,327.9 120.6,327.9 121.1,328.5 121.6,328.7 122.1,328.9 122.6,329.6 123.1,329.7 123.5,330.5 124.0,330.8 124.6,331.5 125.1,332.6 125.6,333.5 126.1,334.5 126.6,335.4 127.1,336.8 127.6,337.9 128.1,338.6 128.7,339.7 129.2,341.3 129.6,342.0 130.0,343.0 130.4,344.2 130.8,345.7 131.3,346.6 131.8,347.8 132.3,349.1 132.9,350.0 133.5,351.2 134.2,352.3 134.6,352.6 135.0,352.9 135.4,353.3 135.9,353.5 136.3,354.1 136.8,354.5 137.3,354.8 137.7,355.1 138.2,355.5 138.7,355.5 139.3,356.1 139.8,356.6 140.3,356.3 140.9,356.7 141.5,357.4 142.0,357.1 142.6,357.8 143.2,357.9 143.8,357.8 144.4,358.4 145.0,358.2 145.4,358.9 145.9,358.7 146.3,359.2 146.7,359.3 147.1,358.9 147.6,359.2 148.0,359.2 148.4,359.6 148.8,359.3 149.3,359.4 149.7,359.5 150.2,360.1 150.6,359.8 151.1,359.9 151.6,360.1 152.0,360.2 152.5,360.2 153.0,360.6 153.5,360.3 154.0,360.4 154.6,360.7 155.1,360.4 155.7,360.4 156.2,360.9 156.8,360.6 157.4,361.0 158.0,361.0 158.7,360.8 159.3,360.8 160.0,360.8 160.4,361.3 160.8,361.0 161.3,361.0 161.7,360.9 162.2,361.0 162.7,361.4 163.1,361.0 163.7,361.3 164.2,361.3 164.7,361.3 165.2,361.3 165.8,361.3 166.3,361.2 166.9,361.6 167.5,361.7 168.0,361.5 168.6,361.3 169.2,361.7 169.8,361.3 170.4,361.3 171.0,361.6 171.6,361.8 172.2,361.6 172.8,361.4 173.3,361.9 173.9,361.4 174.5,361.6 175.1,362.0 175.7,361.9 176.3,361.9 176.8,361.5 177.4,362.0 177.9,361.7 178.5,361.5 179.0,362.0 179.6,362.1 180.1,361.6 180.6,361.8 181.1,362.1 181.5,361.8 182.0,361.8 182.5,362.1 182.9,361.9 183.3,362.2 183.7,362.1 184.1,362.2 184.5,362.1 184.8,361.8 185.1,362.1 185.5,362.0 185.7,362.0 186.0,362.0" fill="none" stroke="#1faa1f" stroke-width="2.3" stroke-linejoin="round" />
<polyline points="39.0,362.0 39.3,362.0 39.5,362.0 39.8,362.0 40.1,362.0 40.5,362.0 40.8,361.9 41.2,361.9 41.6,361.9 42.0,361.9 42.4,361.9 42.8,361.9 43.2,361.9 43.7,361.9 44.1,361.9 44.6,361.8 45.1,361.8 45.6,361.8 46.1,361.8 46.6,361.8 47.1,361.8 47.6,361.8 48.2,361.8 48.7,361.7 49.3,361.7 49.8,361.7 50.4,361.7 50.9,361.7 51.5,361.7 52.1,361.7 52.7,361.6 53.2,361.6 53.8,361.6 54.4,361.6 55.0,361.6 55.6,361.6 56.2,361.5 56.8,361.5 57.4,361.5 58.0,361.5 58.6,361.5 59.1,361.5 59.7,361.4 60.3,361.4 60.9,361.4 61.4,361.4 62.0,361.4 62.6,361.3 63.1,361.3 63.7,361.3 64.2,361.3 64.8,361.3 65.3,361.2 65.8,361.2 66.3,361.2 66.8,361.2 67.3,361.1 67.8,361.1 68.3,361.1 68.7,361.1 69.2,361.0 69.6,361.0 70.0,361.0 70.6,361.0 71.2,360.9 71.8,360.9 72.4,360.9 73.0,360.8 73.6,360.8 74.1,360.8 74.7,360.7 75.2,360.7 75.7,360.7 76.3,360.7 76.8,360.6 77.3,360.6 77.8,360.6 78.3,360.5 78.7,360.5 79.2,360.5 79.7,360.4 80.1,360.4 80.6,360.4 81.1,360.3 81.5,360.3 82.0,360.3 82.4,360.2 82.9,360.2 83.3,360.1 83.8,360.1 84.3,360.0 84.7,359.9 85.2,359.9 85.6,359.8 86.1,359.7 86.6,359.7 87.0,359.6 87.5,359.5 88.0,359.4 88.5,359.3 89.0,359.2 89.5,359.1 90.0,359.0 90.5,358.9 91.0,358.8 91.5,358.7 92.0,358.5 92.5,358.4 93.1,358.3 93.6,358.2 94.2,358.1 94.7,357.9 95.2,357.8 95.8,357.6 96.3,357.5 96.9,357.4 97.5,357.2 98.0,357.1 98.6,356.9 99.1,356.8 99.7,356.6 100.2,356.5 100.8,356.3 101.3,356.1 101.9,356.0 102.4,355.8 103.0,355.6 103.5,355.4 104.0,355.3 104.5,355.1 105.0,354.9 105.6,354.7 106.0,354.5 106.5,354.3 107.0,354.1 107.5,353.9 107.9,353.7 108.4,353.5 108.8,353.3 109.3,353.1 109.7,352.9 110.1,352.7 110.5,352.4 110.8,352.2 111.2,352.0 112.1,351.4 112.9,350.8 113.6,350.1 114.3,349.4 114.9,348.7 115.4,348.0 115.9,347.3 116.4,346.5 116.8,345.7 117.2,344.9 117.6,344.1 118.0,343.3 118.3,342.5 118.7,341.7 119.1,340.8 119.5,340.0 120.1,338.6 120.7,337.0 121.3,335.4 121.8,333.7 122.2,332.0 122.7,330.3 123.1,328.8 123.6,327.3 124.0,326.1 124.5,325.0 125.0,324.1 125.5,323.3 126.1,322.7 126.6,322.2 127.1,321.8 127.6,321.6 128.0,321.4 128.5,321.3 129.0,321.3 129.5,321.3 130.0,321.4 130.5,321.6 131.0,322.0 131.5,322.5 132.0,323.1 132.5,323.9 133.0,325.0 133.5,326.4 133.9,328.0 134.3,329.9 134.7,332.0 135.2,334.1 135.7,336.2 136.3,338.2 137.0,340.0 137.4,340.8 137.8,341.7 138.2,342.5 138.6,343.3 139.0,344.1 139.5,344.9 139.9,345.7 140.4,346.5 140.9,347.3 141.5,348.0 142.0,348.7 142.6,349.4 143.2,350.1 143.8,350.8 144.5,351.4 145.2,352.0 145.6,352.3 146.0,352.6 146.4,353.0 146.8,353.3 147.2,353.6 147.6,353.9 148.1,354.1 148.5,354.4 148.9,354.7 149.4,355.0 149.8,355.2 150.3,355.5 150.8,355.7 151.2,356.0 151.7,356.2 152.2,356.4 152.7,356.7 153.3,356.9 153.8,357.1 154.4,357.3 154.9,357.5 155.5,357.7 156.1,357.9 156.7,358.1 157.3,358.3 158.0,358.5 158.6,358.7 159.3,358.8 160.0,359.0 160.4,359.1 160.8,359.2 161.3,359.3 161.7,359.3 162.2,359.4 162.6,359.5 163.1,359.6 163.6,359.7 164.2,359.7 164.7,359.8 165.2,359.9 165.8,359.9 166.3,360.0 166.9,360.1 167.5,360.1 168.0,360.2 168.6,360.2 169.2,360.3 169.8,360.4 170.4,360.4 171.0,360.5 171.6,360.5 172.1,360.6 172.7,360.6 173.3,360.6 173.9,360.7 174.5,360.7 175.1,360.8 175.7,360.8 176.3,360.9 176.8,360.9 177.4,360.9 177.9,361.0 178.5,361.0 179.0,361.0 179.6,361.1 180.1,361.1 180.6,361.1 181.1,361.2 181.5,361.2 182.0,361.2 182.5,361.2 182.9,361.3 183.3,361.3 183.7,361.3 184.1,361.4 184.5,361.4 184.8,361.4 185.1,361.4 185.5,361.5 185.7,361.5 186.0,361.5" fill="none" stroke="#ff6cff" stroke-width="1.2" stroke-linejoin="round" />
<polyline points="39.0,362.0 39.3,362.0 39.5,362.0 39.8,361.9 40.1,361.9 40.5,361.9 40.8,361.9 41.2,361.9 41.6,361.9 42.0,361.8 42.4,361.8 42.8,361.8 43.2,361.8 43.7,361.7 44.1,361.7 44.6,361.7 45.1,361.7 45.6,361.6 46.1,361.6 46.6,361.6 47.1,361.6 47.6,361.5 48.2,361.5 48.7,361.5 49.3,361.4 49.8,361.4 50.4,361.4 50.9,361.4 51.5,361.3 52.1,361.3 52.7,361.3 53.2,361.2 53.8,361.2 54.4,361.2 55.0,361.1 55.6,361.1 56.2,361.1 56.8,361.0 57.4,361.0 58.0,361.0 58.6,360.9 59.1,360.9 59.7,360.8 60.3,360.8 60.9,360.8 61.4,360.7 62.0,360.7 62.6,360.6 63.1,360.6 63.7,360.6 64.2,360.5 64.8,360.5 65.3,360.4 65.8,360.4 66.3,360.4 66.8,360.3 67.3,360.3 67.8,360.2 68.3,360.2 68.7,360.1 69.2,360.1 69.6,360.0 70.0,360.0 70.6,359.9 71.3,359.9 71.9,359.8 72.5,359.7 73.0,359.6 73.6,359.6 74.2,359.5 74.7,359.4 75.3,359.3 75.8,359.3 76.4,359.2 76.9,359.1 77.4,359.0 77.9,358.9 78.4,358.9 78.9,358.8 79.4,358.7 79.9,358.6 80.4,358.5 80.8,358.4 81.3,358.3 81.8,358.2 82.2,358.1 82.7,358.0 83.2,358.0 83.6,357.9 84.1,357.8 84.5,357.7 85.0,357.6 85.4,357.4 85.9,357.3 86.3,357.2 86.8,357.1 87.2,357.0 87.7,356.9 88.2,356.8 88.6,356.7 89.1,356.5 89.5,356.4 90.0,356.3 90.5,356.2 91.1,356.0 91.6,355.9 92.2,355.7 92.7,355.6 93.3,355.5 93.8,355.3 94.4,355.2 94.9,355.1 95.5,354.9 96.0,354.8 96.5,354.7 97.1,354.5 97.6,354.4 98.2,354.2 98.7,354.1 99.2,353.9 99.7,353.8 100.3,353.6 100.8,353.4 101.3,353.3 101.8,353.1 102.3,352.9 102.8,352.7 103.2,352.5 103.7,352.3 104.2,352.1 104.6,351.9 105.1,351.6 105.5,351.4 105.9,351.1 106.3,350.9 106.7,350.6 107.1,350.3 107.5,350.0 108.3,349.3 109.0,348.6 109.7,347.8 110.3,347.0 110.8,346.2 111.4,345.3 111.9,344.4 112.4,343.4 112.8,342.4 113.2,341.4 113.7,340.4 114.1,339.4 114.5,338.3 114.9,337.2 115.4,336.1 115.8,335.0 116.4,333.4 116.9,331.7 117.5,329.8 118.0,327.9 118.5,325.9 119.0,324.0 119.5,322.0 120.0,320.1 120.5,318.4 121.0,316.7 121.5,315.3 122.0,314.0 122.5,313.0 123.0,312.1 123.6,311.3 124.1,310.5 124.6,309.9 125.2,309.3 125.7,308.9 126.3,308.5 126.8,308.1 127.3,307.9 127.8,307.7 128.3,307.6 128.7,307.5 129.4,307.5 130.0,307.6 130.5,308.0 131.0,308.5 131.5,309.2 132.0,310.2 132.5,311.4 133.0,313.0 133.5,315.0 133.9,317.5 134.3,320.3 134.8,323.4 135.2,326.5 135.7,329.6 136.3,332.5 137.0,335.0 137.4,336.1 137.8,337.3 138.2,338.3 138.7,339.4 139.2,340.4 139.6,341.4 140.1,342.4 140.7,343.4 141.2,344.3 141.7,345.2 142.3,346.1 142.8,346.9 143.4,347.7 144.0,348.5 144.6,349.3 145.2,350.0 145.6,350.5 146.1,351.0 146.5,351.5 147.0,352.0 147.5,352.4 147.9,352.8 148.4,353.3 148.9,353.7 149.4,354.0 149.9,354.4 150.4,354.8 150.9,355.1 151.4,355.5 152.0,355.8 152.5,356.1 153.0,356.4 153.5,356.7 154.1,357.0 154.6,357.2 155.2,357.5 155.7,357.8 156.3,358.0 156.8,358.2 157.2,358.4 157.7,358.5 158.2,358.7 158.6,358.8 159.1,359.0 159.6,359.1 160.1,359.2 160.6,359.3 161.1,359.4 161.6,359.5 162.1,359.6 162.6,359.6 163.1,359.7 163.6,359.8 164.1,359.9 164.6,359.9 165.2,360.0 165.7,360.0 166.2,360.1 166.8,360.2 167.3,360.2 167.8,360.3 168.4,360.3 168.9,360.4 169.5,360.4 170.0,360.5 170.5,360.6 171.0,360.6 171.5,360.7 172.0,360.7 172.5,360.7 173.1,360.8 173.6,360.8 174.2,360.9 174.8,360.9 175.4,361.0 176.0,361.0 176.5,361.0 177.1,361.1 177.7,361.1 178.3,361.1 178.9,361.2 179.4,361.2 180.0,361.2 180.5,361.2 181.1,361.3 181.6,361.3 182.1,361.3 182.6,361.3 183.1,361.4 183.5,361.4 184.0,361.4 184.4,361.4 184.7,361.4 185.1,361.5 185.4,361.5 185.7,361.5 186.0,361.5" fill="none" stroke="#ffb800" stroke-width="1.3" stroke-linejoin="round" />
<polyline points="39.0,362.0 39.3,362.0 39.5,362.0 39.8,362.0 40.1,362.0 40.4,362.0 40.8,362.0 41.1,362.0 41.5,361.9 41.9,361.9 42.3,361.9 42.7,361.9 43.1,361.9 43.5,361.9 43.9,361.9 44.4,361.9 44.9,361.9 45.3,361.9 45.8,361.9 46.3,361.8 46.8,361.8 47.3,361.8 47.8,361.8 48.3,361.8 48.9,361.8 49.4,361.8 50.0,361.8 50.5,361.8 51.1,361.8 51.6,361.7 52.2,361.7 52.8,361.7 53.4,361.7 54.0,361.7 54.5,361.7 55.1,361.7 55.7,361.7 56.3,361.6 56.9,361.6 57.5,361.6 58.1,361.6 58.8,361.6 59.4,361.6 60.0,361.6 60.6,361.6 61.2,361.5 61.8,361.5 62.4,361.5 63.0,361.5 63.6,361.5 64.2,361.5 64.8,361.5 65.4,361.4 66.0,361.4 66.6,361.4 67.2,361.4 67.7,361.4 68.3,361.4 68.9,361.4 69.4,361.3 70.0,361.3 70.6,361.3 71.1,361.3 71.6,361.3 72.2,361.3 72.7,361.3 73.2,361.2 73.7,361.2 74.2,361.2 74.7,361.2 75.2,361.2 75.6,361.2 76.1,361.2 76.5,361.1 77.0,361.1 77.4,361.1 77.8,361.1 78.2,361.1 78.6,361.1 79.0,361.0 79.3,361.0 79.7,361.0 80.0,361.0 81.1,360.9 82.0,360.9 82.9,360.8 83.7,360.8 84.4,360.7 85.0,360.7 85.6,360.6 86.1,360.6 86.6,360.5 87.0,360.5 87.4,360.4 87.8,360.3 88.1,360.3 88.4,360.2 88.7,360.2 89.0,360.1 89.3,360.0 89.6,360.0 89.9,359.9 90.3,359.8 90.7,359.7 91.1,359.7 91.5,359.6 92.0,359.5 92.5,359.4 93.0,359.3 93.4,359.3 93.9,359.2 94.4,359.1 94.9,359.0 95.3,358.9 95.8,358.8 96.3,358.7 96.8,358.7 97.3,358.6 97.8,358.5 98.2,358.4 98.7,358.3 99.2,358.2 99.7,358.1 100.2,358.0 100.7,357.9 101.3,357.8 101.8,357.7 102.3,357.6 102.8,357.4 103.4,357.3 103.9,357.2 104.4,357.1 105.0,357.0 105.5,356.9 105.9,356.8 106.4,356.7 106.9,356.7 107.4,356.6 107.9,356.5 108.5,356.5 109.0,356.4 109.5,356.3 110.1,356.3 110.6,356.2 111.2,356.2 111.7,356.1 112.3,356.0 112.8,356.0 113.4,355.9 113.9,355.8 114.5,355.7 115.0,355.6 115.5,355.5 116.0,355.4 116.6,355.3 117.1,355.2 117.6,355.0 118.0,354.9 118.5,354.7 119.0,354.6 119.4,354.4 119.8,354.2 120.2,354.0 120.6,353.7 121.0,353.5 121.8,352.9 122.5,352.2 123.1,351.5 123.7,350.8 124.2,350.0 124.7,349.1 125.2,348.2 125.6,347.3 126.0,346.3 126.4,345.3 126.8,344.3 127.2,343.2 127.6,342.1 128.0,341.0 128.6,339.4 129.1,337.7 129.6,336.0 130.1,334.3 130.6,332.4 131.1,330.5 131.5,328.5 132.0,326.4 132.5,324.3 133.0,322.0 133.5,319.6 134.1,316.9 134.6,314.0 135.1,311.0 135.7,308.0 136.2,305.0 136.7,302.2 137.3,299.5 137.8,297.1 138.3,295.0 138.8,292.9 139.4,291.0 139.9,289.3 140.4,287.8 140.9,286.4 141.5,285.4 142.0,284.6 142.5,284.1 143.0,283.9 143.5,284.1 144.0,284.6 144.5,285.4 145.0,286.4 145.5,287.8 146.0,289.3 146.5,291.0 147.1,292.9 147.7,295.0 148.2,296.7 148.7,298.7 149.2,300.8 149.7,303.2 150.3,305.6 150.8,308.1 151.4,310.6 151.9,313.1 152.5,315.5 153.0,317.8 153.5,320.0 154.0,322.0 154.5,324.2 155.1,326.2 155.6,328.2 156.0,330.1 156.5,331.8 157.0,333.6 157.5,335.2 158.0,336.8 158.5,338.4 159.0,340.0 159.5,341.3 159.9,342.6 160.3,343.9 160.8,345.1 161.2,346.3 161.7,347.5 162.2,348.7 162.7,349.8 163.2,350.8 163.8,351.8 164.4,352.7 165.0,353.5 165.4,354.0 165.8,354.4 166.3,354.8 166.7,355.2 167.2,355.5 167.7,355.8 168.2,356.2 168.7,356.4 169.2,356.7 169.7,357.0 170.2,357.2 170.7,357.4 171.3,357.7 171.8,357.9 172.3,358.1 172.9,358.3 173.4,358.4 173.9,358.6 174.5,358.8 175.0,359.0 175.5,359.2 176.0,359.3 176.5,359.5 177.1,359.6 177.7,359.7 178.2,359.9 178.8,360.0 179.4,360.1 180.0,360.2 180.6,360.3 181.1,360.3 181.7,360.4 182.2,360.5 182.8,360.6 183.3,360.6 183.8,360.7 184.2,360.8 184.7,360.8 185.1,360.9 185.4,360.9 185.7,361.0 186.0,361.0" fill="none" stroke="#ff8a1e" stroke-width="1.2" stroke-linejoin="round" />
</g>
<g clip-path="url(#ce)">
<polyline points="39.0,448.8 39.3,448.8 39.5,448.8 39.8,448.8 40.1,448.8 40.4,448.8 40.7,448.8 41.0,448.8 41.4,448.8 41.7,448.8 42.1,448.8 42.5,448.7 42.9,448.7 43.2,448.7 43.6,448.7 44.1,448.7 44.5,448.7 44.9,448.7 45.3,448.7 45.8,448.7 46.2,448.7 46.7,448.7 47.2,448.7 47.7,448.7 48.1,448.7 48.6,448.7 49.1,448.7 49.6,448.7 50.2,448.7 50.7,448.7 51.2,448.7 51.7,448.7 52.3,448.7 52.8,448.6 53.4,448.6 53.9,448.6 54.5,448.6 55.0,448.6 55.6,448.6 56.2,448.6 56.8,448.6 57.3,448.6 57.9,448.6 58.5,448.6 59.1,448.6 59.7,448.6 60.3,448.6 60.9,448.6 61.5,448.6 62.1,448.6 62.7,448.5 63.2,448.5 63.9,448.5 64.5,448.5 65.1,448.5 65.7,448.5 66.3,448.5 66.9,448.5 67.5,448.5 68.1,448.5 68.7,448.5 69.3,448.5 69.9,448.4 70.5,448.4 71.1,448.4 71.6,448.4 72.2,448.4 72.8,448.4 73.4,448.4 74.0,448.4 74.6,448.4 75.1,448.3 75.7,448.3 76.3,448.3 76.8,448.3 77.4,448.3 78.0,448.3 78.5,448.3 79.1,448.2 79.6,448.2 80.1,448.2 80.7,448.2 81.2,448.2 81.7,448.2 82.2,448.2 82.7,448.1 83.2,448.1 83.7,448.1 84.2,448.1 84.6,448.1 85.1,448.1 85.6,448.0 86.0,448.0 86.5,448.0 86.9,448.0 87.3,448.0 87.7,447.9 88.1,447.9 88.5,447.9 88.9,447.9 89.3,447.8 89.6,447.8 90.0,447.8 90.9,447.7 91.7,447.7 92.5,447.6 93.3,447.5 94.1,447.5 94.8,447.4 95.5,447.3 96.1,447.3 96.8,447.2 97.4,447.1 98.0,447.0 98.6,447.0 99.2,446.9 99.7,446.8 100.2,446.7 100.7,446.6 101.2,446.5 101.7,446.5 102.1,446.4 102.6,446.3 103.0,446.2 103.4,446.1 103.8,446.0 104.2,445.9 104.6,445.8 105.0,445.7 105.3,445.6 105.7,445.5 106.1,445.4 106.4,445.2 106.8,445.1 107.1,445.0 107.5,444.9 107.8,444.8 108.2,444.6 108.5,444.5 108.9,444.4 109.3,444.3 109.6,444.1 110.0,444.0 110.7,443.7 111.4,443.5 112.0,443.2 112.6,443.0 113.2,442.8 113.7,442.5 114.2,442.3 114.7,442.0 115.2,441.7 115.6,441.4 116.1,441.1 116.5,440.8 116.9,440.5 117.3,440.1 117.7,439.7 118.2,439.2 118.6,438.7 119.0,438.2 119.5,437.6 120.0,437.0 120.5,436.3 121.0,435.6 121.5,434.9 122.1,434.1 122.6,433.3 123.1,432.4 123.7,431.5 124.2,430.6 124.7,429.7 125.2,428.7 125.8,427.7 126.3,426.7 126.8,425.6 127.3,424.6 127.8,423.5 128.3,422.4 128.7,421.3 129.2,420.2 129.6,419.1 130.0,418.0 130.6,416.0 131.2,414.0 131.8,411.8 132.3,409.5 132.8,407.2 133.3,404.8 133.7,402.5 134.2,400.2 134.6,398.0 135.1,395.9 135.5,393.9 136.0,392.0 136.5,390.1 137.1,388.1 137.6,386.1 138.2,384.2 138.7,382.4 139.3,380.8 139.8,379.3 140.3,378.0 140.8,376.9 141.3,376.1 141.7,375.6 142.4,375.5 143.0,376.2 143.5,377.6 144.0,379.6 144.5,382.1 145.0,385.0 145.5,388.0 146.0,391.8 146.5,395.9 147.1,400.3 147.6,404.6 148.1,408.6 148.7,412.0 149.2,414.6 149.7,416.9 150.1,419.0 150.6,420.9 151.2,422.8 151.7,424.5 152.3,426.3 153.0,428.0 153.4,429.0 153.8,430.0 154.2,430.9 154.6,431.9 155.0,432.8 155.4,433.7 155.8,434.6 156.3,435.4 156.8,436.2 157.3,437.1 157.9,437.8 158.6,438.6 159.2,439.3 160.0,440.0 160.4,440.3 160.8,440.6 161.2,440.9 161.6,441.2 162.1,441.5 162.6,441.8 163.0,442.1 163.5,442.4 164.0,442.7 164.6,442.9 165.1,443.2 165.6,443.4 166.2,443.7 166.7,443.9 167.2,444.2 167.8,444.4 168.4,444.7 168.9,444.9 169.5,445.1 170.0,445.3 170.5,445.5 171.1,445.7 171.6,445.9 172.1,446.1 172.6,446.2 173.1,446.4 173.6,446.6 174.1,446.7 174.6,446.9 175.0,447.0 175.6,447.2 176.2,447.3 176.8,447.4 177.4,447.6 178.0,447.7 178.6,447.7 179.2,447.8 179.8,447.8 180.3,447.9 180.9,447.9 181.4,447.9 182.0,448.0 182.5,448.0 183.0,448.0 183.5,448.0 183.9,448.0 184.3,448.0 184.7,448.0 185.1,448.0 185.4,448.0 185.7,448.0 186.0,448.0" fill="none" stroke="#ff8a1e" stroke-width="1.2" stroke-linejoin="round" />
<polyline points="39.0,448.5 39.3,448.5 39.5,448.5 39.9,448.5 40.2,448.5 40.5,448.5 40.9,448.5 41.3,448.5 41.7,448.5 42.1,448.5 42.6,448.5 43.0,448.5 43.5,448.5 44.0,448.5 44.5,448.5 45.0,448.5 45.5,448.5 46.0,448.5 46.6,448.5 47.1,448.5 47.7,448.5 48.2,448.5 48.8,448.5 49.4,448.4 50.0,448.4 50.5,448.4 51.1,448.4 51.7,448.4 52.3,448.4 52.9,448.3 53.5,448.3 54.0,448.3 54.6,448.2 55.2,448.2 55.8,448.1 56.3,448.1 56.9,448.0 57.4,447.9 58.0,447.9 58.5,447.8 59.0,447.7 59.5,447.6 60.0,447.5 60.5,447.4 61.0,447.3 61.5,447.2 62.0,447.1 62.5,447.0 63.1,446.9 63.6,446.8 64.1,446.6 64.6,446.5 65.1,446.4 65.6,446.3 66.1,446.2 66.6,446.1 67.1,445.9 67.6,445.8 68.1,445.7 68.6,445.5 69.1,445.4 69.6,445.2 70.1,445.1 70.6,444.9 71.1,444.7 71.6,444.5 72.0,444.4 72.5,444.2 73.0,444.0 73.5,443.7 74.0,443.5 74.5,443.3 75.0,443.0 75.5,442.8 76.0,442.5 76.5,442.3 77.0,442.0 77.5,441.7 78.0,441.4 78.5,441.0 79.0,440.7 79.5,440.4 80.0,440.0 80.5,439.6 81.0,439.2 81.5,438.8 82.0,438.4 82.5,437.9 83.0,437.5 83.6,437.0 84.1,436.5 84.6,436.0 85.1,435.4 85.6,434.9 86.2,434.4 86.7,433.8 87.2,433.3 87.7,432.7 88.2,432.1 88.8,431.5 89.3,430.9 89.8,430.3 90.3,429.7 90.8,429.1 91.3,428.5 91.9,427.9 92.4,427.3 92.9,426.7 93.4,426.1 93.9,425.4 94.4,424.8 94.9,424.2 95.4,423.6 95.8,423.0 96.3,422.4 96.8,421.9 97.3,421.3 97.7,420.7 98.2,420.1 98.7,419.6 99.1,419.0 99.6,418.5 100.0,418.0 100.6,417.3 101.2,416.6 101.7,415.9 102.3,415.2 102.9,414.5 103.4,413.8 104.0,413.1 104.6,412.4 105.1,411.7 105.7,411.0 106.2,410.3 106.7,409.6 107.3,408.9 107.8,408.2 108.3,407.5 108.8,406.8 109.3,406.2 109.8,405.5 110.3,404.9 110.8,404.3 111.2,403.6 111.7,403.1 112.2,402.5 112.6,401.9 113.0,401.4 113.4,400.9 113.8,400.4 114.2,399.9 114.6,399.4 115.0,399.0 115.7,398.2 116.4,397.4 117.0,396.8 117.6,396.2 118.1,395.7 118.5,395.3 118.9,394.9 119.4,394.6 119.8,394.3 120.2,394.1 120.6,393.8 121.0,393.5 121.5,393.3 122.0,393.0 122.5,392.7 123.0,392.5 123.6,392.2 124.1,392.0 124.7,391.8 125.2,391.6 125.8,391.4 126.3,391.2 126.9,391.1 127.4,391.0 128.0,390.9 128.5,390.9 129.0,390.8 129.5,390.9 129.9,390.9 130.5,391.0 131.1,391.0 131.6,391.0 132.1,391.1 132.5,391.3 133.0,391.6 133.4,392.0 133.9,392.7 134.4,393.7 135.0,395.0 135.5,396.3 135.9,397.7 136.4,399.4 136.8,401.3 137.3,403.3 137.8,405.4 138.3,407.6 138.8,409.8 139.3,412.0 139.9,414.1 140.4,416.2 141.1,418.2 141.7,420.0 142.1,421.1 142.5,422.2 143.0,423.2 143.4,424.3 143.9,425.4 144.4,426.5 144.8,427.5 145.3,428.6 145.8,429.6 146.3,430.6 146.8,431.6 147.3,432.6 147.9,433.6 148.4,434.5 148.9,435.4 149.5,436.2 150.0,437.1 150.5,437.9 151.1,438.6 151.6,439.3 152.2,440.0 152.7,440.5 153.1,441.0 153.6,441.5 154.0,441.9 154.5,442.3 154.9,442.7 155.4,443.1 155.8,443.4 156.3,443.7 156.8,444.0 157.2,444.3 157.7,444.5 158.2,444.8 158.7,445.0 159.2,445.2 159.7,445.4 160.2,445.6 160.8,445.8 161.3,446.0 161.9,446.2 162.5,446.3 163.1,446.5 163.7,446.7 164.3,446.8 165.0,447.0 165.4,447.1 165.8,447.2 166.3,447.3 166.8,447.4 167.3,447.4 167.8,447.5 168.3,447.6 168.8,447.7 169.3,447.7 169.9,447.8 170.4,447.8 171.0,447.9 171.6,447.9 172.2,448.0 172.8,448.0 173.3,448.0 173.9,448.1 174.5,448.1 175.1,448.1 175.7,448.2 176.3,448.2 176.9,448.2 177.5,448.2 178.0,448.3 178.6,448.3 179.2,448.3 179.7,448.3 180.3,448.3 180.8,448.3 181.3,448.3 181.8,448.4 182.3,448.4 182.7,448.4 183.2,448.4 183.6,448.4 184.0,448.4 184.4,448.4 184.8,448.4 185.1,448.5 185.4,448.5 185.7,448.5 186.0,448.5" fill="none" stroke="#ffb800" stroke-width="1.3" stroke-linejoin="round" />
<polyline points="39.0,447.6 39.2,447.4 39.4,448.6 39.7,447.6 40.0,447.1 40.2,448.6 40.5,447.6 40.9,447.9 41.2,447.2 41.5,446.8 41.9,447.0 42.3,447.8 42.7,446.7 43.1,447.8 43.5,446.6 43.9,447.6 44.3,446.2 44.7,446.5 45.2,445.9 45.6,445.8 46.1,446.4 46.5,446.0 47.0,446.2 47.4,445.5 47.9,445.5 48.4,445.4 48.8,446.4 49.3,444.8 49.8,445.2 50.2,445.9 50.7,445.3 51.2,444.6 51.6,445.8 52.1,444.0 52.5,444.0 52.9,443.6 53.4,444.2 53.8,444.9 54.2,443.7 54.6,443.6 55.0,444.3 55.4,442.9 55.8,442.6 56.3,443.6 56.7,442.4 57.1,443.1 57.5,442.2 57.9,442.8 58.3,443.1 58.7,442.2 59.1,441.7 59.5,442.2 59.9,442.1 60.3,440.8 60.7,440.9 61.2,441.0 61.6,441.0 62.0,440.4 62.4,440.9 62.8,440.0 63.2,441.0 63.6,439.8 64.0,439.3 64.4,438.9 64.8,438.8 65.2,438.7 65.6,439.7 66.0,438.7 66.4,438.5 66.8,439.3 67.2,439.1 67.6,438.5 68.0,437.4 68.4,437.4 68.8,437.5 69.2,436.8 69.6,436.8 70.0,436.4 70.4,436.2 70.8,437.0 71.2,436.5 71.6,436.1 72.0,435.9 72.4,436.0 72.8,436.0 73.2,434.6 73.6,435.9 74.1,435.1 74.5,434.7 74.9,435.6 75.3,435.1 75.7,434.2 76.1,433.4 76.5,434.0 76.9,433.8 77.3,433.5 77.7,432.8 78.1,433.5 78.5,432.8 78.9,433.5 79.3,432.9 79.7,432.3 80.1,433.0 80.5,432.2 80.9,431.3 81.4,431.5 81.8,430.9 82.2,431.3 82.6,432.0 83.0,431.8 83.4,431.1 83.8,430.0 84.2,429.9 84.6,429.6 85.0,429.7 85.4,429.9 85.8,428.5 86.2,429.1 86.6,428.8 87.0,428.9 87.4,429.0 87.8,427.9 88.2,428.0 88.6,427.1 89.1,427.2 89.5,427.2 89.9,425.9 90.3,426.4 90.7,426.1 91.1,425.3 91.5,425.1 91.9,425.8 92.3,424.7 92.7,424.1 93.1,424.0 93.5,424.1 93.9,423.5 94.3,423.1 94.7,422.8 95.1,422.3 95.5,422.5 95.9,422.3 96.4,421.1 96.8,421.7 97.2,420.9 97.6,421.8 98.0,421.4 98.4,419.6 98.8,420.3 99.2,419.4 99.6,418.6 100.0,419.7 100.4,419.4 100.8,418.9 101.2,418.3 101.7,418.5 102.1,417.4 102.5,417.3 103.0,416.9 103.4,416.9 103.9,416.5 104.3,415.1 104.7,414.6 105.2,414.8 105.6,414.5 106.1,413.7 106.5,414.3 107.0,413.9 107.4,413.2 107.8,412.5 108.3,412.5 108.7,411.2 109.1,411.9 109.6,410.3 110.0,411.4 110.4,410.5 110.8,409.5 111.2,409.0 111.6,409.5 112.0,408.9 112.4,409.0 112.7,407.6 113.1,408.7 113.4,407.6 113.8,407.4 114.1,407.6 114.4,407.2 114.7,406.6 115.0,406.1 115.7,405.9 116.3,404.7 116.8,404.7 117.3,405.4 117.7,403.9 118.1,403.6 118.4,404.7 118.8,403.7 119.1,403.8 119.4,403.8 119.7,403.9 120.0,403.1 120.3,403.7 120.6,402.2 121.0,403.6 121.5,402.5 121.9,402.9 122.4,402.2 122.8,402.9 123.2,402.1 123.7,402.5 124.1,401.9 124.5,402.8 124.9,402.7 125.3,401.6 125.7,402.6 126.1,403.0 126.6,401.7 127.0,401.5 127.4,402.7 127.8,402.7 128.2,401.1 128.6,402.3 129.1,402.7 129.5,401.8 129.9,403.3 130.4,403.1 130.8,404.8 131.1,405.2 131.5,406.1 131.8,406.7 132.1,408.9 132.5,410.3 132.9,410.9 133.3,411.9 133.7,413.4 134.1,415.2 134.6,418.0 135.1,419.0 135.7,420.7 136.0,421.2 136.3,420.9 136.7,422.1 137.0,424.0 137.4,424.6 137.7,425.7 138.1,426.3 138.5,427.0 138.9,428.0 139.3,429.1 139.7,429.1 140.1,429.3 140.5,430.7 140.9,431.0 141.4,432.4 141.8,433.8 142.3,434.0 142.7,434.8 143.2,435.3 143.6,436.5 144.1,437.5 144.6,438.3 145.0,439.6 145.5,438.7 146.0,439.6 146.3,439.6 146.7,441.5 147.0,441.3 147.4,441.7 147.7,442.3 148.0,441.1 148.4,443.0 148.7,442.3 149.0,443.1 149.4,442.9 149.7,443.8 150.1,443.2 150.4,443.4 150.8,443.5 151.1,444.6 151.5,444.3 151.8,443.9 152.2,444.5 152.6,445.0 153.0,444.8 153.4,445.4 153.8,446.0 154.2,445.8 154.6,446.2 155.0,445.4 155.5,446.6 155.9,446.8 156.4,446.2 156.8,445.4 157.3,445.7 157.8,447.0 158.4,447.3 158.9,447.2 159.4,446.9 160.0,447.1 160.3,446.4 160.6,447.3 161.0,448.1 161.3,446.7 161.7,447.5 162.0,448.0 162.4,447.7 162.8,447.2 163.2,447.0 163.6,448.0 164.0,448.4 164.4,448.3 164.8,447.5 165.3,448.2 165.7,448.3 166.2,447.6 166.6,448.3 167.1,447.6 167.5,447.3 168.0,447.0 168.4,448.3 168.9,448.4 169.4,447.2 169.8,447.2 170.3,447.7 170.8,447.5 171.3,448.5 171.7,447.6 172.2,448.3 172.7,448.2 173.2,447.9 173.6,448.8 174.1,448.1 174.6,448.2 175.1,448.5 175.5,448.1 176.0,447.7 176.4,449.1 176.9,448.7 177.3,448.4 177.8,448.3 178.2,448.5 178.7,447.9 179.1,447.6 179.5,448.4 179.9,449.1 180.3,447.6 180.8,449.2 181.1,448.1 181.5,449.3 181.9,448.9 182.3,448.0 182.6,447.9 183.0,449.1 183.3,449.3 183.6,449.0 184.0,448.6 184.3,448.5 184.5,448.9 184.8,449.0 185.1,449.1 185.3,448.1 185.6,449.1 185.8,449.3 186.0,448.6" fill="none" stroke="#ff6cff" stroke-width="2.3" stroke-linejoin="round" />
<polyline points="39.0,446.3 39.2,446.6 39.4,447.5 39.7,447.0 40.0,447.9 40.2,447.3 40.5,447.3 40.9,446.1 41.2,446.8 41.5,447.1 41.9,447.4 42.3,447.3 42.7,445.9 43.1,446.3 43.5,447.2 43.9,445.3 44.3,445.1 44.7,445.2 45.2,446.2 45.6,445.3 46.1,446.0 46.5,446.1 47.0,445.9 47.4,444.3 47.9,445.5 48.4,445.6 48.8,445.2 49.3,445.4 49.8,445.2 50.2,444.7 50.7,445.1 51.2,444.3 51.6,443.3 52.1,443.5 52.5,444.7 52.9,443.4 53.4,443.5 53.8,444.2 54.2,443.7 54.6,443.8 55.0,443.0 55.4,443.0 55.8,442.0 56.3,442.1 56.7,441.9 57.1,442.5 57.5,442.3 57.9,441.3 58.3,442.3 58.7,441.0 59.1,441.5 59.5,440.6 59.9,441.3 60.3,440.5 60.7,442.0 61.2,440.6 61.6,441.4 62.0,440.5 62.4,440.1 62.8,441.0 63.2,439.7 63.6,440.0 64.0,440.1 64.4,440.7 64.8,439.9 65.2,438.5 65.6,439.1 66.0,440.0 66.4,439.6 66.8,438.5 67.2,437.9 67.6,438.0 68.0,438.8 68.4,437.5 68.8,438.8 69.2,437.4 69.6,438.1 70.0,438.0 70.4,436.9 70.8,437.4 71.2,437.5 71.6,436.6 72.0,437.0 72.4,437.1 72.8,437.6 73.2,436.2 73.6,435.8 74.1,436.4 74.5,436.4 74.9,436.1 75.3,436.9 75.7,435.3 76.1,435.8 76.5,435.6 76.9,435.0 77.3,435.4 77.7,435.3 78.1,435.0 78.5,435.7 78.9,436.0 79.3,435.8 79.7,434.2 80.1,434.4 80.5,435.4 80.9,433.6 81.4,433.5 81.8,433.3 82.2,434.9 82.6,433.9 83.0,433.6 83.4,432.8 83.8,434.2 84.2,434.3 84.6,433.5 85.0,433.8 85.4,433.0 85.8,432.3 86.2,431.9 86.6,432.0 87.0,431.5 87.4,431.8 87.8,431.0 88.2,430.8 88.6,432.3 89.1,432.1 89.5,431.8 89.9,430.7 90.3,430.8 90.7,430.8 91.1,431.1 91.5,429.9 91.9,430.2 92.3,430.1 92.7,430.5 93.1,429.3 93.5,428.4 93.9,429.0 94.3,429.8 94.7,428.2 95.1,428.8 95.5,427.6 95.9,427.7 96.4,428.2 96.8,426.9 97.2,427.4 97.6,427.4 98.0,426.8 98.4,427.3 98.8,427.2 99.2,425.8 99.6,426.5 100.0,426.2 100.4,425.6 100.8,425.3 101.2,424.9 101.7,425.0 102.1,424.5 102.5,423.3 102.9,423.7 103.4,423.5 103.8,422.6 104.2,423.1 104.7,421.5 105.1,421.6 105.5,421.3 106.0,420.9 106.4,419.7 106.8,420.2 107.3,418.7 107.7,419.1 108.1,418.6 108.5,418.7 109.0,418.6 109.4,418.4 109.8,416.5 110.2,417.5 110.6,416.2 111.0,415.9 111.4,414.6 111.8,415.9 112.2,414.3 112.6,414.1 112.9,413.8 113.3,413.4 113.7,413.2 114.0,412.9 114.3,413.1 114.7,412.5 115.0,413.1 115.5,413.1 116.1,412.8 116.6,411.4 117.1,411.7 117.6,411.6 118.0,411.3 118.5,410.5 118.9,409.9 119.3,410.9 119.7,410.6 120.1,409.8 120.5,410.4 120.8,409.1 121.2,410.5 121.6,410.6 121.9,410.8 122.2,409.0 122.6,410.1 122.9,410.3 123.2,409.0 123.5,409.9 124.1,409.1 124.6,409.1 125.0,408.7 125.4,409.3 125.8,410.5 126.1,410.1 126.5,410.8 126.8,411.4 127.2,410.2 127.6,412.1 128.0,412.8 128.4,413.0 128.8,413.2 129.1,413.8 129.5,415.3 129.9,416.3 130.2,417.2 130.6,419.2 131.0,420.4 131.5,420.9 131.9,421.9 132.5,423.8 133.0,425.4 133.3,426.0 133.7,426.7 134.0,427.9 134.4,428.4 134.8,428.5 135.2,429.9 135.6,430.5 136.0,430.7 136.4,431.1 136.8,432.3 137.2,433.8 137.7,434.6 138.1,434.5 138.5,435.7 139.0,435.5 139.4,437.2 139.9,437.6 140.3,438.8 140.8,439.6 141.2,438.6 141.7,440.9 142.1,439.8 142.4,441.7 142.7,442.1 143.0,440.9 143.3,441.4 143.5,441.4 143.8,443.3 144.1,443.2 144.3,443.9 144.6,443.8 144.8,443.2 145.1,444.2 145.4,443.6 145.7,443.7 146.1,444.1 146.5,444.9 146.9,444.3 147.4,444.9 147.9,445.1 148.4,445.8 149.0,445.3 149.7,445.3 150.4,445.8 151.1,445.8 152.0,446.5 152.3,445.3 152.5,445.5 152.8,445.2 153.1,446.0 153.4,446.9 153.8,446.5 154.1,446.6 154.4,447.3 154.8,447.1 155.1,446.1 155.5,446.0 155.9,446.6 156.2,446.1 156.6,446.8 157.0,445.8 157.4,446.5 157.8,447.2 158.2,446.3 158.7,446.1 159.1,447.4 159.5,446.3 160.0,447.8 160.4,447.2 160.8,447.8 161.3,447.1 161.8,447.1 162.2,446.7 162.7,446.3 163.1,448.1 163.6,446.7 164.1,446.4 164.6,448.2 165.0,447.4 165.5,447.5 166.0,448.2 166.5,447.9 167.0,447.0 167.5,447.1 167.9,447.8 168.4,447.9 168.9,447.0 169.4,447.1 169.9,447.7 170.4,446.8 170.9,448.3 171.3,448.0 171.8,447.0 172.3,447.9 172.8,448.0 173.2,447.0 173.7,447.7 174.2,448.5 174.6,447.8 175.1,448.4 175.6,447.4 176.0,449.0 176.5,448.3 176.9,448.1 177.3,447.1 177.8,447.8 178.2,447.1 178.6,448.0 179.0,447.5 179.4,447.6 179.8,447.8 180.2,447.5 180.6,447.8 181.0,448.2 181.4,447.5 181.7,448.4 182.1,449.2 182.4,448.7 182.8,449.2 183.1,447.5 183.4,448.7 183.7,447.8 184.0,449.2 184.3,448.4 184.6,448.9 184.8,449.0 185.1,447.7 185.3,447.7 185.6,449.1 185.8,449.1 186.0,448.4" fill="none" stroke="#1faa1f" stroke-width="2.5" stroke-linejoin="round" />
<polyline points="39.0,447.4 39.2,447.4 39.4,448.3 39.7,448.1 40.0,447.6 40.2,447.9 40.5,448.0 40.9,447.0 41.2,447.8 41.5,448.0 41.9,447.8 42.3,447.8 42.7,447.1 43.1,447.2 43.5,446.6 43.9,447.3 44.3,447.0 44.7,446.6 45.2,446.1 45.6,446.2 46.1,446.4 46.5,446.9 47.0,446.2 47.4,446.6 47.9,445.7 48.4,445.7 48.8,445.5 49.3,445.5 49.8,446.0 50.2,445.4 50.7,445.2 51.2,445.6 51.6,445.2 52.1,445.6 52.5,445.3 52.9,445.4 53.4,444.8 53.8,444.6 54.2,444.6 54.6,445.2 55.0,445.0 55.4,444.5 55.8,444.3 56.3,443.7 56.7,444.6 57.1,444.2 57.5,443.8 57.9,443.4 58.3,443.7 58.7,443.9 59.1,443.3 59.5,443.2 59.9,443.4 60.3,443.3 60.7,442.6 61.2,442.6 61.6,442.8 62.0,443.1 62.4,442.6 62.8,442.1 63.2,442.3 63.6,442.1 64.0,442.7 64.4,442.0 64.8,442.8 65.2,441.9 65.6,441.6 66.0,441.4 66.4,441.8 66.8,441.8 67.2,442.0 67.6,441.8 68.0,441.5 68.4,440.8 68.8,441.8 69.2,440.9 69.6,440.8 70.0,440.6 70.4,441.0 70.8,441.0 71.2,440.5 71.6,440.3 72.0,440.0 72.4,440.6 72.8,440.6 73.2,439.8 73.6,439.9 74.1,440.4 74.5,440.3 74.9,439.5 75.3,440.5 75.7,440.1 76.1,440.0 76.5,439.4 76.9,440.1 77.3,439.4 77.7,439.6 78.1,439.9 78.5,439.6 78.9,438.7 79.3,438.6 79.7,438.6 80.1,438.4 80.5,439.2 80.9,438.7 81.4,438.5 81.8,438.3 82.2,438.4 82.6,438.2 83.0,438.4 83.4,438.0 83.8,438.4 84.2,438.3 84.6,438.2 85.0,437.9 85.4,437.1 85.8,437.3 86.2,437.6 86.6,436.9 87.0,437.0 87.4,436.5 87.8,437.1 88.2,436.3 88.6,436.2 89.1,436.6 89.5,435.6 89.9,435.4 90.3,435.7 90.7,435.6 91.1,435.1 91.5,435.2 91.9,435.5 92.3,435.5 92.7,435.4 93.1,435.1 93.5,434.1 93.9,434.3 94.3,434.2 94.7,433.5 95.1,434.3 95.5,433.5 95.9,434.0 96.4,433.7 96.8,433.0 97.2,432.9 97.6,432.9 98.0,432.4 98.4,432.1 98.8,432.4 99.2,432.0 99.6,431.9 100.0,432.3 100.4,432.1 100.8,431.6 101.2,430.9 101.7,431.6 102.1,430.9 102.5,430.5 103.0,431.1 103.4,431.1 103.8,430.1 104.3,430.3 104.7,430.5 105.2,429.8 105.6,429.4 106.0,429.0 106.5,428.7 106.9,429.5 107.4,429.2 107.8,428.3 108.2,428.6 108.7,427.9 109.1,428.4 109.5,427.8 109.9,428.0 110.3,427.6 110.7,426.9 111.1,427.3 111.5,427.2 111.9,426.3 112.3,426.2 112.7,426.3 113.0,426.7 113.4,426.9 113.7,426.1 114.1,426.5 114.4,426.2 114.7,425.5 115.0,425.6 115.6,425.9 116.2,425.3 116.8,425.2 117.3,425.3 117.8,424.5 118.2,424.8 118.6,424.8 119.0,424.8 119.3,424.9 119.7,424.4 120.0,424.6 120.3,424.6 120.6,424.2 121.0,425.1 121.3,425.3 121.7,424.9 122.2,424.7 122.6,424.8 123.0,424.9 123.4,424.9 123.8,424.9 124.2,425.8 124.6,425.3 125.0,425.2 125.4,426.0 125.8,425.4 126.2,426.1 126.6,426.7 127.0,427.4 127.4,427.1 127.7,427.2 128.1,428.8 128.4,428.1 128.8,429.1 129.1,429.7 129.5,430.8 129.9,430.6 130.2,431.1 130.6,431.7 131.1,432.4 131.5,432.8 132.0,434.3 132.5,434.4 133.0,435.3 133.3,435.1 133.6,435.9 134.0,436.6 134.3,436.2 134.6,437.4 135.0,437.1 135.3,438.0 135.7,438.7 136.1,438.5 136.4,439.5 136.8,439.3 137.2,439.8 137.6,440.8 138.0,440.9 138.4,440.6 138.8,441.2 139.2,442.0 139.7,442.2 140.1,442.2 140.6,443.5 141.0,443.3 141.5,444.3 142.0,444.0 142.5,444.1 143.0,444.6 143.5,445.4 143.8,445.6 144.2,445.4 144.5,445.1 144.8,445.6 145.2,445.4 145.5,445.7 145.9,445.4 146.2,445.5 146.5,446.7 146.9,446.6 147.2,446.1 147.6,446.6 148.0,446.0 148.3,447.0 148.7,446.9 149.1,447.1 149.4,446.8 149.8,446.9 150.2,447.4 150.6,446.8 151.0,446.6 151.4,446.7 151.8,447.7 152.2,447.0 152.6,446.8 153.0,447.5 153.4,447.0 153.9,447.4 154.3,447.8 154.7,447.2 155.2,447.5 155.6,448.2 156.1,448.1 156.6,448.2 157.0,447.2 157.5,448.4 158.0,447.9 158.5,447.5 159.0,448.5 159.5,447.5 160.0,448.6 160.3,447.5 160.7,447.5 161.0,448.0 161.4,448.2 161.8,448.2 162.1,448.5 162.5,447.7 162.9,448.5 163.3,448.0 163.7,448.8 164.2,448.4 164.6,448.5 165.0,447.8 165.4,448.8 165.9,448.0 166.3,448.0 166.8,448.2 167.2,448.7 167.7,448.1 168.2,448.3 168.6,448.5 169.1,448.1 169.5,447.9 170.0,448.3 170.5,448.7 171.0,448.6 171.4,448.1 171.9,448.6 172.4,448.8 172.9,448.7 173.3,448.1 173.8,447.9 174.3,449.0 174.7,448.7 175.2,448.2 175.7,448.7 176.1,448.5 176.6,448.6 177.0,448.3 177.5,448.7 177.9,448.3 178.3,448.3 178.8,448.3 179.2,448.7 179.6,448.9 180.0,448.2 180.4,448.0 180.8,448.2 181.2,448.8 181.6,448.3 182.0,447.9 182.3,448.9 182.7,448.4 183.0,448.0 183.3,448.8 183.7,448.5 184.0,448.9 184.3,448.9 184.6,448.9 184.8,448.9 185.1,448.3 185.3,448.9 185.6,448.5 185.8,448.7 186.0,448.2" fill="none" stroke="#3f9cff" stroke-width="2.4" stroke-linejoin="round" />
<polyline points="39.0,449.1 39.2,448.5 39.4,449.3 39.7,448.5 40.0,448.9 40.2,449.1 40.5,449.0 40.9,449.0 41.2,448.5 41.5,448.1 41.9,448.9 42.3,448.2 42.7,448.7 43.1,448.1 43.5,448.1 43.9,448.1 44.3,448.0 44.7,448.2 45.2,447.9 45.6,447.4 46.1,447.7 46.5,447.1 47.0,447.8 47.4,447.1 47.9,447.2 48.4,447.3 48.8,447.0 49.3,447.4 49.8,447.2 50.2,446.7 50.7,446.7 51.2,446.9 51.6,446.6 52.1,446.7 52.5,446.3 52.9,446.4 53.4,446.4 53.8,446.6 54.2,446.0 54.6,446.4 55.0,445.7 55.4,445.7 55.8,445.6 56.3,446.2 56.7,445.3 57.1,445.4 57.5,445.6 57.9,445.7 58.3,445.6 58.7,445.0 59.1,445.2 59.5,445.5 59.9,444.9 60.3,444.8 60.7,445.4 61.2,444.5 61.6,444.6 62.0,444.6 62.4,445.2 62.8,444.7 63.2,444.7 63.6,444.7 64.0,445.0 64.4,444.1 64.8,444.2 65.2,444.4 65.6,444.6 66.0,444.0 66.4,444.2 66.8,444.3 67.2,443.8 67.6,444.0 68.0,443.6 68.4,444.4 68.8,443.5 69.2,443.6 69.6,444.0 70.0,443.5 70.4,443.8 70.8,443.5 71.2,444.1 71.6,443.6 72.0,443.4 72.4,443.2 72.8,443.4 73.2,443.7 73.6,443.5 74.1,443.5 74.5,443.2 74.9,443.6 75.3,443.0 75.7,443.1 76.1,443.5 76.5,443.3 76.9,442.9 77.3,443.2 77.7,443.1 78.1,442.6 78.5,442.6 78.9,443.0 79.3,442.5 79.7,442.4 80.1,442.6 80.5,442.1 80.9,442.2 81.4,442.8 81.8,442.0 82.2,442.5 82.6,441.7 83.0,441.9 83.4,442.0 83.8,441.8 84.2,442.3 84.6,442.2 85.0,441.5 85.4,441.3 85.8,441.9 86.2,441.7 86.6,441.4 87.0,440.8 87.4,440.7 87.8,441.2 88.2,441.1 88.6,440.8 89.1,440.6 89.5,440.4 89.9,440.4 90.3,440.3 90.7,440.4 91.1,440.1 91.5,439.9 91.9,439.7 92.3,440.0 92.7,440.2 93.1,439.3 93.5,439.7 93.9,439.5 94.3,439.0 94.7,438.7 95.1,439.3 95.5,438.5 95.9,438.4 96.4,438.2 96.8,438.8 97.2,438.2 97.6,437.7 98.0,437.9 98.4,438.0 98.8,437.8 99.2,437.4 99.6,438.0 100.0,437.7 100.4,437.1 100.8,437.1 101.2,436.9 101.7,436.5 102.1,437.0 102.5,436.5 103.0,436.7 103.4,436.8 103.9,436.1 104.3,435.9 104.7,435.8 105.2,435.8 105.6,435.2 106.1,435.4 106.5,435.2 107.0,434.8 107.4,435.4 107.9,435.1 108.3,434.8 108.7,434.2 109.1,434.7 109.6,434.2 110.0,434.6 110.4,434.2 110.8,433.7 111.2,434.0 111.6,433.7 112.0,433.4 112.4,433.7 112.7,433.1 113.1,432.8 113.4,432.6 113.8,433.1 114.1,432.6 114.4,432.4 114.7,432.2 115.0,432.9 115.7,432.2 116.3,432.6 116.9,432.5 117.3,432.3 117.8,431.6 118.2,432.2 118.5,431.9 118.8,432.0 119.2,432.1 119.5,431.5 119.8,431.5 120.1,432.0 120.5,431.5 120.9,431.3 121.3,431.3 121.7,431.8 122.1,431.6 122.5,432.3 122.9,431.4 123.2,431.9 123.6,432.3 124.0,432.3 124.4,432.6 124.8,432.6 125.2,433.0 125.7,433.3 126.1,433.4 126.5,433.3 127.0,433.4 127.4,433.8 127.7,433.7 128.1,434.0 128.4,434.6 128.7,434.8 129.1,435.1 129.4,435.2 129.8,436.4 130.1,436.1 130.5,436.7 130.9,436.9 131.3,437.5 131.7,438.1 132.2,438.6 132.6,438.7 133.1,439.4 133.7,439.2 134.2,439.6 134.8,439.8 135.1,440.6 135.4,440.0 135.7,440.2 136.0,441.0 136.3,440.6 136.6,440.6 136.9,441.1 137.2,441.4 137.5,441.5 137.8,441.5 138.1,441.8 138.4,441.9 138.8,442.0 139.1,442.5 139.4,442.4 139.8,442.5 140.1,443.4 140.5,443.6 140.8,443.2 141.2,443.5 141.6,443.3 142.0,443.4 142.4,444.0 142.8,444.6 143.3,443.9 143.7,444.4 144.2,444.9 144.7,444.3 145.2,445.0 145.7,444.9 146.3,445.5 146.8,445.7 147.4,445.9 148.0,445.9 148.7,445.3 149.3,446.0 150.0,446.1 150.3,445.8 150.6,445.8 150.9,446.1 151.2,446.1 151.5,446.1 151.9,446.7 152.2,446.0 152.6,446.7 152.9,446.0 153.3,446.6 153.7,446.4 154.0,446.4 154.4,446.5 154.8,446.2 155.2,446.4 155.6,446.6 156.0,446.4 156.4,447.1 156.9,447.0 157.3,447.0 157.7,447.1 158.2,446.6 158.6,446.5 159.0,446.6 159.5,447.4 159.9,447.0 160.4,447.6 160.9,446.9 161.3,447.0 161.8,447.3 162.3,447.6 162.7,447.2 163.2,447.3 163.7,447.2 164.2,447.1 164.6,447.8 165.1,447.8 165.6,447.4 166.1,447.1 166.5,447.9 167.0,447.5 167.5,447.8 168.0,447.5 168.5,447.2 168.9,447.9 169.4,447.3 169.9,448.1 170.4,447.4 170.9,447.6 171.3,447.3 171.8,447.5 172.3,448.0 172.7,447.4 173.2,447.5 173.7,447.4 174.1,447.4 174.6,447.9 175.0,447.7 175.5,448.2 175.9,448.2 176.3,448.0 176.8,448.5 177.2,448.5 177.6,447.9 178.0,448.4 178.4,448.3 178.8,447.8 179.2,448.4 179.6,447.7 180.0,448.4 180.4,448.6 180.8,448.4 181.1,448.4 181.5,448.4 181.8,448.2 182.2,447.9 182.5,448.2 182.8,448.1 183.2,448.6 183.5,448.7 183.8,448.8 184.1,448.2 184.3,448.8 184.6,448.8 184.9,447.9 185.1,448.5 185.3,448.1 185.6,448.1 185.8,448.4 186.0,448.7" fill="none" stroke="#9b5cf0" stroke-width="2.4" stroke-linejoin="round" />
</g>
<rect x="39.1" y="278.6" width="147.6" height="178.09999999999997" fill="none" stroke="#4a4a4a" stroke-width="1.4"/>
<line x1="39.1" y1="368.0" x2="186.7" y2="368.0" stroke="#4a4a4a" stroke-width="1.4" />
<line x1="56.3" y1="368.0" x2="56.3" y2="365.0" stroke="#444" stroke-width="0.9" />
<line x1="56.3" y1="368.0" x2="56.3" y2="371.0" stroke="#444" stroke-width="0.9" />
<line x1="56.3" y1="456.7" x2="56.3" y2="453.7" stroke="#444" stroke-width="0.9" />
<line x1="82.8" y1="368.0" x2="82.8" y2="365.0" stroke="#444" stroke-width="0.9" />
<line x1="82.8" y1="368.0" x2="82.8" y2="371.0" stroke="#444" stroke-width="0.9" />
<line x1="82.8" y1="456.7" x2="82.8" y2="453.7" stroke="#444" stroke-width="0.9" />
<line x1="109.2" y1="368.0" x2="109.2" y2="365.0" stroke="#444" stroke-width="0.9" />
<line x1="109.2" y1="368.0" x2="109.2" y2="371.0" stroke="#444" stroke-width="0.9" />
<line x1="109.2" y1="456.7" x2="109.2" y2="453.7" stroke="#444" stroke-width="0.9" />
<line x1="135.6" y1="368.0" x2="135.6" y2="365.0" stroke="#444" stroke-width="0.9" />
<line x1="135.6" y1="368.0" x2="135.6" y2="371.0" stroke="#444" stroke-width="0.9" />
<line x1="135.6" y1="456.7" x2="135.6" y2="453.7" stroke="#444" stroke-width="0.9" />
<line x1="162.1" y1="368.0" x2="162.1" y2="365.0" stroke="#444" stroke-width="0.9" />
<line x1="162.1" y1="368.0" x2="162.1" y2="371.0" stroke="#444" stroke-width="0.9" />
<line x1="162.1" y1="456.7" x2="162.1" y2="453.7" stroke="#444" stroke-width="0.9" />
<line x1="39.1" y1="285.6" x2="41.9" y2="285.6" stroke="#444" stroke-width="0.9" />
<line x1="39.1" y1="323.8" x2="41.9" y2="323.8" stroke="#444" stroke-width="0.9" />
<line x1="39.1" y1="361.9" x2="41.9" y2="361.9" stroke="#444" stroke-width="0.9" />
<line x1="39.1" y1="389.0" x2="41.9" y2="389.0" stroke="#444" stroke-width="0.9" />
<line x1="39.1" y1="418.7" x2="41.9" y2="418.7" stroke="#444" stroke-width="0.9" />
<line x1="39.1" y1="448.4" x2="41.9" y2="448.4" stroke="#444" stroke-width="0.9" />
<line x1="39.1" y1="304.7" x2="40.9" y2="304.7" stroke="#444" stroke-width="0.8" />
<line x1="39.1" y1="342.8" x2="40.9" y2="342.8" stroke="#444" stroke-width="0.8" />
<line x1="39.1" y1="403.8" x2="40.9" y2="403.8" stroke="#444" stroke-width="0.8" />
<line x1="39.1" y1="433.5" x2="40.9" y2="433.5" stroke="#444" stroke-width="0.8" />
<text x="35.3" y="289.4" font-size="13.5" text-anchor="end" fill="#000" font-weight="normal" >20</text>
<text x="35.3" y="327.6" font-size="13.5" text-anchor="end" fill="#000" font-weight="normal" >10</text>
<text x="35.3" y="365.7" font-size="13.5" text-anchor="end" fill="#000" font-weight="normal" >0</text>
<text x="35.3" y="392.8" font-size="13.5" text-anchor="end" fill="#000" font-weight="normal" >20</text>
<text x="35.3" y="422.5" font-size="13.5" text-anchor="end" fill="#000" font-weight="normal" >10</text>
<text x="35.3" y="452.2" font-size="13.5" text-anchor="end" fill="#000" font-weight="normal" >0</text>
<text x="54.4" y="471.8" font-size="13.5" text-anchor="middle" fill="#000" font-weight="normal" >1.35</text>
<text x="107.9" y="471.8" font-size="13.5" text-anchor="middle" fill="#000" font-weight="normal" >1.50</text>
<text x="159.4" y="471.8" font-size="13.5" text-anchor="middle" fill="#000" font-weight="normal" >1.65</text>
<text x="112.5" y="484.6" font-size="13.5" text-anchor="middle" fill="#000" font-weight="normal" >Energy (eV)</text>
<text x="13.5" y="365.5" font-size="13.5" text-anchor="middle" fill="#000" font-weight="normal" textLength="101.5" lengthAdjust="spacingAndGlyphs" transform="rotate(-90 13.5 365.5)">Intensity (10<tspan font-size="8" dy="-5">3</tspan><tspan dy="5">arb.u.)</tspan></text>
<text x="42.5" y="296.2" font-size="16.5" text-anchor="start" fill="#000" font-weight="normal" >(d)</text>
<text x="44.3" y="319.5" font-size="14.5" text-anchor="start" fill="#000" font-weight="normal" >2H</text>
<text x="116.3" y="306.8" font-size="10" text-anchor="start" fill="#ffb800" font-weight="normal" >×2</text>
<text x="105.8" y="322.5" font-size="10" text-anchor="start" fill="#ff6cff" font-weight="normal" >×15</text>
<text x="95.9" y="331.6" font-size="10" text-anchor="start" fill="#1faa1f" font-weight="normal" >×15</text>
<text x="85.0" y="343.8" font-size="10" text-anchor="start" fill="#3f9cff" font-weight="normal" >×15</text>
<text x="74.0" y="353.2" font-size="10" text-anchor="start" fill="#9b5cf0" font-weight="normal" >×15</text>
<text x="163.5" y="300.5" font-size="11.8" text-anchor="start" fill="#ff8a1e" font-weight="normal" >1L</text>
<text x="115.0" y="361.6" font-size="11.5" text-anchor="start" fill="#9b5cf0" font-weight="normal" >6L</text>
<line x1="129.8" y1="355.0" x2="163.4" y2="304.8" stroke="#111" stroke-width="1.5" />
<line x1="163.8" y1="304.1" x2="156.8" y2="308.0" stroke="#111" stroke-width="1.9" stroke-linecap="butt"/>
<line x1="163.8" y1="304.1" x2="162.9" y2="312.0" stroke="#111" stroke-width="1.9" stroke-linecap="butt"/>
<text x="42.5" y="390.8" font-size="16.5" text-anchor="start" fill="#000" font-weight="normal" >(e)</text>
<text x="44.3" y="416.3" font-size="14.5" text-anchor="start" fill="#000" font-weight="normal" >3R</text>
<text x="109.0" y="395.5" font-size="10" text-anchor="start" fill="#ffb800" font-weight="normal" >×4</text>
<text x="92.8" y="407.2" font-size="10" text-anchor="start" fill="#ff6cff" font-weight="normal" >×20</text>
<text x="78.4" y="419.5" font-size="10" text-anchor="start" fill="#1faa1f" font-weight="normal" >×15</text>
<text x="64.0" y="428.1" font-size="10" text-anchor="start" fill="#3f9cff" font-weight="normal" >×15</text>
<text x="49.7" y="437.2" font-size="10" text-anchor="start" fill="#9b5cf0" font-weight="normal" >×15</text>
<text x="166.0" y="389.5" font-size="11.8" text-anchor="start" fill="#ff8a1e" font-weight="normal" >1L</text>
<text x="120.2" y="448.5" font-size="11.5" text-anchor="start" fill="#9b5cf0" font-weight="normal" >6L</text>
<line x1="134.5" y1="444.2" x2="170.5" y2="392.2" stroke="#111" stroke-width="1.5" />
<line x1="171.0" y1="391.5" x2="164.0" y2="395.3" stroke="#111" stroke-width="1.9" stroke-linecap="butt"/>
<line x1="171.0" y1="391.5" x2="169.9" y2="399.4" stroke="#111" stroke-width="1.9" stroke-linecap="butt"/>
<rect x="227.7" y="278.6" width="147.60000000000002" height="177.2" fill="none" stroke="#4a4a4a" stroke-width="1.4"/>
<line x1="240.0" y1="455.8" x2="240.0" y2="452.8" stroke="#444" stroke-width="0.9" />
<text x="240.0" y="470.4" font-size="13.5" text-anchor="middle" fill="#000" font-weight="normal" >1</text>
<line x1="264.6" y1="455.8" x2="264.6" y2="452.8" stroke="#444" stroke-width="0.9" />
<text x="264.6" y="470.4" font-size="13.5" text-anchor="middle" fill="#000" font-weight="normal" >2</text>
<line x1="289.1" y1="455.8" x2="289.1" y2="452.8" stroke="#444" stroke-width="0.9" />
<text x="289.1" y="470.4" font-size="13.5" text-anchor="middle" fill="#000" font-weight="normal" >3</text>
<line x1="313.6" y1="455.8" x2="313.6" y2="452.8" stroke="#444" stroke-width="0.9" />
<text x="313.6" y="470.4" font-size="13.5" text-anchor="middle" fill="#000" font-weight="normal" >4</text>
<line x1="338.2" y1="455.8" x2="338.2" y2="452.8" stroke="#444" stroke-width="0.9" />
<text x="338.2" y="470.4" font-size="13.5" text-anchor="middle" fill="#000" font-weight="normal" >5</text>
<line x1="362.8" y1="455.8" x2="362.8" y2="452.8" stroke="#444" stroke-width="0.9" />
<text x="362.8" y="470.4" font-size="13.5" text-anchor="middle" fill="#000" font-weight="normal" >6</text>
<line x1="227.7" y1="289.4" x2="230.7" y2="289.4" stroke="#444" stroke-width="1.0" />
<line x1="227.7" y1="328.3" x2="230.7" y2="328.3" stroke="#444" stroke-width="1.0" />
<line x1="227.7" y1="308.8" x2="229.7" y2="308.8" stroke="#444" stroke-width="1.0" />
<line x1="227.7" y1="404.8" x2="230.7" y2="404.8" stroke="#444" stroke-width="1.0" />
<line x1="227.7" y1="440.0" x2="230.7" y2="440.0" stroke="#444" stroke-width="1.0" />
<line x1="227.7" y1="422.4" x2="229.7" y2="422.4" stroke="#444" stroke-width="1.0" />
<line x1="227.7" y1="387.2" x2="229.7" y2="387.2" stroke="#444" stroke-width="1.0" />
<text x="226.0" y="293.8" font-size="13.5" text-anchor="end" fill="#000" font-weight="normal" >309</text>
<text x="226.0" y="332.7" font-size="13.5" text-anchor="end" fill="#000" font-weight="normal" >308</text>
<text x="226.0" y="409.2" font-size="13.5" text-anchor="end" fill="#000" font-weight="normal" >250</text>
<text x="226.0" y="444.4" font-size="13.5" text-anchor="end" fill="#000" font-weight="normal" >248</text>
<path d="M220.7,364.3 L235,358.3 L235,364.3 L220.7,370.3 z" fill="#fff"/>
<line x1="220.7" y1="370.3" x2="235.0" y2="364.3" stroke="#333" stroke-width="1" />
<line x1="220.7" y1="364.3" x2="235.0" y2="358.3" stroke="#333" stroke-width="1" />
<path d="M367,366.5 L380,360.5 L380,366.5 L367,372.5 z" fill="#fff"/>
<line x1="367.0" y1="372.5" x2="380.0" y2="366.5" stroke="#333" stroke-width="1" />
<line x1="367.0" y1="366.5" x2="380.0" y2="360.5" stroke="#333" stroke-width="1" />
<polyline points="264.6,301.1 289.1,324.7 313.6,344.3 338.2,356.5 362.8,356.8" fill="none" stroke="#6b6bff" stroke-width="1.0" stroke-linejoin="round" />
<circle cx="264.6" cy="301.1" r="3.1" fill="#fff" stroke="#6b6bff" stroke-width="1.2"/>
<circle cx="289.1" cy="324.7" r="3.1" fill="#fff" stroke="#6b6bff" stroke-width="1.2"/>
<circle cx="313.6" cy="344.3" r="3.1" fill="#fff" stroke="#6b6bff" stroke-width="1.2"/>
<circle cx="338.2" cy="356.5" r="3.1" fill="#fff" stroke="#6b6bff" stroke-width="1.2"/>
<circle cx="362.8" cy="356.8" r="3.1" fill="#fff" stroke="#6b6bff" stroke-width="1.2"/>
<polyline points="264.6,285.0 289.1,314.1 313.6,335.0 338.2,339.1 362.8,343.8" fill="none" stroke="#0018e8" stroke-width="2.0" stroke-linejoin="round" />
<circle cx="264.6" cy="285.0" r="3.1" fill="#0018e8"/><circle cx="263.8" cy="284.2" r="0.9" fill="#fff" opacity="0.6"/>
<circle cx="289.1" cy="314.1" r="3.1" fill="#0018e8"/><circle cx="288.3" cy="313.3" r="0.9" fill="#fff" opacity="0.6"/>
<circle cx="313.6" cy="335.0" r="3.1" fill="#0018e8"/><circle cx="312.8" cy="334.2" r="0.9" fill="#fff" opacity="0.6"/>
<circle cx="338.2" cy="339.1" r="3.1" fill="#0018e8"/><circle cx="337.4" cy="338.3" r="0.9" fill="#fff" opacity="0.6"/>
<circle cx="362.8" cy="343.8" r="3.1" fill="#0018e8"/><circle cx="361.9" cy="343.0" r="0.9" fill="#fff" opacity="0.6"/>
<polyline points="240.0,404.8 264.6,389.3 289.1,388.4 313.6,385.8 338.2,411.0 362.8,408.7" fill="none" stroke="#22bb22" stroke-width="1.2" stroke-linejoin="round" />
<circle cx="240.0" cy="404.8" r="3.1" fill="#fff" stroke="#22bb22" stroke-width="1.2"/>
<circle cx="264.6" cy="389.3" r="3.1" fill="#fff" stroke="#22bb22" stroke-width="1.2"/>
<circle cx="289.1" cy="388.4" r="3.1" fill="#fff" stroke="#22bb22" stroke-width="1.2"/>
<circle cx="313.6" cy="385.8" r="3.1" fill="#fff" stroke="#22bb22" stroke-width="1.2"/>
<circle cx="338.2" cy="411.0" r="3.1" fill="#fff" stroke="#22bb22" stroke-width="1.2"/>
<circle cx="362.8" cy="408.7" r="3.1" fill="#fff" stroke="#22bb22" stroke-width="1.2"/>
<polyline points="240.0,400.1 264.6,382.7 289.1,382.7 313.6,377.2 338.2,386.8 362.8,379.2" fill="none" stroke="#117711" stroke-width="1.6" stroke-linejoin="round" />
<circle cx="240.0" cy="400.1" r="3.1" fill="#117711"/><circle cx="239.2" cy="399.3" r="0.9" fill="#fff" opacity="0.6"/>
<circle cx="264.6" cy="382.7" r="3.1" fill="#117711"/><circle cx="263.8" cy="381.9" r="0.9" fill="#fff" opacity="0.6"/>
<circle cx="289.1" cy="382.7" r="3.1" fill="#117711"/><circle cx="288.3" cy="381.9" r="0.9" fill="#fff" opacity="0.6"/>
<circle cx="313.6" cy="377.2" r="3.1" fill="#117711"/><circle cx="312.8" cy="376.4" r="0.9" fill="#fff" opacity="0.6"/>
<circle cx="338.2" cy="386.8" r="3.1" fill="#117711"/><circle cx="337.4" cy="386.0" r="0.9" fill="#fff" opacity="0.6"/>
<circle cx="362.8" cy="379.2" r="3.1" fill="#117711"/><circle cx="361.9" cy="378.4" r="0.9" fill="#fff" opacity="0.6"/>
<polyline points="240.0,404.8 264.6,411.3 289.1,433.4 313.6,423.2 338.2,445.1 362.8,446.5" fill="none" stroke="#ff77ff" stroke-width="1.2" stroke-linejoin="round" />
<circle cx="240.0" cy="404.8" r="3.1" fill="#fff" stroke="#ff77ff" stroke-width="1.2"/>
<circle cx="264.6" cy="411.3" r="3.1" fill="#fff" stroke="#ff77ff" stroke-width="1.2"/>
<circle cx="289.1" cy="433.4" r="3.1" fill="#fff" stroke="#ff77ff" stroke-width="1.2"/>
<circle cx="313.6" cy="423.2" r="3.1" fill="#fff" stroke="#ff77ff" stroke-width="1.2"/>
<circle cx="338.2" cy="445.1" r="3.1" fill="#fff" stroke="#ff77ff" stroke-width="1.2"/>
<circle cx="362.8" cy="446.5" r="3.1" fill="#fff" stroke="#ff77ff" stroke-width="1.2"/>
<polyline points="240.0,404.8 264.6,414.4 289.1,429.8 313.6,423.2 338.2,434.5 362.8,434.5" fill="none" stroke="#ff00ff" stroke-width="1.6" stroke-linejoin="round" />
<circle cx="240.0" cy="404.8" r="3.1" fill="#ff00ff"/><circle cx="239.2" cy="404.0" r="0.9" fill="#fff" opacity="0.6"/>
<circle cx="264.6" cy="414.4" r="3.1" fill="#ff00ff"/><circle cx="263.8" cy="413.6" r="0.9" fill="#fff" opacity="0.6"/>
<circle cx="289.1" cy="429.8" r="3.1" fill="#ff00ff"/><circle cx="288.3" cy="429.0" r="0.9" fill="#fff" opacity="0.6"/>
<circle cx="313.6" cy="423.2" r="3.1" fill="#ff00ff"/><circle cx="312.8" cy="422.4" r="0.9" fill="#fff" opacity="0.6"/>
<circle cx="338.2" cy="434.5" r="3.1" fill="#ff00ff"/><circle cx="337.4" cy="433.7" r="0.9" fill="#fff" opacity="0.6"/>
<circle cx="362.8" cy="434.5" r="3.1" fill="#ff00ff"/><circle cx="361.9" cy="433.7" r="0.9" fill="#fff" opacity="0.6"/>
<text x="233.8" y="296.3" font-size="16.5" text-anchor="start" fill="#000" font-weight="normal" >(f)</text>
<text x="281.0" y="294.8" font-size="14" text-anchor="start" fill="#0018e8" font-weight="normal" >3R</text>
<text x="251.3" y="323.4" font-size="14" text-anchor="start" fill="#6b6bff" font-weight="normal" >2H</text>
<text x="336.2" y="299.9" font-size="14.5" text-anchor="start" fill="#0018e8" font-weight="normal" >B<tspan font-size="9" dy="-8.5">1</tspan><tspan font-size="9" dx="-4.5" dy="12">2g</tspan></text>
<text x="248.3" y="363.3" font-size="14.5" text-anchor="start" fill="#117711" font-weight="normal" >A<tspan font-size="9" dy="4.5">1g</tspan></text>
<text x="296.4" y="371.5" font-size="14" text-anchor="start" fill="#117711" font-weight="normal" >3R</text>
<text x="301.5" y="402.1" font-size="14" text-anchor="start" fill="#22bb22" font-weight="normal" >2H</text>
<text x="238.0" y="435.5" font-size="17" text-anchor="start" fill="#ff00ff" font-weight="normal" >E<tspan font-size="9.5" dy="-9.5">1</tspan><tspan font-size="10" dx="-4.5" dy="14">2g</tspan></text>
<text x="340.3" y="429.8" font-size="14" text-anchor="start" fill="#ff00ff" font-weight="normal" >3R</text>
<text x="310.3" y="447.1" font-size="14" text-anchor="start" fill="#ff77ff" font-weight="normal" >2H</text>
<text x="299.5" y="485.0" font-size="13.6" text-anchor="middle" fill="#000" font-weight="normal" >Layer number n</text>
<text x="197.5" y="351.5" font-size="12" text-anchor="middle" fill="#000" font-weight="normal" textLength="132" lengthAdjust="spacingAndGlyphs" transform="rotate(-90 197.5 351.5)">Raman peak position (cm<tspan font-size="7.5" dy="-4">-1</tspan><tspan dy="4">)</tspan></text>
<rect x="420.8" y="278.7" width="146.59999999999997" height="178.0" fill="none" stroke="#4a4a4a" stroke-width="1.4"/>
<line x1="432.3" y1="456.7" x2="432.3" y2="453.7" stroke="#444" stroke-width="0.9" />
<text x="432.3" y="470.0" font-size="13.5" text-anchor="middle" fill="#000" font-weight="normal" >1</text>
<line x1="456.9" y1="456.7" x2="456.9" y2="453.7" stroke="#444" stroke-width="0.9" />
<text x="456.9" y="470.0" font-size="13.5" text-anchor="middle" fill="#000" font-weight="normal" >2</text>
<line x1="481.5" y1="456.7" x2="481.5" y2="453.7" stroke="#444" stroke-width="0.9" />
<text x="481.5" y="470.0" font-size="13.5" text-anchor="middle" fill="#000" font-weight="normal" >3</text>
<line x1="506.1" y1="456.7" x2="506.1" y2="453.7" stroke="#444" stroke-width="0.9" />
<text x="506.1" y="470.0" font-size="13.5" text-anchor="middle" fill="#000" font-weight="normal" >4</text>
<line x1="530.7" y1="456.7" x2="530.7" y2="453.7" stroke="#444" stroke-width="0.9" />
<text x="530.7" y="470.0" font-size="13.5" text-anchor="middle" fill="#000" font-weight="normal" >5</text>
<line x1="555.3" y1="456.7" x2="555.3" y2="453.7" stroke="#444" stroke-width="0.9" />
<text x="555.3" y="470.0" font-size="13.5" text-anchor="middle" fill="#000" font-weight="normal" >6</text>
<line x1="420.8" y1="297.8" x2="423.8" y2="297.8" stroke="#444" stroke-width="1.0" />
<line x1="420.8" y1="325.1" x2="423.8" y2="325.1" stroke="#444" stroke-width="1.0" />
<line x1="420.8" y1="352.4" x2="423.8" y2="352.4" stroke="#444" stroke-width="1.0" />
<line x1="420.8" y1="284.1" x2="422.8" y2="284.1" stroke="#444" stroke-width="1.0" />
<line x1="420.8" y1="311.5" x2="422.8" y2="311.5" stroke="#444" stroke-width="1.0" />
<line x1="420.8" y1="338.8" x2="422.8" y2="338.8" stroke="#444" stroke-width="1.0" />
<line x1="420.8" y1="452.9" x2="423.8" y2="452.9" stroke="#444" stroke-width="1.0" />
<line x1="420.8" y1="416.5" x2="423.8" y2="416.5" stroke="#444" stroke-width="1.0" />
<line x1="420.8" y1="380.1" x2="423.8" y2="380.1" stroke="#444" stroke-width="1.0" />
<line x1="420.8" y1="434.7" x2="422.8" y2="434.7" stroke="#444" stroke-width="1.0" />
<line x1="420.8" y1="398.3" x2="422.8" y2="398.3" stroke="#444" stroke-width="1.0" />
<text x="419.0" y="302.2" font-size="13.5" text-anchor="end" fill="#000" font-weight="normal" >1.60</text>
<text x="419.0" y="329.5" font-size="13.5" text-anchor="end" fill="#000" font-weight="normal" >1.56</text>
<text x="419.0" y="356.8" font-size="13.5" text-anchor="end" fill="#000" font-weight="normal" >1.52</text>
<text x="419.0" y="384.5" font-size="13.5" text-anchor="end" fill="#000" font-weight="normal" >20</text>
<text x="419.0" y="420.9" font-size="13.5" text-anchor="end" fill="#000" font-weight="normal" >10</text>
<text x="419.0" y="457.3" font-size="13.5" text-anchor="end" fill="#000" font-weight="normal" >0</text>
<path d="M412.6,364.3 L427,358.3 L427,364.3 L412.6,370.3 z" fill="#fff"/>
<line x1="412.6" y1="370.3" x2="427.0" y2="364.3" stroke="#333" stroke-width="1" />
<line x1="412.6" y1="364.3" x2="427.0" y2="358.3" stroke="#333" stroke-width="1" />
<path d="M560,366.7 L574.4,360.7 L574.4,366.7 L560,372.7 z" fill="#fff"/>
<line x1="560.0" y1="372.7" x2="574.4" y2="366.7" stroke="#333" stroke-width="1" />
<line x1="560.0" y1="366.7" x2="574.4" y2="360.7" stroke="#333" stroke-width="1" />
<polyline points="432.3,303.4 432.6,303.7 432.8,304.0 433.1,304.3 433.5,304.6 433.8,305.0 434.2,305.4 434.5,305.8 434.9,306.3 435.3,306.7 435.7,307.2 436.2,307.7 436.6,308.2 437.1,308.7 437.5,309.3 438.0,309.8 438.5,310.4 439.0,311.0 439.5,311.6 440.1,312.2 440.6,312.8 441.1,313.4 441.7,314.0 442.2,314.6 442.8,315.2 443.3,315.8 443.9,316.5 444.5,317.1 445.1,317.7 445.6,318.3 446.2,318.9 446.8,319.6 447.4,320.2 448.0,320.8 448.6,321.3 449.2,321.9 449.7,322.5 450.3,323.1 450.9,323.6 451.5,324.1 452.0,324.7 452.6,325.2 453.2,325.7 453.7,326.1 454.3,326.6 454.8,327.0 455.4,327.4 455.9,327.8 456.4,328.2 456.9,328.5 457.4,328.8 457.9,329.1 458.4,329.4 458.9,329.7 459.4,329.9 459.9,330.2 460.4,330.4 460.9,330.7 461.4,330.9 461.9,331.1 462.4,331.3 462.9,331.4 463.4,331.6 463.9,331.8 464.4,331.9 464.9,332.1 465.4,332.2 465.9,332.4 466.4,332.5 466.9,332.6 467.4,332.7 467.9,332.8 468.4,332.9 468.9,333.0 469.5,333.1 470.0,333.2 470.5,333.3 471.0,333.4 471.5,333.4 472.0,333.5 472.5,333.6 473.0,333.7 473.5,333.8 474.0,333.8 474.5,333.9 475.0,334.0 475.5,334.1 476.0,334.2 476.5,334.2 477.0,334.3 477.5,334.4 478.0,334.5 478.5,334.6 479.0,334.7 479.5,334.8 480.0,334.9 480.5,335.0 481.0,335.2 481.5,335.3 482.0,335.4 482.5,335.6 483.0,335.7 483.5,335.9 484.0,336.0 484.5,336.1 485.0,336.3 485.5,336.4 486.0,336.6 486.5,336.7 487.0,336.9 487.5,337.0 488.0,337.1 488.5,337.3 489.0,337.4 489.5,337.6 490.0,337.7 490.5,337.9 491.0,338.0 491.5,338.2 492.0,338.3 492.5,338.4 493.0,338.6 493.5,338.7 494.1,338.9 494.6,339.0 495.1,339.2 495.6,339.3 496.1,339.4 496.6,339.6 497.1,339.7 497.6,339.8 498.1,340.0 498.6,340.1 499.1,340.2 499.6,340.4 500.1,340.5 500.6,340.6 501.1,340.7 501.6,340.8 502.1,341.0 502.6,341.1 503.1,341.2 503.6,341.3 504.1,341.4 504.6,341.5 505.1,341.6 505.6,341.7 506.1,341.8 506.6,341.9 507.1,342.0 507.6,342.1 508.1,342.2 508.6,342.2 509.1,342.3 509.6,342.4 510.1,342.5 510.6,342.5 511.1,342.6 511.6,342.7 512.1,342.8 512.6,342.8 513.1,342.9 513.6,342.9 514.1,343.0 514.6,343.1 515.1,343.1 515.6,343.2 516.1,343.2 516.6,343.3 517.1,343.3 517.6,343.4 518.1,343.4 518.7,343.5 519.2,343.5 519.7,343.6 520.2,343.6 520.7,343.7 521.2,343.7 521.7,343.8 522.2,343.8 522.7,343.9 523.2,343.9 523.7,343.9 524.2,344.0 524.7,344.0 525.2,344.1 525.7,344.1 526.2,344.1 526.7,344.2 527.2,344.2 527.7,344.3 528.2,344.3 528.7,344.3 529.2,344.4 529.7,344.4 530.2,344.5 530.7,344.5 531.2,344.5 531.7,344.6 532.2,344.6 532.8,344.7 533.3,344.7 533.9,344.7 534.4,344.8 535.0,344.8 535.6,344.9 536.1,344.9 536.7,344.9 537.3,345.0 537.9,345.0 538.4,345.0 539.0,345.1 539.6,345.1 540.2,345.1 540.8,345.2 541.4,345.2 542.0,345.2 542.5,345.3 543.1,345.3 543.7,345.3 544.3,345.4 544.8,345.4 545.4,345.4 545.9,345.4 546.5,345.5 547.0,345.5 547.5,345.5 548.1,345.5 548.6,345.6 549.1,345.6 549.6,345.6 550.1,345.6 550.5,345.7 551.0,345.7 551.4,345.7 551.9,345.7 552.3,345.7 552.7,345.8 553.1,345.8 553.4,345.8 553.8,345.8 554.1,345.8 554.5,345.9 554.8,345.9 555.0,345.9 555.3,345.9" fill="none" stroke="#22dddd" stroke-width="1.3" stroke-linejoin="round" />
<polyline points="432.3,303.4 432.6,303.7 432.8,304.0 433.1,304.4 433.5,304.7 433.8,305.1 434.2,305.6 434.5,306.0 434.9,306.5 435.3,307.0 435.7,307.5 436.2,308.0 436.6,308.6 437.1,309.1 437.5,309.7 438.0,310.3 438.5,310.9 439.0,311.5 439.5,312.1 440.1,312.8 440.6,313.4 441.1,314.1 441.7,314.7 442.2,315.4 442.8,316.1 443.3,316.7 443.9,317.4 444.5,318.1 445.1,318.7 445.6,319.4 446.2,320.1 446.8,320.7 447.4,321.4 448.0,322.0 448.6,322.7 449.2,323.3 449.7,323.9 450.3,324.6 450.9,325.2 451.5,325.7 452.0,326.3 452.6,326.9 453.2,327.4 453.7,327.9 454.3,328.4 454.8,328.9 455.4,329.4 455.9,329.8 456.4,330.2 456.9,330.6 457.4,331.0 457.9,331.3 458.4,331.7 458.9,332.0 459.4,332.3 459.9,332.6 460.4,332.9 460.9,333.2 461.4,333.5 461.9,333.7 462.4,334.0 462.9,334.2 463.4,334.4 463.9,334.7 464.4,334.9 464.9,335.1 465.4,335.3 465.9,335.5 466.4,335.7 466.9,335.9 467.4,336.0 467.9,336.2 468.4,336.4 468.9,336.5 469.5,336.7 470.0,336.8 470.5,337.0 471.0,337.1 471.5,337.3 472.0,337.4 472.5,337.5 473.0,337.7 473.5,337.8 474.0,337.9 474.5,338.1 475.0,338.2 475.5,338.4 476.0,338.5 476.5,338.6 477.0,338.8 477.5,338.9 478.0,339.1 478.5,339.2 479.0,339.4 479.5,339.5 480.0,339.7 480.5,339.9 481.0,340.0 481.5,340.2 482.0,340.4 482.5,340.6 483.0,340.7 483.5,340.9 484.0,341.1 484.5,341.3 485.0,341.5 485.5,341.7 486.0,341.8 486.5,342.0 487.0,342.2 487.5,342.4 488.0,342.6 488.5,342.7 489.0,342.9 489.5,343.1 490.0,343.3 490.5,343.5 491.0,343.6 491.5,343.8 492.0,344.0 492.5,344.2 493.0,344.3 493.5,344.5 494.1,344.7 494.6,344.8 495.1,345.0 495.6,345.2 496.1,345.4 496.6,345.5 497.1,345.7 497.6,345.8 498.1,346.0 498.6,346.2 499.1,346.3 499.6,346.5 500.1,346.6 500.6,346.8 501.1,346.9 501.6,347.1 502.1,347.2 502.6,347.4 503.1,347.5 503.6,347.6 504.1,347.8 504.6,347.9 505.1,348.0 505.6,348.2 506.1,348.3 506.6,348.4 507.1,348.5 507.6,348.7 508.1,348.8 508.6,348.9 509.1,349.0 509.6,349.1 510.1,349.2 510.6,349.3 511.1,349.4 511.6,349.5 512.1,349.6 512.6,349.6 513.1,349.7 513.6,349.8 514.1,349.9 514.6,350.0 515.1,350.0 515.6,350.1 516.1,350.2 516.6,350.3 517.1,350.3 517.6,350.4 518.1,350.5 518.7,350.6 519.2,350.6 519.7,350.7 520.2,350.8 520.7,350.8 521.2,350.9 521.7,351.0 522.2,351.0 522.7,351.1 523.2,351.2 523.7,351.3 524.2,351.3 524.7,351.4 525.2,351.5 525.7,351.5 526.2,351.6 526.7,351.7 527.2,351.8 527.7,351.9 528.2,351.9 528.7,352.0 529.2,352.1 529.7,352.2 530.2,352.3 530.7,352.4 531.2,352.5 531.7,352.6 532.2,352.7 532.8,352.8 533.3,352.9 533.9,353.0 534.4,353.2 535.0,353.3 535.6,353.4 536.1,353.5 536.7,353.6 537.3,353.8 537.9,353.9 538.4,354.0 539.0,354.1 539.6,354.3 540.2,354.4 540.8,354.5 541.4,354.6 542.0,354.8 542.5,354.9 543.1,355.0 543.7,355.2 544.3,355.3 544.8,355.4 545.4,355.5 545.9,355.7 546.5,355.8 547.0,355.9 547.5,356.0 548.1,356.2 548.6,356.3 549.1,356.4 549.6,356.5 550.1,356.6 550.5,356.7 551.0,356.8 551.4,356.9 551.9,357.0 552.3,357.1 552.7,357.2 553.1,357.3 553.4,357.4 553.8,357.5 554.1,357.5 554.5,357.6 554.8,357.7 555.0,357.7 555.3,357.8" fill="none" stroke="#139a9a" stroke-width="1.5" stroke-linejoin="round" />
<polyline points="432.3,382.7 433.3,386.1 434.3,389.4 435.3,392.5 436.2,395.5 437.2,398.3 438.2,400.9 439.2,403.5 440.2,405.9 441.2,408.2 442.1,410.3 443.1,412.4 444.1,414.4 445.1,416.2 446.1,418.0 447.1,419.7 448.0,421.3 449.0,422.8 450.0,424.2 451.0,425.6 452.0,426.9 453.0,428.1 453.9,429.3 454.9,430.4 455.9,431.5 456.9,432.5 457.9,433.4 458.9,434.3 459.9,435.2 460.8,436.0 461.8,436.8 462.8,437.5 463.8,438.2 464.8,438.9 465.8,439.5 466.7,440.2 467.7,440.7 468.7,441.3 469.7,441.8 470.7,442.3 471.7,442.7 472.6,443.2 473.6,443.6 474.6,444.0 475.6,444.4 476.6,444.7 477.6,445.1 478.5,445.4 479.5,445.7 480.5,446.0 481.5,446.3 482.5,446.6 483.5,446.8 484.5,447.1 485.4,447.3 486.4,447.5 487.4,447.7 488.4,447.9 489.4,448.1 490.4,448.3 491.3,448.4 492.3,448.6 493.3,448.7 494.3,448.9 495.3,449.0 496.3,449.1 497.2,449.3 498.2,449.4 499.2,449.5 500.2,449.6 501.2,449.7 502.2,449.8 503.1,449.9 504.1,450.0 505.1,450.1 506.1,450.1 507.1,450.2 508.1,450.3 509.1,450.3 510.0,450.4 511.0,450.5 512.0,450.5 513.0,450.6 514.0,450.6 515.0,450.7 515.9,450.7 516.9,450.8 517.9,450.8 518.9,450.8 519.9,450.9 520.9,450.9 521.8,451.0 522.8,451.0 523.8,451.0 524.8,451.0 525.8,451.1 526.8,451.1 527.7,451.1 528.7,451.1 529.7,451.2 530.7,451.2 531.7,451.2 532.7,451.2 533.7,451.2 534.6,451.3 535.6,451.3 536.6,451.3 537.6,451.3 538.6,451.3 539.6,451.3 540.5,451.4 541.5,451.4 542.5,451.4 543.5,451.4 544.5,451.4 545.5,451.4 546.4,451.4 547.4,451.4 548.4,451.4 549.4,451.4 550.4,451.5 551.4,451.5 552.3,451.5 553.3,451.5 554.3,451.5 555.3,451.5" fill="none" stroke="#dd2222" stroke-width="1.2" stroke-linejoin="round" />
<polyline points="432.3,392.5 433.3,394.6 434.3,396.7 435.3,398.7 436.2,400.6 437.2,402.5 438.2,404.3 439.2,406.0 440.2,407.7 441.2,409.3 442.1,410.8 443.1,412.3 444.1,413.7 445.1,415.1 446.1,416.4 447.1,417.7 448.0,418.9 449.0,420.1 450.0,421.3 451.0,422.4 452.0,423.4 453.0,424.4 453.9,425.4 454.9,426.4 455.9,427.3 456.9,428.2 457.9,429.0 458.9,429.9 459.9,430.6 460.8,431.4 461.8,432.1 462.8,432.9 463.8,433.5 464.8,434.2 465.8,434.8 466.7,435.4 467.7,436.0 468.7,436.6 469.7,437.1 470.7,437.7 471.7,438.2 472.6,438.7 473.6,439.1 474.6,439.6 475.6,440.0 476.6,440.4 477.6,440.8 478.5,441.2 479.5,441.6 480.5,442.0 481.5,442.3 482.5,442.7 483.5,443.0 484.5,443.3 485.4,443.6 486.4,443.9 487.4,444.2 488.4,444.4 489.4,444.7 490.4,445.0 491.3,445.2 492.3,445.4 493.3,445.7 494.3,445.9 495.3,446.1 496.3,446.3 497.2,446.5 498.2,446.7 499.2,446.8 500.2,447.0 501.2,447.2 502.2,447.3 503.1,447.5 504.1,447.6 505.1,447.8 506.1,447.9 507.1,448.1 508.1,448.2 509.1,448.3 510.0,448.4 511.0,448.5 512.0,448.7 513.0,448.8 514.0,448.9 515.0,449.0 515.9,449.1 516.9,449.2 517.9,449.2 518.9,449.3 519.9,449.4 520.9,449.5 521.8,449.6 522.8,449.6 523.8,449.7 524.8,449.8 525.8,449.8 526.8,449.9 527.7,450.0 528.7,450.0 529.7,450.1 530.7,450.1 531.7,450.2 532.7,450.2 533.7,450.3 534.6,450.3 535.6,450.4 536.6,450.4 537.6,450.5 538.6,450.5 539.6,450.6 540.5,450.6 541.5,450.6 542.5,450.7 543.5,450.7 544.5,450.7 545.5,450.8 546.4,450.8 547.4,450.8 548.4,450.9 549.4,450.9 550.4,450.9 551.4,450.9 552.3,451.0 553.3,451.0 554.3,451.0 555.3,451.0" fill="none" stroke="#8a1010" stroke-width="1.3" stroke-linejoin="round" />
<circle cx="432.3" cy="303.4" r="3.1" fill="#139a9a"/><circle cx="431.5" cy="302.6" r="0.9" fill="#fff" opacity="0.6"/>
<circle cx="432.3" cy="303.4" r="3.1" fill="#fff" stroke="#22dddd" stroke-width="1.2"/>
<circle cx="432.3" cy="392.5" r="3.1" fill="#8a1010"/><circle cx="431.5" cy="391.7" r="0.9" fill="#fff" opacity="0.6"/>
<circle cx="432.3" cy="382.7" r="3.1" fill="#fff" stroke="#dd2222" stroke-width="1.2"/>
<circle cx="456.9" cy="330.6" r="3.1" fill="#139a9a"/><circle cx="456.1" cy="329.8" r="0.9" fill="#fff" opacity="0.6"/>
<circle cx="456.9" cy="328.5" r="3.1" fill="#fff" stroke="#22dddd" stroke-width="1.2"/>
<circle cx="456.9" cy="427.7" r="3.1" fill="#8a1010"/><circle cx="456.1" cy="426.9" r="0.9" fill="#fff" opacity="0.6"/>
<circle cx="456.9" cy="432.8" r="3.1" fill="#fff" stroke="#dd2222" stroke-width="1.2"/>
<circle cx="481.5" cy="340.2" r="3.1" fill="#139a9a"/><circle cx="480.7" cy="339.4" r="0.9" fill="#fff" opacity="0.6"/>
<circle cx="481.5" cy="335.3" r="3.1" fill="#fff" stroke="#22dddd" stroke-width="1.2"/>
<circle cx="481.5" cy="445.2" r="3.1" fill="#8a1010"/><circle cx="480.7" cy="444.4" r="0.9" fill="#fff" opacity="0.6"/>
<circle cx="481.5" cy="448.6" r="3.1" fill="#fff" stroke="#dd2222" stroke-width="1.2"/>
<circle cx="506.1" cy="348.3" r="3.1" fill="#139a9a"/><circle cx="505.3" cy="347.5" r="0.9" fill="#fff" opacity="0.6"/>
<circle cx="506.1" cy="341.8" r="3.1" fill="#fff" stroke="#22dddd" stroke-width="1.2"/>
<circle cx="506.1" cy="450.9" r="3.1" fill="#8a1010"/><circle cx="505.3" cy="450.1" r="0.9" fill="#fff" opacity="0.6"/>
<circle cx="506.1" cy="450.9" r="3.1" fill="#fff" stroke="#dd2222" stroke-width="1.2"/>
<circle cx="530.7" cy="352.4" r="3.1" fill="#139a9a"/><circle cx="529.9" cy="351.6" r="0.9" fill="#fff" opacity="0.6"/>
<circle cx="530.7" cy="344.5" r="3.1" fill="#fff" stroke="#22dddd" stroke-width="1.2"/>
<circle cx="530.7" cy="451.0" r="3.1" fill="#8a1010"/><circle cx="529.9" cy="450.2" r="0.9" fill="#fff" opacity="0.6"/>
<circle cx="530.7" cy="451.0" r="3.1" fill="#fff" stroke="#dd2222" stroke-width="1.2"/>
<circle cx="555.3" cy="357.8" r="3.1" fill="#139a9a"/><circle cx="554.5" cy="357.0" r="0.9" fill="#fff" opacity="0.6"/>
<circle cx="555.3" cy="345.9" r="3.1" fill="#fff" stroke="#22dddd" stroke-width="1.2"/>
<circle cx="555.3" cy="451.4" r="3.1" fill="#8a1010"/><circle cx="554.5" cy="450.6" r="0.9" fill="#fff" opacity="0.6"/>
<circle cx="555.3" cy="451.4" r="3.1" fill="#fff" stroke="#dd2222" stroke-width="1.2"/>
<text x="427.8" y="295.2" font-size="16.5" text-anchor="start" fill="#000" font-weight="normal" >(g)</text>
<text x="462.7" y="310.1" font-size="14" text-anchor="start" fill="#22dddd" font-weight="normal" >2H</text>
<text x="436.0" y="349.0" font-size="14" text-anchor="start" fill="#139a9a" font-weight="normal" >3R</text>
<text x="456.6" y="409.3" font-size="14" text-anchor="start" fill="#8a1010" font-weight="normal" >3R</text>
<text x="427.0" y="443.0" font-size="14" text-anchor="start" fill="#dd2222" font-weight="normal" >2H</text>
<text x="490.0" y="484.6" font-size="13.6" text-anchor="middle" fill="#000" font-weight="normal" >Layer number n</text>
<text x="393.2" y="367.5" font-size="12.5" text-anchor="middle" fill="#000" font-weight="normal" textLength="181" lengthAdjust="spacingAndGlyphs" transform="rotate(-90 393.2 367.5)">Intensity (10<tspan font-size="7" dy="-4">2</tspan><tspan dy="4">arb.u.) Peak position (cm</tspan><tspan font-size="7" dy="-4">-1</tspan><tspan dy="4">)</tspan></text>
</svg></body></html>
